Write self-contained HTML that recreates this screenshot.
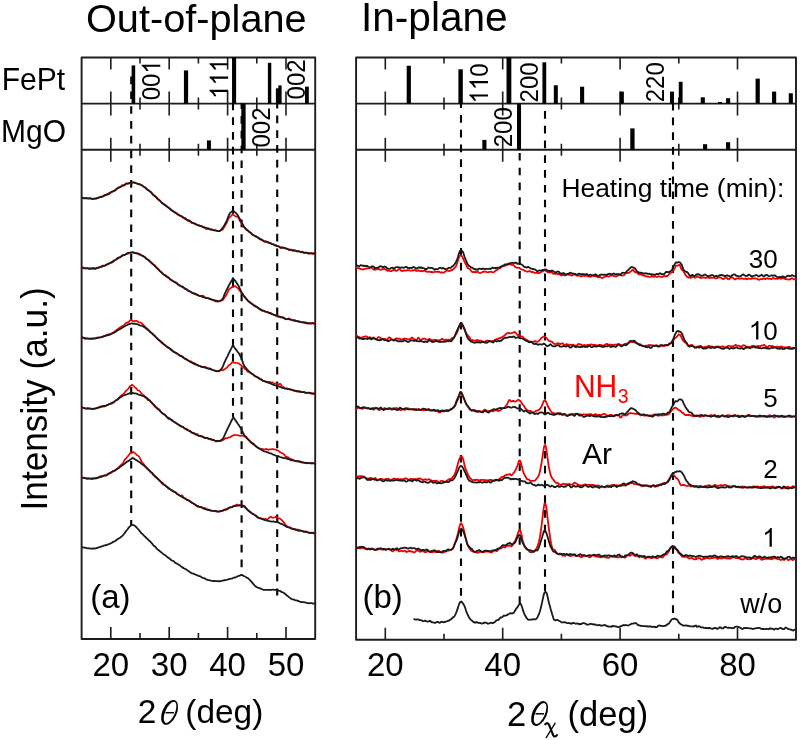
<!DOCTYPE html>
<html><head><meta charset="utf-8"><style>
html,body{margin:0;padding:0;background:#fff;}
svg{display:block;will-change:transform;}
</style></head><body>
<svg width="800" height="740" viewBox="0 0 800 740">
<rect width="800" height="740" fill="#fff"/>
<rect x="81.6" y="57.5" width="233.6" height="581.5" stroke="#1c1c1c" stroke-width="1.9" fill="none" stroke-linejoin="round"/>
<line x1="81.6" y1="103.6" x2="315.2" y2="103.6" stroke="#1c1c1c" stroke-width="1.9" fill="none"/>
<line x1="81.6" y1="149.8" x2="315.2" y2="149.8" stroke="#1c1c1c" stroke-width="1.9" fill="none"/>
<rect x="356.1" y="57.5" width="439.9" height="582.3" stroke="#1c1c1c" stroke-width="1.9" fill="none" stroke-linejoin="round"/>
<line x1="356.1" y1="103.6" x2="796" y2="103.6" stroke="#1c1c1c" stroke-width="1.9" fill="none"/>
<line x1="356.1" y1="149.8" x2="796" y2="149.8" stroke="#1c1c1c" stroke-width="1.9" fill="none"/>
<path d="M110.8 57.5v12M110.8 103.6v-12M169.2 57.5v12M169.2 103.6v-12M227.6 57.5v12M227.6 103.6v-12M286 57.5v12M286 103.6v-12M140 57.5v6M140 103.6v-6M198.4 57.5v6M198.4 103.6v-6M256.8 57.5v6M256.8 103.6v-6M110.8 103.6v12M110.8 149.8v-12M169.2 103.6v12M169.2 149.8v-12M227.6 103.6v12M227.6 149.8v-12M286 103.6v12M286 149.8v-12M140 103.6v6M140 149.8v-6M198.4 103.6v6M198.4 149.8v-6M256.8 103.6v6M256.8 149.8v-6M110.8 149.8v12M110.8 639v-12M169.2 149.8v12M169.2 639v-12M227.6 149.8v12M227.6 639v-12M286 149.8v12M286 639v-12M140 149.8v6M140 639v-6M198.4 149.8v6M198.4 639v-6M256.8 149.8v6M256.8 639v-6" stroke="#1c1c1c" stroke-width="1.6" fill="none"/>
<path d="M385.3 57.5v12M385.3 103.6v-12M502.7 57.5v12M502.7 103.6v-12M620.1 57.5v12M620.1 103.6v-12M737.5 57.5v12M737.5 103.6v-12M444 57.5v6M444 103.6v-6M561.4 57.5v6M561.4 103.6v-6M678.8 57.5v6M678.8 103.6v-6M385.3 103.6v12M385.3 149.8v-12M502.7 103.6v12M502.7 149.8v-12M620.1 103.6v12M620.1 149.8v-12M737.5 103.6v12M737.5 149.8v-12M444 103.6v6M444 149.8v-6M561.4 103.6v6M561.4 149.8v-6M678.8 103.6v6M678.8 149.8v-6M385.3 149.8v12M385.3 639.8v-12M502.7 149.8v12M502.7 639.8v-12M620.1 149.8v12M620.1 639.8v-12M737.5 149.8v12M737.5 639.8v-12M444 149.8v6M444 639.8v-6M561.4 149.8v6M561.4 639.8v-6M678.8 149.8v6M678.8 639.8v-6" stroke="#1c1c1c" stroke-width="1.6" fill="none"/>
<rect x="131.6" y="65.4" width="3.6" height="38.2" fill="#000"/>
<rect x="183.92" y="70.4" width="4.2" height="33.2" fill="#000"/>
<rect x="232.03" y="57.5" width="4.1" height="46.1" fill="#000"/>
<rect x="267.89" y="62.8" width="3.4" height="40.8" fill="#000"/>
<rect x="275.88" y="88.3" width="3.3" height="15.3" fill="#000"/>
<rect x="278.33" y="85.4" width="3.3" height="18.2" fill="#000"/>
<rect x="305.01" y="86.6" width="3.8" height="17" fill="#000"/>
<rect x="206.91" y="140.4" width="4" height="9.4" fill="#000"/>
<rect x="241.33" y="103.6" width="4.3" height="46.2" fill="#000"/>
<rect x="406.68" y="65.75" width="4.2" height="37.85" fill="#000"/>
<rect x="458.41" y="69.3" width="4.4" height="34.3" fill="#000"/>
<rect x="506.52" y="57.5" width="4.8" height="46.1" fill="#000"/>
<rect x="542.42" y="62.3" width="3.8" height="41.3" fill="#000"/>
<rect x="553.82" y="85.3" width="4" height="18.3" fill="#000"/>
<rect x="580.07" y="86.7" width="4.1" height="16.9" fill="#000"/>
<rect x="619.75" y="91.6" width="4.1" height="12" fill="#000"/>
<rect x="669.99" y="91.6" width="4" height="12" fill="#000"/>
<rect x="678.78" y="81.8" width="3.8" height="21.8" fill="#000"/>
<rect x="700.76" y="97.3" width="4.1" height="6.3" fill="#000"/>
<rect x="718.01" y="102" width="4" height="1.6" fill="#000"/>
<rect x="726.06" y="98.2" width="4.1" height="5.4" fill="#000"/>
<rect x="755.59" y="78.6" width="4.2" height="25" fill="#000"/>
<rect x="772.08" y="91.6" width="4.1" height="12" fill="#000"/>
<rect x="788.75" y="93.3" width="4.1" height="10.3" fill="#000"/>
<rect x="482.34" y="139.9" width="4.1" height="9.9" fill="#000"/>
<rect x="517.02" y="103.6" width="4" height="46.2" fill="#000"/>
<rect x="630.28" y="128.4" width="4.3" height="21.4" fill="#000"/>
<rect x="703.05" y="144.2" width="4.1" height="5.6" fill="#000"/>
<rect x="726.06" y="142.2" width="4.1" height="7.6" fill="#000"/>
<g transform="translate(160.28,100.3) rotate(-90) scale(1,1.08)"><text x="0" y="0" font-size="24" font-family="Liberation Sans" fill="#000">0</text><text x="13.34" y="0" font-size="24" font-family="Liberation Sans" fill="#000">0</text><path class="g1" d="M763 0H583V1147Q518 1085 412.5 1023T223 930V1104Q374 1175 487 1276T647 1472H763V0Z" fill="#000" transform="translate(26.69,0) scale(0.01172,-0.01172)"/></g>
<g transform="translate(228.18,98.8) rotate(-90) scale(1,1.08)"><path class="g1" d="M763 0H583V1147Q518 1085 412.5 1023T223 930V1104Q374 1175 487 1276T647 1472H763V0Z" fill="#000" transform="translate(0,0) scale(0.01172,-0.01172)"/><path class="g1" d="M763 0H583V1147Q518 1085 412.5 1023T223 930V1104Q374 1175 487 1276T647 1472H763V0Z" fill="#000" transform="translate(13.34,0) scale(0.01172,-0.01172)"/><path class="g1" d="M763 0H583V1147Q518 1085 412.5 1023T223 930V1104Q374 1175 487 1276T647 1472H763V0Z" fill="#000" transform="translate(26.69,0) scale(0.01172,-0.01172)"/></g>
<g transform="translate(304.78,99.4) rotate(-90) scale(1,1.08)"><text x="0" y="0" font-size="24" font-family="Liberation Sans" fill="#000">0</text><text x="13.34" y="0" font-size="24" font-family="Liberation Sans" fill="#000">0</text><text x="26.69" y="0" font-size="24" font-family="Liberation Sans" fill="#000">2</text></g>
<g transform="translate(269.68,147.5) rotate(-90) scale(1,1.08)"><text x="0" y="0" font-size="24" font-family="Liberation Sans" fill="#000">0</text><text x="13.34" y="0" font-size="24" font-family="Liberation Sans" fill="#000">0</text><text x="26.69" y="0" font-size="24" font-family="Liberation Sans" fill="#000">2</text></g>
<g transform="translate(487.98,103.4) rotate(-90) scale(1,1.08)"><path class="g1" d="M763 0H583V1147Q518 1085 412.5 1023T223 930V1104Q374 1175 487 1276T647 1472H763V0Z" fill="#000" transform="translate(0,0) scale(0.01172,-0.01172)"/><path class="g1" d="M763 0H583V1147Q518 1085 412.5 1023T223 930V1104Q374 1175 487 1276T647 1472H763V0Z" fill="#000" transform="translate(13.34,0) scale(0.01172,-0.01172)"/><text x="26.69" y="0" font-size="24" font-family="Liberation Sans" fill="#000">0</text></g>
<g transform="translate(538.28,102.4) rotate(-90) scale(1,1.08)"><text x="0" y="0" font-size="24" font-family="Liberation Sans" fill="#000">2</text><text x="13.34" y="0" font-size="24" font-family="Liberation Sans" fill="#000">0</text><text x="26.69" y="0" font-size="24" font-family="Liberation Sans" fill="#000">0</text></g>
<g transform="translate(512.08,147.3) rotate(-90) scale(1,1.08)"><text x="0" y="0" font-size="24" font-family="Liberation Sans" fill="#000">2</text><text x="13.34" y="0" font-size="24" font-family="Liberation Sans" fill="#000">0</text><text x="26.69" y="0" font-size="24" font-family="Liberation Sans" fill="#000">0</text></g>
<g transform="translate(664.08,102.3) rotate(-90) scale(1,1.08)"><text x="0" y="0" font-size="24" font-family="Liberation Sans" fill="#000">2</text><text x="13.34" y="0" font-size="24" font-family="Liberation Sans" fill="#000">2</text><text x="26.69" y="0" font-size="24" font-family="Liberation Sans" fill="#000">0</text></g>
<line x1="131.2" y1="76.6" x2="131.2" y2="525" stroke="#000" stroke-width="2.1" stroke-dasharray="7.7 7.08" stroke-dashoffset="0"/>
<line x1="233" y1="103.6" x2="233" y2="417" stroke="#000" stroke-width="2.1" stroke-dasharray="7.7 7.08" stroke-dashoffset="1.1"/>
<line x1="241.6" y1="103.6" x2="241.6" y2="575" stroke="#000" stroke-width="2.1" stroke-dasharray="7.7 7.08" stroke-dashoffset="2.3"/>
<line x1="277.2" y1="103.6" x2="277.2" y2="595.5" stroke="#000" stroke-width="2.1" stroke-dasharray="7.7 7.08" stroke-dashoffset="2.9"/>
<line x1="461" y1="103.6" x2="461" y2="601.5" stroke="#000" stroke-width="2.1" stroke-dasharray="7.7 7.08" stroke-dashoffset="3.4"/>
<line x1="519.7" y1="149.8" x2="519.7" y2="603" stroke="#000" stroke-width="2.1" stroke-dasharray="7.7 7.08" stroke-dashoffset="11.7"/>
<line x1="545" y1="103.6" x2="545" y2="591" stroke="#000" stroke-width="2.1" stroke-dasharray="7.7 7.08" stroke-dashoffset="7.4"/>
<line x1="673" y1="103.6" x2="673" y2="619" stroke="#000" stroke-width="2.1" stroke-dasharray="7.7 7.08" stroke-dashoffset="0.9"/>
<polyline points="82,197.67 82.8,197.99 83.6,197.99 84.4,197.93 85.2,198.25 86,198.17 86.8,197.94 87.6,198.33 88.4,198.6 89.2,198.36 90,198.2 90.8,198.58 91.6,199.03 92.4,199.16 93.2,198.9 94,198.63 94.8,198.65 95.6,198.75 96.4,198.8 97.2,198.29 98,197.79 98.8,197.66 99.6,197.24 100.4,196.68 101.2,196.49 102,196.54 102.8,196.18 103.6,195.5 104.4,195.11 105.2,194.86 106,194.93 106.8,195.18 107.6,194.56 108.4,194.05 109.2,194.12 110,193.34 110.8,192.06 111.6,191.65 112.4,191.83 113.2,191.4 114,190.86 114.8,190.78 115.6,190.37 116.4,189.26 117.2,188.34 118,187.9 118.8,187.25 119.6,187.12 120.4,187.1 121.2,186.24 122,185.39 122.8,185.15 123.6,185.48 124.4,185.46 125.2,184.38 126,183.36 126.8,183.45 127.6,183.65 128.4,183.14 129.2,182.83 130,183.08 130.8,183.09 131.6,182.7 132.4,182.48 133.2,182.41 134,182.42 134.8,182.83 135.6,183.2 136.4,183.28 137.2,183.49 138,183.79 138.8,183.91 139.6,183.98 140.4,184.45 141.2,185.1 142,185.51 142.8,186.13 143.6,186.81 144.4,187.16 145.2,187.6 146,188.45 146.8,189.37 147.6,189.75 148.4,190.26 149.2,190.96 150,191.4 150.8,191.89 151.6,192.74 152.4,194.08 153.2,195.11 154,195.51 154.8,195.9 155.6,196.52 156.4,196.99 157.2,197.88 158,199.27 158.8,200.02 159.6,200.54 160.4,201.16 161.2,202.04 162,202.93 162.8,203.21 163.6,203.68 164.4,204.38 165.2,204.86 166,205.48 166.8,206.27 167.6,206.94 168.4,207.55 169.2,207.91 170,208.46 170.8,209.49 171.6,210.04 172.4,210.41 173.2,211.12 174,211.8 174.8,212.09 175.6,212.4 176.4,213.2 177.2,214.2 178,214.85 178.8,215.14 179.6,215.59 180.4,215.9 181.2,216.11 182,216.92 182.8,217.78 183.6,217.97 184.4,217.84 185.2,217.97 186,218.59 186.8,219.4 187.6,219.96 188.4,220.09 189.2,220.2 190,221.1 190.8,222.28 191.6,222.81 192.4,222.7 193.2,222.82 194,223.36 194.8,223.73 195.6,224.19 196.4,224.6 197.2,224.96 198,225.35 198.8,225.69 199.6,225.96 200.4,225.96 201.2,226.1 202,226.56 202.8,226.94 203.6,227.12 204.4,227.42 205.2,228.14 206,228.98 206.8,229.16 207.6,228.81 208.4,228.8 209.2,229.2 210,229.52 210.8,229.4 211.6,229.17 212.4,229.57 213.2,230.21 214,230.4 214.8,230.33 215.6,230.41 216.4,230.77 217.2,230.95 218,231.01 218.8,231.26 219.6,230.96 220.4,230.42 221.2,230.24 222,230.03 222.8,229.47 223.6,228.17 224.4,226.74 225.2,225.38 226,224.1 226.8,222.85 227.6,220.61 228.4,218.47 229.2,217.58 230,217.04 230.8,216.31 231.6,215.41 232.4,214.48 233.2,214.57 234,215.38 234.8,215.88 235.6,216.4 236.4,216.72 237.2,216.56 238,217.12 238.8,218.67 239.6,220.39 240.4,221.71 241.2,222.65 242,224.16 242.8,226.19 243.6,227.2 244.4,227.54 245.2,228.45 246,229.53 246.8,230.18 247.6,230.57 248.4,231.07 249.2,231.83 250,232.44 250.8,232.68 251.6,233.34 252.4,234.4 253.2,235.01 254,235.3 254.8,235.52 255.6,235.72 256.4,236.44 257.2,237.35 258,237.79 258.8,238.34 259.6,239.24 260.4,239.56 261.2,239.35 262,239.61 262.8,240.2 263.6,241.06 264.4,241.87 265.2,241.83 266,241.39 266.8,241.76 267.6,242.46 268.4,242.63 269.2,242.64 270,242.71 270.8,243.18 271.6,243.69 272.4,244.07 273.2,244.45 274,244.5 274.8,244.69 275.6,244.99 276.4,245.29 277.2,245.78 278,246.1 278.8,246.39 279.6,247.03 280.4,247.9 281.2,248.26 282,247.95 282.8,247.83 283.6,247.99 284.4,247.93 285.2,247.9 286,248.39 286.8,248.91 287.6,249.1 288.4,249.52 289.2,250.01 290,250.17 290.8,250.07 291.6,250.11 292.4,250.79 293.2,250.97 294,250.32 294.8,250.39 295.6,250.92 296.4,251.21 297.2,251.36 298,251.16 298.8,250.98 299.6,251.42 300.4,251.99 301.2,251.88 302,251.46 302.8,251.73 303.6,252.51 304.4,252.9 305.2,252.71 306,252.43 306.8,252.7 307.6,253.45 308.4,253.85 309.2,253.55 310,253.36 310.8,253.45 311.6,253.35 312.4,253.24 313.2,253.29 314,253.32 314.8,253.39 315.2,253.44" fill="none" stroke="#f00000" stroke-width="1.7" stroke-linejoin="round" stroke-linecap="round"/>
<polyline points="82,197.63 82.8,197.95 83.6,198.29 84.4,198.38 85.2,198.26 86,198.2 86.8,198.32 87.6,198.4 88.4,198.38 89.2,198.44 90,198.45 90.8,198.47 91.6,198.66 92.4,198.84 93.2,198.93 94,198.95 94.8,198.73 95.6,198.38 96.4,198.16 97.2,198.08 98,197.96 98.8,197.61 99.6,197.25 100.4,197 101.2,196.89 102,196.8 102.8,196.51 103.6,196.19 104.4,195.78 105.2,195.21 106,194.73 106.8,194.41 107.6,194.07 108.4,193.55 109.2,193.1 110,192.83 110.8,192.52 111.6,192.13 112.4,191.55 113.2,191.01 114,190.74 114.8,190.33 115.6,189.66 116.4,188.96 117.2,188.49 118,188.14 118.8,187.63 119.6,187.35 120.4,187.11 121.2,186.41 122,185.82 122.8,185.63 123.6,185.46 124.4,185.03 125.2,184.5 126,184.05 126.8,183.65 127.6,183.53 128.4,183.55 129.2,183.28 130,182.89 130.8,182.64 131.6,182.53 132.4,182.51 133.2,182.59 134,182.66 134.8,182.72 135.6,182.99 136.4,183.28 137.2,183.5 138,183.95 138.8,184.3 139.6,184.45 140.4,184.74 141.2,184.99 142,185.33 142.8,186.04 143.6,186.6 144.4,186.97 145.2,187.52 146,188.25 146.8,189 147.6,189.66 148.4,190.34 149.2,190.87 150,191.39 150.8,192.17 151.6,192.96 152.4,193.82 153.2,194.72 154,195.37 154.8,196 155.6,196.77 156.4,197.62 157.2,198.59 158,199.25 158.8,199.65 159.6,200.39 160.4,201.34 161.2,202.17 162,202.89 162.8,203.67 163.6,204.26 164.4,204.67 165.2,205.3 166,205.95 166.8,206.46 167.6,207.01 168.4,207.66 169.2,208.36 170,209.03 170.8,209.73 171.6,210.36 172.4,210.87 173.2,211.33 174,211.88 174.8,212.56 175.6,213.04 176.4,213.32 177.2,213.69 178,214.18 178.8,214.78 179.6,215.4 180.4,215.75 181.2,216.02 182,216.46 182.8,216.99 183.6,217.67 184.4,218.36 185.2,218.88 186,219.33 186.8,219.9 187.6,220.48 188.4,220.86 189.2,221.05 190,221.27 190.8,221.75 191.6,222.41 192.4,222.88 193.2,223.1 194,223.36 194.8,223.59 195.6,223.94 196.4,224.44 197.2,224.77 198,225.09 198.8,225.27 199.6,225.47 200.4,225.92 201.2,226.08 202,226.26 202.8,226.98 203.6,227.47 204.4,227.46 205.2,227.58 206,227.78 206.8,228 207.6,228.24 208.4,228.36 209.2,228.75 210,229.31 210.8,229.54 211.6,229.7 212.4,229.93 213.2,230.08 214,230.22 214.8,230.38 215.6,230.42 216.4,230.56 217.2,230.85 218,231.01 218.8,231.17 219.6,231.06 220.4,230.43 221.2,229.54 222,228.54 222.8,227.61 223.6,226.52 224.4,225.23 225.2,223.77 226,222.24 226.8,220.62 227.6,218.5 228.4,216.34 229.2,214.48 230,213.19 230.8,212.36 231.6,211.68 232.4,211.4 233.2,211.41 234,211.57 234.8,212.08 235.6,212.82 236.4,213.53 237.2,214.42 238,215.77 238.8,217.2 239.6,218.56 240.4,219.98 241.2,221.42 242,222.9 242.8,224.54 243.6,226.07 244.4,227.17 245.2,228.09 246,229.01 246.8,229.76 247.6,230.33 248.4,231.04 249.2,231.77 250,232.39 250.8,233.12 251.6,233.91 252.4,234.65 253.2,235.15 254,235.43 254.8,235.97 255.6,236.6 256.4,236.87 257.2,237.05 258,237.56 258.8,238.15 259.6,238.55 260.4,239 261.2,239.52 262,240.01 262.8,240.57 263.6,240.99 264.4,241.19 265.2,241.36 266,241.59 266.8,241.85 267.6,242.11 268.4,242.57 269.2,243.03 270,243.22 270.8,243.46 271.6,243.84 272.4,244.1 273.2,244.34 274,244.85 274.8,245.45 275.6,245.73 276.4,245.84 277.2,246.03 278,246.23 278.8,246.51 279.6,247.01 280.4,247.27 281.2,247.3 282,247.44 282.8,247.51 283.6,247.64 284.4,248 285.2,248.39 286,248.62 286.8,248.73 287.6,248.93 288.4,249.39 289.2,249.73 290,249.69 290.8,249.72 291.6,249.91 292.4,250.02 293.2,250.18 294,250.45 294.8,250.52 295.6,250.63 296.4,251.05 297.2,251.38 298,251.33 298.8,251.3 299.6,251.66 300.4,251.94 301.2,252.04 302,252.26 302.8,252.44 303.6,252.64 304.4,252.75 305.2,252.7 306,252.77 306.8,252.97 307.6,253.03 308.4,252.98 309.2,253.08 310,253.33 310.8,253.33 311.6,253.17 312.4,253.36 313.2,253.74 314,253.74 314.8,253.42 315.2,253.31" fill="none" stroke="#1a1a1a" stroke-width="1.8" stroke-linejoin="round" stroke-linecap="round"/>
<polyline points="82,267.57 82.8,267.97 83.6,268.44 84.4,268.48 85.2,268.37 86,268.25 86.8,268.11 87.6,268.16 88.4,268.29 89.2,268.28 90,268.02 90.8,268.16 91.6,268.66 92.4,268.25 93.2,267.71 94,268.32 94.8,269.02 95.6,269.05 96.4,268.62 97.2,267.87 98,267.53 98.8,267.45 99.6,267 100.4,266.69 101.2,266.52 102,265.99 102.8,265.5 103.6,265.65 104.4,265.93 105.2,265.68 106,265.02 106.8,264.56 107.6,264.41 108.4,263.96 109.2,263.54 110,263.3 110.8,262.93 111.6,262.78 112.4,262.49 113.2,261.77 114,261.09 114.8,260.38 115.6,259.68 116.4,259.36 117.2,259.24 118,258.52 118.8,257.56 119.6,257.41 120.4,257.31 121.2,256.15 122,255.33 122.8,255.45 123.6,255.09 124.4,254.77 125.2,254.82 126,254.32 126.8,253.85 127.6,253.78 128.4,253.63 129.2,253.19 130,252.81 130.8,252.93 131.6,252.75 132.4,252.21 133.2,252.23 134,252.64 134.8,253.07 135.6,253.18 136.4,253.37 137.2,253.54 138,253.37 138.8,253.99 139.6,254.8 140.4,255.07 141.2,255.44 142,255.68 142.8,255.89 143.6,256.15 144.4,256.62 145.2,257.41 146,258.37 146.8,259.27 147.6,259.5 148.4,259.83 149.2,260.68 150,261.44 150.8,261.99 151.6,262.6 152.4,263.67 153.2,264.59 154,264.93 154.8,265.3 155.6,266.2 156.4,267.24 157.2,267.96 158,268.8 158.8,269.75 159.6,270.58 160.4,271.25 161.2,271.75 162,272.67 162.8,273.83 163.6,274.49 164.4,274.88 165.2,275.07 166,275.45 166.8,276.18 167.6,276.71 168.4,277.18 169.2,278.16 170,279.28 170.8,279.95 171.6,280.46 172.4,280.91 173.2,281.23 174,281.48 174.8,281.81 175.6,282.1 176.4,282.43 177.2,283.49 178,284.64 178.8,284.91 179.6,285.3 180.4,286.03 181.2,286.31 182,286.4 182.8,286.76 183.6,287.39 184.4,288.46 185.2,289.25 186,289 186.8,289.06 187.6,289.96 188.4,290.59 189.2,290.93 190,291.47 190.8,292.25 191.6,292.69 192.4,292.95 193.2,293.34 194,293.29 194.8,293.36 195.6,293.81 196.4,294.5 197.2,295.07 198,295.04 198.8,295.49 199.6,296.2 200.4,296.05 201.2,295.83 202,295.84 202.8,295.63 203.6,296.03 204.4,297.03 205.2,297.66 206,298.04 206.8,298.23 207.6,298.23 208.4,298.43 209.2,298.69 210,298.81 210.8,298.91 211.6,299.33 212.4,299.78 213.2,299.97 214,300.48 214.8,301.1 215.6,301.33 216.4,301.52 217.2,301.67 218,301.56 218.8,301.37 219.6,301.16 220.4,300.67 221.2,300.42 222,300.46 222.8,300 223.6,299.06 224.4,297.85 225.2,296.61 226,295.41 226.8,294.17 227.6,292.49 228.4,290.48 229.2,289.03 230,288.36 230.8,287.91 231.6,287.26 232.4,286.89 233.2,286.45 234,285.98 234.8,286.06 235.6,286.52 236.4,287.24 237.2,287.73 238,288.43 238.8,289.49 239.6,290.36 240.4,291.41 241.2,292.56 242,293.45 242.8,294.34 243.6,295.36 244.4,296.59 245.2,297.62 246,298.52 246.8,299.56 247.6,300.37 248.4,301.1 249.2,301.95 250,302.69 250.8,303.08 251.6,303.49 252.4,304.17 253.2,304.8 254,305.54 254.8,306.33 255.6,306.78 256.4,307.03 257.2,307.41 258,307.86 258.8,308.5 259.6,309.21 260.4,309.67 261.2,310.17 262,310.73 262.8,310.92 263.6,310.85 264.4,311.2 265.2,311.66 266,311.74 266.8,311.91 267.6,312.11 268.4,312.57 269.2,313.03 270,312.72 270.8,312.76 271.6,313.58 272.4,314.11 273.2,314.6 274,315.03 274.8,314.93 275.6,315.02 276.4,315.73 277.2,316.34 278,316.57 278.8,316.68 279.6,316.92 280.4,317.28 281.2,317.32 282,317.21 282.8,317.15 283.6,317.44 284.4,318.39 285.2,319.15 286,319.29 286.8,319.25 287.6,319.08 288.4,318.68 289.2,318.43 290,318.88 290.8,319.73 291.6,319.99 292.4,319.91 293.2,320.03 294,319.96 294.8,319.99 295.6,320.62 296.4,321.2 297.2,321.28 298,321.19 298.8,321.31 299.6,321.71 300.4,321.98 301.2,322.17 302,322.22 302.8,322.02 303.6,322.14 304.4,322.28 305.2,322.37 306,323.01 306.8,323.53 307.6,323.56 308.4,323.64 309.2,323.48 310,323.29 310.8,323.64 311.6,323.44 312.4,322.74 313.2,323.01 314,323.4 314.8,323.02 315.2,322.9" fill="none" stroke="#f00000" stroke-width="1.7" stroke-linejoin="round" stroke-linecap="round"/>
<polyline points="82,267.37 82.8,267.52 83.6,267.71 84.4,267.99 85.2,268.24 86,268.32 86.8,268.26 87.6,268.31 88.4,268.67 89.2,268.98 90,268.89 90.8,268.69 91.6,268.57 92.4,268.49 93.2,268.45 94,268.5 94.8,268.5 95.6,268.31 96.4,268.02 97.2,267.87 98,267.8 98.8,267.61 99.6,267.36 100.4,267.12 101.2,266.9 102,266.59 102.8,266.16 103.6,265.81 104.4,265.56 105.2,265.29 106,264.91 106.8,264.52 107.6,264.13 108.4,263.67 109.2,263.33 110,263 110.8,262.47 111.6,261.98 112.4,261.65 113.2,261.11 114,260.56 114.8,260.29 115.6,259.94 116.4,259.2 117.2,258.33 118,257.89 118.8,257.74 119.6,257.41 120.4,256.96 121.2,256.52 122,256.01 122.8,255.39 123.6,254.98 124.4,254.78 125.2,254.53 126,254.16 126.8,253.6 127.6,253.14 128.4,252.94 129.2,252.77 130,252.62 130.8,252.45 131.6,252.36 132.4,252.41 133.2,252.5 134,252.68 134.8,252.98 135.6,253.13 136.4,253.18 137.2,253.44 138,253.78 138.8,253.9 139.6,254.05 140.4,254.45 141.2,255.04 142,255.51 142.8,255.88 143.6,256.42 144.4,257 145.2,257.58 146,258.31 146.8,259.04 147.6,259.58 148.4,260.06 149.2,260.71 150,261.53 150.8,262.31 151.6,263.04 152.4,263.75 153.2,264.33 154,264.97 154.8,265.91 155.6,266.83 156.4,267.55 157.2,268.34 158,269.08 158.8,269.75 159.6,270.71 160.4,271.66 161.2,272.33 162,272.91 162.8,273.58 163.6,274.25 164.4,274.85 165.2,275.62 166,276.33 166.8,276.72 167.6,277.18 168.4,277.79 169.2,278.38 170,278.98 170.8,279.6 171.6,280.09 172.4,280.58 173.2,281.23 174,281.77 174.8,282.33 175.6,282.78 176.4,283.09 177.2,283.75 178,284.33 178.8,284.7 179.6,285.31 180.4,286 181.2,286.46 182,286.72 182.8,287.12 183.6,287.63 184.4,288.01 185.2,288.55 186,289.28 186.8,289.81 187.6,290.39 188.4,290.93 189.2,291.21 190,291.52 190.8,291.94 191.6,292.36 192.4,292.78 193.2,293.19 194,293.58 194.8,293.99 195.6,294.31 196.4,294.48 197.2,294.73 198,295.21 198.8,295.6 199.6,295.77 200.4,295.97 201.2,296.33 202,296.79 202.8,297.16 203.6,297.29 204.4,297.37 205.2,297.64 206,297.98 206.8,298.14 207.6,298.15 208.4,298.27 209.2,298.57 210,298.92 210.8,299.29 211.6,299.6 212.4,299.81 213.2,299.98 214,300.18 214.8,300.36 215.6,300.49 216.4,300.66 217.2,300.9 218,301.06 218.8,301.11 219.6,300.9 220.4,300.59 221.2,300.24 222,299.63 222.8,298.59 223.6,296.81 224.4,294.6 225.2,292.84 226,291.22 226.8,289.5 227.6,287.96 228.4,286.48 229.2,284.95 230,283.41 230.8,282.08 231.6,280.8 232.4,279.27 233,278.04 233.8,279.34 234.6,280.21 235.4,281.07 236.2,282.29 237,283.48 237.8,284.64 238.6,286.02 239.4,287.55 240.2,289.35 241,291.22 241.8,292.7 242.6,293.98 243.4,295.42 244.2,296.52 245,297.19 245.8,298.18 246.6,299.23 247.4,300.01 248.2,300.96 249,301.82 249.8,302.3 250.6,302.81 251.4,303.56 252.2,304.18 253,304.57 253.8,305.08 254.6,305.65 255.4,306.06 256.2,306.58 257,307.13 257.8,307.62 258.6,308.28 259.4,308.86 260.2,309.12 261,309.63 261.8,310.25 262.6,310.42 263.4,310.54 264.2,310.93 265,311.39 265.8,311.7 266.6,311.89 267.4,312.18 268.2,312.52 269,312.83 269.8,313.2 270.6,313.56 271.4,313.81 272.2,314.12 273,314.37 273.8,314.55 274.6,315 275.4,315.52 276.2,315.71 277,315.81 277.8,316.1 278.6,316.42 279.4,316.61 280.2,316.82 281,317.1 281.8,317.31 282.6,317.51 283.4,317.81 284.2,318.15 285,318.55 285.8,318.94 286.6,319.07 287.4,319.11 288.2,319.21 289,319.25 289.8,319.37 290.6,319.53 291.4,319.73 292.2,320.04 293,320.27 293.8,320.52 294.6,320.85 295.4,320.95 296.2,320.97 297,321.22 297.8,321.42 298.6,321.48 299.4,321.68 300.2,321.95 301,322.14 301.8,322.33 302.6,322.44 303.4,322.55 304.2,322.74 305,322.75 305.8,322.66 306.6,322.76 307.4,322.97 308.2,323.13 309,323.17 309.8,323.24 310.6,323.37 311.4,323.38 312.2,323.37 313,323.43 313.8,323.51 314.6,323.64 315.2,323.67" fill="none" stroke="#1a1a1a" stroke-width="1.8" stroke-linejoin="round" stroke-linecap="round"/>
<polyline points="82,337.47 82.8,337.54 83.6,337.73 84.4,338.35 85.2,338.99 86,338.84 86.8,338.46 87.6,338.5 88.4,338.6 89.2,338.54 90,338.59 90.8,338.64 91.6,338.42 92.4,338.54 93.2,338.69 94,338.29 94.8,338.08 95.6,338.27 96.4,338.23 97.2,338.08 98,337.96 98.8,337.6 99.6,337.47 100.4,337.51 101.2,337.42 102,337.27 102.8,336.8 103.6,336.17 104.4,335.86 105.2,335.71 106,335.26 106.8,334.78 107.6,334.5 108.4,334.28 109.2,334.22 110,334.25 110.8,334.32 111.6,333.95 112.4,333.02 113.2,332.51 114,332.14 114.8,331.37 115.6,330.78 116.4,330.09 117.2,329.44 118,329.15 118.8,328.53 119.6,327.72 120.4,327.24 121.2,326.87 122,326.24 122.8,325.73 123.6,325.49 124.4,324.71 125.2,323.66 126,322.95 126.8,322.58 127.6,322.53 128.4,322.05 129.2,321.28 130,320.56 130.8,319.99 131.6,320.19 132.4,320.84 133.2,321.06 134,321.09 134.8,321.11 135.6,320.91 136.4,320.93 137.2,321.11 138,321.7 138.8,322.5 139.6,322.43 140.4,322.34 141.2,322.93 142,323.54 142.8,324.42 143.6,325.3 144.4,325.86 145.2,326.7 146,327.72 146.8,328.22 147.6,328.69 148.4,329.69 149.2,331.06 150,332.08 150.8,332.55 151.6,333.18 152.4,334 153.2,334.77 154,335.41 154.8,336.06 155.6,336.82 156.4,337.54 157.2,338.4 158,339.42 158.8,340.21 159.6,340.7 160.4,341.4 161.2,342.41 162,343.18 162.8,343.68 163.6,344.38 164.4,344.97 165.2,345.26 166,345.73 166.8,346.54 167.6,347.17 168.4,347.38 169.2,347.97 170,348.74 170.8,349.13 171.6,349.7 172.4,350.44 173.2,351.17 174,351.98 174.8,352.56 175.6,352.69 176.4,352.93 177.2,353.67 178,354.29 178.8,354.75 179.6,355.33 180.4,355.79 181.2,355.89 182,356.01 182.8,356.62 183.6,357.49 184.4,358.46 185.2,358.92 186,358.88 186.8,359.29 187.6,359.95 188.4,360.35 189.2,360.9 190,361.36 190.8,361.42 191.6,361.65 192.4,362.29 193.2,363.31 194,364.24 194.8,364.47 195.6,364.24 196.4,364.33 197.2,365.06 198,365.56 198.8,365.63 199.6,365.82 200.4,366.2 201.2,366.92 202,367.17 202.8,367.02 203.6,367.19 204.4,366.95 205.2,366.75 206,367.27 206.8,367.71 207.6,368.08 208.4,368.68 209.2,369.11 210,369.13 210.8,369.06 211.6,369.38 212.4,369.97 213.2,370.29 214,370.46 214.8,370.7 215.6,370.71 216.4,370.97 217.2,371.47 218,371.5 218.8,371.11 219.6,370.75 220.4,370.47 221.2,370.09 222,370.27 222.8,370.47 223.6,369.77 224.4,369.22 225.2,368.92 226,368.19 226.8,367.61 227.6,366.86 228.4,365.62 229.2,364.92 230,364.7 230.8,364.06 231.6,362.85 232.4,362.14 233.2,362.34 234,362.56 234.8,362.65 235.6,362.91 236.4,363.01 237.2,363.01 238,363.13 238.8,363.5 239.6,364.25 240.4,364.69 241.2,365.39 242,366.36 242.8,366.69 243.6,367.29 244.4,368.45 245.2,369.06 246,369.37 246.8,370.43 247.6,371.62 248.4,371.98 249.2,372.12 250,372.55 250.8,373.12 251.6,373.78 252.4,374.21 253.2,374.51 254,375.29 254.8,376.09 255.6,376.36 256.4,376.62 257.2,377.08 258,377.44 258.8,377.93 259.6,378.61 260.4,378.97 261.2,379.38 262,380.11 262.8,380.7 263.6,381.03 264.4,381.17 265.2,381.51 266,382 266.8,382.02 267.6,381.78 268.4,381.82 269.2,381.77 270,382.03 270.8,382.42 271.6,382.26 272.4,382.3 273.2,382.91 274,383.57 274.8,383.51 275.6,383.45 276.4,383.79 277.2,383.89 278,384.15 278.8,384.36 279.6,383.95 280.4,383.88 281.2,384.94 282,386.11 282.8,386.65 283.6,387.13 284.4,388.12 285.2,388.77 286,388.53 286.8,388.31 287.6,388.56 288.4,389.04 289.2,389.48 290,389.46 290.8,389.39 291.6,389.67 292.4,390.09 293.2,390.6 294,390.6 294.8,390.41 295.6,390.92 296.4,391.43 297.2,391.56 298,391.67 298.8,391.36 299.6,391.14 300.4,391.87 301.2,392.26 302,391.97 302.8,392.16 303.6,392.24 304.4,392.01 305.2,392.38 306,392.79 306.8,392.77 307.6,392.64 308.4,392.55 309.2,392.55 310,392.67 310.8,392.73 311.6,393 312.4,393.64 313.2,394.02 314,393.89 314.8,393.57 315.2,393.51" fill="none" stroke="#f00000" stroke-width="1.7" stroke-linejoin="round" stroke-linecap="round"/>
<polyline points="82,337.37 82.8,337.62 83.6,337.73 84.4,337.8 85.2,338.14 86,338.41 86.8,338.47 87.6,338.57 88.4,338.56 89.2,338.71 90,338.97 90.8,338.87 91.6,338.74 92.4,338.68 93.2,338.58 94,338.56 94.8,338.59 95.6,338.52 96.4,338.11 97.2,337.64 98,337.63 98.8,337.72 99.6,337.46 100.4,337.25 101.2,337.01 102,336.75 102.8,336.67 103.6,336.38 104.4,336.08 105.2,335.99 106,335.69 106.8,335.31 107.6,335.25 108.4,335.17 109.2,334.83 110,334.45 110.8,334 111.6,333.57 112.4,333.4 113.2,333.02 114,332.52 114.8,332.27 115.6,331.84 116.4,331.16 117.2,330.56 118,330.11 118.8,329.7 119.6,329.22 120.4,328.81 121.2,328.48 122,327.91 122.8,327.29 123.6,326.89 124.4,326.48 125.2,325.94 126,325.49 126.8,325.12 127.6,324.67 128.4,324.31 129.2,324 130,323.81 130.8,323.65 131.6,323.39 132.4,323.43 133.2,323.67 134,323.76 134.8,323.75 135.6,323.84 136.4,324.01 137.2,324.2 138,324.49 138.8,324.84 139.6,325.27 140.4,325.6 141.2,325.72 142,325.81 142.8,326.13 143.6,326.73 144.4,327.33 145.2,327.85 146,328.46 146.8,329.17 147.6,329.85 148.4,330.33 149.2,330.79 150,331.66 150.8,332.5 151.6,332.97 152.4,333.6 153.2,334.37 154,335.12 154.8,335.91 155.6,336.81 156.4,337.73 157.2,338.53 158,339.25 158.8,339.84 159.6,340.49 160.4,341.23 161.2,341.83 162,342.32 162.8,343.07 163.6,343.91 164.4,344.59 165.2,345.38 166,346.11 166.8,346.77 167.6,347.43 168.4,347.82 169.2,348.24 170,348.82 170.8,349.59 171.6,350.36 172.4,350.87 173.2,351.42 174,351.91 174.8,352.29 175.6,352.76 176.4,353.23 177.2,353.8 178,354.32 178.8,354.77 179.6,355.4 180.4,355.94 181.2,356.24 182,356.67 182.8,357.25 183.6,357.78 184.4,358.23 185.2,358.73 186,359.17 186.8,359.68 187.6,360.25 188.4,360.73 189.2,361.27 190,361.77 190.8,362.15 191.6,362.56 192.4,363.02 193.2,363.13 194,363.13 194.8,363.6 195.6,364.23 196.4,364.68 197.2,364.89 198,365.22 198.8,365.74 199.6,366.02 200.4,366.2 201.2,366.53 202,366.82 202.8,366.92 203.6,367.14 204.4,367.47 205.2,367.73 206,367.95 206.8,368.23 207.6,368.48 208.4,368.41 209.2,368.38 210,368.66 210.8,369.09 211.6,369.52 212.4,369.81 213.2,369.99 214,370.24 214.8,370.6 215.6,370.91 216.4,371.07 217.2,371.11 218,371.07 218.8,371.06 219.6,370.69 220.4,369.97 221.2,369.24 222,368.15 222.8,366.59 223.6,364.6 224.4,362.59 225.2,360.8 226,359.15 226.8,357.62 227.6,356.05 228.4,354.39 229.2,352.66 230,350.92 230.8,349.3 231.6,347.82 232.4,346.15 233,344.8 233.8,346.46 234.6,347.72 235.4,348.9 236.2,349.91 237,350.99 237.8,351.99 238.6,353 239.4,354.29 240.2,355.73 241,357.12 241.8,359.07 242.6,361.68 243.4,364.12 244.2,365.66 245,366.77 245.8,367.8 246.6,368.91 247.4,369.88 248.2,370.54 249,371.3 249.8,372.19 250.6,372.8 251.4,373.24 252.2,373.85 253,374.46 253.8,375.06 254.6,375.75 255.4,376.29 256.2,376.71 257,377.14 257.8,377.55 258.6,378.23 259.4,378.93 260.2,379.12 261,379.29 261.8,379.94 262.6,380.57 263.4,380.9 264.2,381.13 265,381.26 265.8,381.61 266.6,382.13 267.4,382.42 268.2,382.7 269,382.96 269.8,383.17 270.6,383.48 271.4,383.84 272.2,384.24 273,384.55 273.8,384.79 274.6,385.21 275.4,385.46 276.2,385.65 277,386.07 277.8,386.33 278.6,386.43 279.4,386.49 280.2,386.82 281,387.37 281.8,387.62 282.6,387.82 283.4,388.02 284.2,388.13 285,388.33 285.8,388.51 286.6,388.69 287.4,389.05 288.2,389.16 289,389.07 289.8,389.2 290.6,389.5 291.4,389.81 292.2,389.93 293,390.11 293.8,390.49 294.6,390.74 295.4,390.87 296.2,390.96 297,390.99 297.8,391.18 298.6,391.56 299.4,391.65 300.2,391.6 301,391.81 301.8,392.01 302.6,392.09 303.4,392.2 304.2,392.32 305,392.58 305.8,392.84 306.6,392.92 307.4,392.85 308.2,392.85 309,392.94 309.8,393.02 310.6,393.28 311.4,393.54 312.2,393.57 313,393.47 313.8,393.44 314.6,393.52 315.2,393.56" fill="none" stroke="#1a1a1a" stroke-width="1.8" stroke-linejoin="round" stroke-linecap="round"/>
<polyline points="82,407.62 82.8,407.92 83.6,408.06 84.4,408.09 85.2,408.33 86,408.49 86.8,408.63 87.6,408.7 88.4,408.6 89.2,408.45 90,408.42 90.8,408.85 91.6,408.84 92.4,408.66 93.2,409.04 94,408.93 94.8,408.44 95.6,408.24 96.4,408.17 97.2,408.08 98,407.86 98.8,407.33 99.6,406.67 100.4,406.68 101.2,406.5 102,405.79 102.8,405.93 103.6,406.53 104.4,406.59 105.2,406.19 106,405.79 106.8,405.42 107.6,405.04 108.4,404.62 109.2,404.01 110,403.69 110.8,403.6 111.6,403.65 112.4,403.45 113.2,402.67 114,402.18 114.8,401.62 115.6,400.75 116.4,400.35 117.2,399.93 118,398.9 118.8,397.89 119.6,397.13 120.4,396.26 121.2,395.56 122,395.06 122.8,394.46 123.6,393.73 124.4,392.86 125.2,391.89 126,390.88 126.8,390.12 127.6,389.45 128.4,388.44 129.2,387.32 130,386.2 130.8,385.62 131.6,385.27 132,384.64 132.8,385.3 133.6,386.02 134.4,386.84 135.2,387.45 136,388.01 136.8,389.1 137.6,390.2 138.4,390.49 139.2,390.64 140,391.5 140.8,392.46 141.6,393.44 142.4,394.59 143.2,394.92 144,395.29 144.8,396.7 145.6,397.88 146.4,398.39 147.2,399.23 148,400.04 148.8,400.15 149.6,400.56 150.4,401.47 151.2,402.49 152,403.5 152.8,404.25 153.6,405.09 154.4,406.17 155.2,406.97 156,407.19 156.8,407.56 157.6,408.5 158.4,409.11 159.2,409.36 160,410.46 160.8,411.74 161.6,412.61 162.4,413.31 163.2,413.84 164,414.25 164.8,414.49 165.6,415.41 166.4,416.66 167.2,417.49 168,418.47 168.8,419.06 169.6,419.23 170.4,419.59 171.2,419.86 172,420.1 172.8,420.75 173.6,421.57 174.4,421.97 175.2,422.5 176,423.26 176.8,423.48 177.6,423.83 178.4,424.57 179.2,425.3 180,426.04 180.8,426.45 181.6,426.65 182.4,426.73 183.2,426.94 184,427.78 184.8,428.53 185.6,428.65 186.4,428.76 187.2,429.21 188,430.04 188.8,430.7 189.6,430.88 190.4,431.16 191.2,431.87 192,432.85 192.8,433.35 193.6,433.33 194.4,433.61 195.2,434.41 196,434.68 196.8,434.09 197.6,434.21 198.4,435.36 199.2,436.12 200,435.96 200.8,435.71 201.6,436.02 202.4,436.46 203.2,436.78 204,437.47 204.8,437.92 205.6,437.75 206.4,437.79 207.2,438.18 208,438.66 208.8,439.07 209.6,438.97 210.4,438.75 211.2,439.24 212,439.89 212.8,440.17 213.6,440.26 214.4,440.39 215.2,440.98 216,441.56 216.8,441.51 217.6,441.22 218.4,441.16 219.2,441.09 220,441.1 220.8,440.98 221.6,440.56 222.4,440.4 223.2,439.96 224,439.35 224.8,438.82 225.6,438.21 226.4,438.06 227.2,438.11 228,437.79 228.8,437.39 229.6,437.43 230.4,437.27 231.2,436.52 232,435.91 232.8,435.67 233.6,435.33 234.4,434.85 235.2,434.94 236,435.19 236.8,435.15 237.6,435.29 238.4,435.42 239.2,435.56 240,435.97 240.8,435.97 241.6,435.7 242.4,435.59 243.2,435.81 244,436.29 244.8,436.64 245.6,436.73 246.4,436.9 247.2,437.99 248,439.28 248.8,439.94 249.6,440.69 250.4,441.44 251.2,442.12 252,442.66 252.8,443.09 253.6,443.75 254.4,444.44 255.2,445.48 256,446.45 256.8,447.04 257.6,447.59 258.4,448.21 259.2,448.48 260,448.4 260.8,448.78 261.6,449.17 262.4,449.13 263.2,449.14 264,449.31 264.8,449.43 265.6,449.21 266.4,448.9 267.2,449.27 268,449.87 268.8,449.69 269.6,449.43 270.4,449.42 271.2,449.22 272,449.06 272.8,449.08 273.6,449.21 274.4,449.44 275.2,449.52 276,449.77 276.8,450.23 277.6,450.44 278.4,450.68 279.2,451.35 280,452.15 280.8,452.47 281.6,452.89 282.4,453.39 283.2,453.56 284,454.31 284.8,455.48 285.6,456.54 286.4,457.05 287.2,456.95 288,457.22 288.8,457.94 289.6,458.43 290.4,458.86 291.2,459.16 292,459.23 292.8,459.88 293.6,460.43 294.4,460.55 295.2,460.83 296,461.07 296.8,461.32 297.6,461.51 298.4,461.15 299.2,461.11 300,461.53 300.8,461.51 301.6,461.86 302.4,462.35 303.2,462.33 304,462.4 304.8,462.68 305.6,462.86 306.4,462.97 307.2,463.29 308,463.29 308.8,462.81 309.6,462.86 310.4,463.35 311.2,463.3 312,463.08 312.8,463.18 313.6,463.22 314.4,463.03 315.2,463.09" fill="none" stroke="#f00000" stroke-width="1.7" stroke-linejoin="round" stroke-linecap="round"/>
<polyline points="82,407.28 82.8,407.61 83.6,408.01 84.4,408.21 85.2,408.45 86,408.57 86.8,408.37 87.6,408.23 88.4,408.36 89.2,408.55 90,408.62 90.8,408.74 91.6,408.85 92.4,408.87 93.2,408.87 94,408.73 94.8,408.6 95.6,408.53 96.4,408.3 97.2,407.94 98,407.73 98.8,407.55 99.6,407.32 100.4,407.06 101.2,406.82 102,406.65 102.8,406.42 103.6,406.14 104.4,405.89 105.2,405.75 106,405.54 106.8,405.2 107.6,404.96 108.4,404.65 109.2,404.22 110,403.92 110.8,403.57 111.6,402.99 112.4,402.64 113.2,402.39 114,401.82 114.8,401.07 115.6,400.41 116.4,399.96 117.2,399.6 118,399.13 118.8,398.45 119.6,397.79 120.4,397.38 121.2,396.95 122,396.32 122.8,395.8 123.6,395.5 124.4,395.22 125.2,394.95 126,394.68 126.8,394.38 127.6,394.05 128.4,393.74 129.2,393.44 130,393.19 130.8,393.1 131.6,392.99 132.4,392.87 133.2,393.07 134,393.4 134.8,393.46 135.6,393.39 136.4,393.52 137.2,393.99 138,394.44 138.8,394.64 139.6,394.82 140.4,395.1 141.2,395.49 142,395.76 142.8,395.94 143.6,396.3 144.4,396.69 145.2,396.9 146,397.27 146.8,397.91 147.6,398.71 148.4,399.5 149.2,400.08 150,400.76 150.8,401.58 151.6,402.36 152.4,403.24 153.2,404.1 154,404.88 154.8,405.77 155.6,406.76 156.4,407.75 157.2,408.57 158,409.15 158.8,409.69 159.6,410.44 160.4,411.29 161.2,412.12 162,412.86 162.8,413.5 163.6,414.1 164.4,414.6 165.2,415.2 166,416.07 166.8,416.91 167.6,417.36 168.4,417.69 169.2,418.21 170,418.83 170.8,419.37 171.6,419.97 172.4,420.72 173.2,421.28 174,421.76 174.8,422.29 175.6,422.7 176.4,423.22 177.2,423.91 178,424.45 178.8,424.8 179.6,425.15 180.4,425.66 181.2,426.13 182,426.42 182.8,426.95 183.6,427.68 184.4,428.19 185.2,428.67 186,429.33 186.8,429.87 187.6,430.13 188.4,430.51 189.2,431 190,431.39 190.8,431.82 191.6,432.34 192.4,432.68 193.2,432.88 194,433.24 194.8,433.61 195.6,434.04 196.4,434.57 197.2,435.01 198,435.4 198.8,435.77 199.6,435.89 200.4,435.96 201.2,436.35 202,436.58 202.8,436.83 203.6,437.4 204.4,437.75 205.2,437.78 206,437.69 206.8,437.88 207.6,438.23 208.4,438.41 209.2,438.74 210,439.19 210.8,439.5 211.6,439.58 212.4,439.65 213.2,439.91 214,440.17 214.8,440.51 215.6,440.82 216.4,440.83 217.2,440.89 218,440.95 218.8,440.99 219.6,441.01 220.4,440.64 221.2,440.1 222,439.57 222.8,438.78 223.6,437.38 224.4,435.74 225.2,433.98 226,432.18 226.8,430.45 227.6,428.74 228.4,427.05 229.2,425.47 230,423.91 230.8,422.16 231.6,420.49 232.4,418.96 233.2,417.37 233.3,417.15 234.1,418.26 234.9,419.4 235.7,420.62 236.5,421.73 237.3,422.95 238.1,424.21 238.9,425.36 239.7,426.56 240.5,427.75 241.3,429.16 242.1,430.88 242.9,432.5 243.7,433.98 244.5,435.28 245.3,436.28 246.1,437.36 246.9,438.32 247.7,439.06 248.5,439.8 249.3,440.59 250.1,441.61 250.9,442.42 251.7,443.05 252.5,443.68 253.3,444.24 254.1,444.88 254.9,445.47 255.7,446.03 256.5,446.65 257.3,447.25 258.1,447.77 258.9,448.24 259.7,448.81 260.5,449.3 261.3,449.69 262.1,450.23 262.9,450.72 263.7,451.04 264.5,451.29 265.3,451.5 266.1,451.8 266.9,452.09 267.7,452.26 268.5,452.66 269.3,453.15 270.1,453.28 270.9,453.39 271.7,453.77 272.5,454.18 273.3,454.59 274.1,454.9 274.9,455.18 275.7,455.64 276.5,455.91 277.3,456.05 278.1,456.23 278.9,456.47 279.7,456.84 280.5,457.1 281.3,457.28 282.1,457.55 282.9,457.81 283.7,458.01 284.5,458.06 285.3,458.08 286.1,458.37 286.9,458.75 287.7,458.98 288.5,458.97 289.3,459.22 290.1,459.96 290.9,460.28 291.7,460.11 292.5,460.25 293.3,460.47 294.1,460.57 294.9,460.7 295.7,460.78 296.5,460.96 297.3,461.21 298.1,461.35 298.9,461.54 299.7,461.84 300.5,462.09 301.3,462.29 302.1,462.43 302.9,462.58 303.7,462.71 304.5,462.81 305.3,462.98 306.1,463.02 306.9,462.85 307.7,462.82 308.5,462.9 309.3,463.02 310.1,463.26 310.9,463.33 311.7,463.23 312.5,463.26 313.3,463.41 314.1,463.48 314.9,463.45 315.2,463.41" fill="none" stroke="#1a1a1a" stroke-width="1.8" stroke-linejoin="round" stroke-linecap="round"/>
<polyline points="82,477.96 82.8,477.91 83.6,477.59 84.4,477.9 85.2,478.23 86,478.42 86.8,479 87.6,479.02 88.4,478.5 89.2,478.34 90,478.71 90.8,478.98 91.6,478.55 92.4,478.01 93.2,478.07 94,478.47 94.8,478.51 95.6,478.16 96.4,477.85 97.2,477.63 98,477.34 98.8,477.13 99.6,476.74 100.4,476.1 101.2,476.03 102,476.43 102.8,476.25 103.6,475.66 104.4,475.46 105.2,475.48 106,475.63 106.8,475.46 107.6,474.44 108.4,473.53 109.2,473.09 110,473 110.8,472.8 111.6,472.19 112.4,471.58 113.2,470.96 114,470.73 114.8,470.42 115.6,469.62 116.4,469.17 117.2,468.77 118,468.01 118.8,467.15 119.6,466.4 120.4,465.58 121.2,464.79 122,464.13 122.8,463.17 123.6,461.92 124.4,460.32 125.2,459.04 126,458.33 126.8,457.45 127.6,456.54 128.4,455.68 129.2,454.57 130,453.46 130.8,452.86 131.6,452.74 132.4,452.56 132.5,452.28 133.3,452.01 134.1,452.62 134.9,453.12 135.7,453.78 136.5,454.71 137.3,455.47 138.1,455.72 138.9,456.38 139.7,457.55 140.5,459.19 141.3,461.07 142.1,462.26 142.9,463 143.7,463.96 144.5,465.26 145.3,466.6 146.1,467.71 146.9,468.44 147.7,469 148.5,469.83 149.3,470.68 150.1,471.74 150.9,472.59 151.7,472.72 152.5,473.25 153.3,474.41 154.1,475.48 154.9,476.4 155.7,477.36 156.5,478.06 157.3,478.59 158.1,479.31 158.9,479.87 159.7,480.33 160.5,481.41 161.3,482.63 162.1,483.67 162.9,484.42 163.7,484.53 164.5,484.81 165.3,485.6 166.1,486.27 166.9,486.87 167.7,487.81 168.5,488.68 169.3,489.09 170.1,489.26 170.9,489.67 171.7,490.36 172.5,491.03 173.3,491.67 174.1,492.11 174.9,492.27 175.7,492.63 176.5,493.41 177.3,494.02 178.1,494.29 178.9,495.01 179.7,495.75 180.5,495.79 181.3,495.41 182.1,495.32 182.9,496.37 183.7,497.84 184.5,498.28 185.3,498.38 186.1,499.28 186.9,500.15 187.7,500.18 188.5,500.25 189.3,500.8 190.1,501.16 190.9,501.61 191.7,502.48 192.5,503.03 193.3,503.46 194.1,504.14 194.9,504.54 195.7,504.86 196.5,505.88 197.3,506.69 198.1,506.56 198.9,506.76 199.7,507.07 200.5,507.04 201.3,507.09 202.1,507.19 202.9,507.64 203.7,508.16 204.5,508.16 205.3,508.13 206.1,508.76 206.9,509.34 207.7,509.48 208.5,509.88 209.3,510.25 210.1,510.34 210.9,510.64 211.7,510.76 212.5,510.76 213.3,511.01 214.1,510.91 214.9,510.79 215.7,511.08 216.5,511.3 217.3,511.7 218.1,511.76 218.9,511.57 219.7,511.77 220.5,511.53 221.3,510.93 222.1,510.6 222.9,510.38 223.7,510.03 224.5,509.61 225.3,509.46 226.1,509.57 226.9,509.56 227.7,509 228.5,508.17 229.3,507.48 230.1,507.18 230.9,507.24 231.7,507.17 232.5,506.88 233.3,506.24 234.1,505.78 234.9,505.66 235.7,505.25 236.5,504.73 237.3,504.45 238.1,504.98 238.9,505.49 239.7,504.99 240.5,504.75 241.3,505.03 242.1,505.46 242.9,505.85 243.7,505.64 244.5,505.74 245.3,506.87 246.1,508.21 246.9,509.28 247.7,510.17 248.5,510.63 249.3,510.93 250.1,511.56 250.9,512.36 251.7,513.18 252.5,513.64 253.3,514.02 254.1,514.73 254.9,515.43 255.7,515.92 256.5,516.53 257.3,517.36 258.1,517.98 258.9,518.25 259.7,518.43 260.5,518.5 261.3,518.57 262.1,518.69 262.9,518.77 263.7,518.95 264.5,518.98 265.3,518.95 266.1,519.14 266.9,519.28 267.7,519.08 268.5,518.37 269.3,517.61 270.1,517.06 270.9,516.79 271.7,517.24 272.5,517.62 273.3,517.57 274.1,517.53 274.9,517.25 275.7,516.88 276.5,517.14 277.3,517.96 278.1,518.34 278.9,518.28 279.7,518.38 280.5,518.89 281.3,519.61 282.1,520.39 282.9,521.33 283.7,522.12 284.5,523.13 285.3,524.53 286.1,525.46 286.9,525.99 287.7,526.66 288.5,527.1 289.3,527.29 290.1,527.42 290.9,527.59 291.7,528.18 292.5,529.05 293.3,529.4 294.1,529.02 294.9,528.9 295.7,529.22 296.5,529.54 297.3,529.56 298.1,529.47 298.9,530.01 299.7,530.4 300.5,530.41 301.3,530.74 302.1,531.03 302.9,531.14 303.7,531.43 304.5,531.77 305.3,531.56 306.1,531.33 306.9,531.76 307.7,532.11 308.5,532.33 309.3,532.85 310.1,533.12 310.9,532.99 311.7,532.73 312.5,532.63 313.3,532.67 314.1,532.91 314.9,533.59 315.2,533.67" fill="none" stroke="#f00000" stroke-width="1.7" stroke-linejoin="round" stroke-linecap="round"/>
<polyline points="82,477.61 82.8,477.85 83.6,477.9 84.4,477.86 85.2,477.99 86,478.24 86.8,478.31 87.6,478.34 88.4,478.46 89.2,478.57 90,478.67 90.8,478.7 91.6,478.74 92.4,478.9 93.2,478.8 94,478.45 94.8,478.3 95.6,478.3 96.4,478.27 97.2,478.12 98,477.76 98.8,477.42 99.6,477.27 100.4,477.17 101.2,476.92 102,476.55 102.8,476.18 103.6,475.86 104.4,475.55 105.2,475.26 106,475.11 106.8,474.73 107.6,474.28 108.4,473.96 109.2,473.6 110,473.18 110.8,472.6 111.6,472.14 112.4,471.73 113.2,471.15 114,470.83 114.8,470.68 115.6,470.16 116.4,469.45 117.2,468.95 118,468.47 118.8,467.98 119.6,467.47 120.4,466.68 121.2,466.04 122,465.57 122.8,464.97 123.6,464.44 124.4,463.84 125.2,463.21 126,462.48 126.8,461.76 127.6,461.41 128.4,461.09 129.2,460.45 130,459.73 130.8,459.22 131.6,458.65 132.4,457.78 132.5,457.62 133.3,458.31 134.1,458.68 134.9,459.23 135.7,459.83 136.5,460.21 137.3,460.65 138.1,461.19 138.9,461.73 139.7,462.21 140.5,462.93 141.3,463.72 142.1,464.24 142.9,464.76 143.7,465.28 144.5,465.93 145.3,466.72 146.1,467.25 146.9,467.87 147.7,468.81 148.5,469.68 149.3,470.43 150.1,471.18 150.9,471.88 151.7,472.62 152.5,473.63 153.3,474.74 154.1,475.48 154.9,475.98 155.7,476.62 156.5,477.39 157.3,478.22 158.1,479.04 158.9,479.93 159.7,480.83 160.5,481.48 161.3,481.99 162.1,482.61 162.9,483.43 163.7,484.36 164.5,485.01 165.3,485.5 166.1,486.21 166.9,486.91 167.7,487.35 168.5,487.8 169.3,488.57 170.1,489.32 170.9,489.83 171.7,490.18 172.5,490.57 173.3,491.1 174.1,491.6 174.9,492.05 175.7,492.54 176.5,493.23 177.3,494.01 178.1,494.52 178.9,494.93 179.7,495.45 180.5,495.87 181.3,496.27 182.1,496.99 182.9,497.61 183.7,497.85 184.5,498.26 185.3,498.83 186.1,499.21 186.9,499.55 187.7,499.95 188.5,500.36 189.3,500.93 190.1,501.63 190.9,502.18 191.7,502.59 192.5,503.02 193.3,503.43 194.1,503.87 194.9,504.47 195.7,505.07 196.5,505.5 197.3,505.8 198.1,506.13 198.9,506.58 199.7,506.89 200.5,507.05 201.3,507.39 202.1,507.8 202.9,508.24 203.7,508.73 204.5,508.97 205.3,509.02 206.1,509.28 206.9,509.62 207.7,509.74 208.5,509.76 209.3,509.92 210.1,510.3 210.9,510.59 211.7,510.63 212.5,510.77 213.3,510.91 214.1,510.95 214.9,511.12 215.7,511.24 216.5,511.18 217.3,511.33 218.1,511.51 218.9,511.36 219.7,511.21 220.5,511.15 221.3,510.95 222.1,510.79 222.9,510.56 223.7,510.19 224.5,509.91 225.3,509.71 226.1,509.48 226.9,509.1 227.7,508.61 228.5,508.19 229.3,507.81 230.1,507.47 230.9,507.38 231.7,507.27 232.5,506.86 233.3,506.34 234.1,506 234.9,505.95 235.7,505.95 236.5,505.89 237.3,505.71 238.1,505.6 238.9,505.54 239.7,505.35 240.5,505.31 241.25,505.36 242.05,505.39 242.85,505.9 243.65,506.37 244.45,506.94 245.25,507.56 246.05,508.18 246.85,508.95 247.65,509.88 248.45,510.72 249.25,511.41 250.05,512.02 250.85,512.6 251.65,513.16 252.45,513.65 253.25,514.09 254.05,514.58 254.85,515.01 255.65,515.49 256.45,516.07 257.25,516.65 258.05,517.22 258.85,517.6 259.65,517.85 260.45,518.22 261.25,518.58 262.05,518.91 262.85,519.3 263.65,519.57 264.45,519.92 265.25,520.28 266.05,520.36 266.85,520.44 267.65,520.77 268.45,520.97 269.25,521.1 270.05,521.36 270.85,521.45 271.65,521.55 272.45,521.55 273.25,521.44 274.05,521.58 274.85,521.83 275.65,521.96 276.45,522.05 277.25,522.21 278.05,522.35 278.85,522.68 279.65,523.28 280.45,523.62 281.25,523.75 282.05,524.09 282.85,524.57 283.65,525.05 284.45,525.6 285.25,526.09 286.05,526.49 286.85,526.86 287.65,527.14 288.45,527.27 289.25,527.52 290.05,527.97 290.85,528.28 291.65,528.5 292.45,528.84 293.25,529.03 294.05,529.17 294.85,529.53 295.65,529.77 296.45,529.93 297.25,530.23 298.05,530.61 298.85,530.84 299.65,530.7 300.45,530.64 301.25,530.79 302.05,530.99 302.85,531.4 303.65,531.75 304.45,531.75 305.25,531.74 306.05,531.98 306.85,532.2 307.65,532.3 308.45,532.51 309.25,532.78 310.05,532.83 310.85,532.72 311.65,532.87 312.45,533.14 313.25,533.23 314.05,533.35 314.85,533.4 315.2,533.29" fill="none" stroke="#1a1a1a" stroke-width="1.8" stroke-linejoin="round" stroke-linecap="round"/>
<polyline points="82,547.09 82.8,547.49 83.6,547.67 84.4,547.65 85.2,547.72 86,547.92 86.8,548.13 87.6,548.28 88.4,548.27 89.2,548.28 90,548.49 90.8,548.59 91.6,548.55 92.4,548.5 93.2,548.47 94,548.55 94.8,548.51 95.6,548.3 96.4,548.15 97.2,547.99 98,547.6 98.8,547.33 99.6,547.22 100.4,546.87 101.2,546.45 102,546.26 102.8,546.06 103.6,545.7 104.4,545.44 105.2,545.4 106,545.26 106.8,544.85 107.6,544.48 108.4,544.29 109.2,543.99 110,543.59 110.8,543.29 111.6,542.94 112.4,542.38 113.2,541.88 114,541.56 114.8,541.23 115.6,540.73 116.4,540.05 117.2,539.47 118,538.9 118.8,538.33 119.6,537.94 120.4,537.4 121.2,536.73 122,536.18 122.8,535.44 123.6,534.47 124.4,533.48 125.2,532.37 126,531.21 126.8,530.28 127.6,529.22 128.4,527.96 129.2,527.04 130,526.3 130.8,525.47 131.6,524.92 132.4,524.94 133.2,525.13 134,525.35 134.8,525.83 135.6,526.52 136.4,527.24 137.2,528.03 138,529 138.8,529.96 139.6,530.89 140.4,531.96 141.2,533.03 142,533.78 142.8,534.38 143.6,535.26 144.4,536.13 145.2,536.76 146,537.54 146.8,538.38 147.6,539.1 148.4,539.99 149.2,540.8 150,541.36 150.8,542.09 151.6,542.97 152.4,544.01 153.2,545.13 154,545.87 154.8,546.34 155.6,547.14 156.4,548.23 157.2,549.13 158,549.72 158.8,550.28 159.6,551 160.4,551.69 161.2,552.27 162,552.91 162.8,553.65 163.6,554.31 164.4,554.86 165.2,555.36 166,555.86 166.8,556.59 167.6,557.34 168.4,557.76 169.2,558.26 170,559.03 170.8,559.76 171.6,560.32 172.4,560.68 173.2,560.96 174,561.51 174.8,562.41 175.6,563.05 176.4,563.25 177.2,563.67 178,564.28 178.8,564.75 179.6,565.27 180.4,565.86 181.2,566.51 182,567.13 182.8,567.63 183.6,568.12 184.4,568.57 185.2,568.94 186,569.23 186.8,569.8 187.6,570.52 188.4,571.04 189.2,571.57 190,572.14 190.8,572.65 191.6,573.07 192.4,573.41 193.2,573.64 194,573.88 194.8,574.22 195.6,574.56 196.4,574.85 197.2,575.24 198,575.69 198.8,576.05 199.6,576.24 200.4,576.45 201.2,576.94 202,577.48 202.8,577.9 203.6,578.14 204.4,578.26 205.2,578.65 206,579.21 206.8,579.57 207.6,579.92 208.4,580.1 209.2,580.07 210,580.26 210.8,580.56 211.6,580.76 212.4,580.91 213.2,581.01 214,581 214.8,580.96 215.6,581.05 216.4,581.15 217.2,581.19 218,581.21 218.8,581.27 219.6,581.26 220.4,581.12 221.2,580.96 222,580.77 222.8,580.57 223.6,580.39 224.4,580.26 225.2,580.15 226,580.01 226.8,579.76 227.6,579.51 228.4,579.37 229.2,579.13 230,578.87 230.8,578.71 231.6,578.53 232.4,578.33 233.2,577.99 234,577.63 234.8,577.48 235.6,577.4 236.4,577 237.2,576.54 238,576.19 238.8,575.95 239.6,575.73 240.4,575.3 241.2,574.96 242,575.09 242.8,575.41 243.6,575.88 244.4,576.23 245.2,576.53 246,577.17 246.8,577.62 247.6,577.84 248.4,578.5 249.2,579.39 250,580.2 250.8,581 251.6,581.88 252.4,582.86 253.2,583.85 254,584.78 254.8,585.71 255.6,586.42 256.4,586.83 257.2,587.26 258,587.63 258.8,587.88 259.6,588.16 260.4,588.52 261.2,588.94 262,589.24 262.8,589.48 263.6,589.79 264.4,589.94 265.2,589.95 266,589.95 266.8,589.89 267.6,589.82 268.4,589.83 269.2,589.9 270,590 270.8,589.97 271.6,589.84 272.4,589.72 273.2,589.71 274,589.9 274.8,589.94 275.6,589.89 276.4,589.76 277.2,589.69 278,590.16 278.8,590.61 279.6,590.8 280.4,591.17 281.2,591.64 282,592.11 282.8,592.49 283.6,592.72 284.4,593.31 285.2,594.09 286,594.7 286.8,595.34 287.6,595.98 288.4,596.63 289.2,597.32 290,597.89 290.8,598.41 291.6,599 292.4,599.35 293.2,599.43 294,599.64 294.8,600.06 295.6,600.27 296.4,600.32 297.2,600.53 298,600.82 298.8,601.17 299.6,601.53 300.4,601.83 301.2,602 302,602.04 302.8,602.04 303.6,602.09 304.4,602.27 305.2,602.49 306,602.73 306.8,602.99 307.6,603.04 308.4,603.08 309.2,603.31 310,603.22 310.8,603.02 311.6,603.22 312.4,603.44 313.2,603.67 314,603.72 314.8,603.43 315.2,603.39" fill="none" stroke="#1a1a1a" stroke-width="1.8" stroke-linejoin="round" stroke-linecap="round"/>
<polyline points="355.95,267.39 356.68,267.91 357.42,268.16 358.15,268.28 358.88,268.08 359.62,268.59 360.35,268.78 361.09,269.02 361.82,269.26 362.55,269.42 363.29,269.51 364.02,268.93 364.75,268.8 365.49,268.94 366.22,268.34 366.96,268.48 367.69,268.31 368.42,268.46 369.16,268.34 369.89,267.68 370.62,267.7 371.36,267.72 372.09,268.44 372.83,268.75 373.56,269.59 374.29,269.41 375.03,269.86 375.76,269.37 376.5,269.45 377.23,269.18 377.96,269.14 378.7,268.98 379.43,269.41 380.16,269.67 380.9,269.75 381.63,269.67 382.37,269.22 383.1,269.02 383.83,268.85 384.57,268.75 385.3,269.27 386.03,269.58 386.77,270.15 387.5,270.77 388.24,270.56 388.97,270.58 389.7,270.89 390.44,271.06 391.17,271.22 391.9,270.66 392.64,270.72 393.37,269.95 394.11,269.63 394.84,269.73 395.57,270.57 396.31,270.79 397.04,270.77 397.77,269.93 398.51,269.51 399.24,269.09 399.98,269.25 400.71,270.17 401.44,270.93 402.18,271.11 402.91,270.61 403.64,270.74 404.38,270.46 405.11,270.69 405.85,270.62 406.58,270.37 407.31,270.22 408.05,270.45 408.78,270.45 409.51,270.46 410.25,270.72 410.98,270.57 411.72,270.69 412.45,270.35 413.18,270.59 413.92,270.07 414.65,270.17 415.38,270.03 416.12,270.94 416.85,270.85 417.59,270.88 418.32,270.27 419.05,270.74 419.79,270.75 420.52,271.18 421.25,270.79 421.99,271.15 422.72,271.27 423.46,270.84 424.19,270.9 424.92,270.73 425.66,271.32 426.39,271.69 427.12,272 427.86,271.74 428.59,271.47 429.32,271.74 430.06,271.76 430.79,272.12 431.53,271.89 432.26,272.27 432.99,272.13 433.73,272.14 434.46,272.06 435.19,271.7 435.93,271.63 436.66,271.82 437.4,271.77 438.13,271.74 438.86,271.66 439.6,272 440.33,272.35 441.06,272.68 441.8,272.12 442.53,272.64 443.27,272.54 444,272.54 444.73,271.92 445.47,271.34 446.2,270.97 446.94,270.6 447.67,270.48 448.4,270.84 449.14,271.05 449.87,270.78 450.6,270.56 451.34,269.95 452.07,270.09 452.81,269.48 453.54,268.86 454.27,268.21 455.01,267.23 455.74,266.76 456.47,265.03 457.21,263 457.94,260.48 458.68,258.19 459.41,256.65 460.14,255.32 460.88,255.2 461.61,255.65 462.34,256.94 463.08,258.36 463.81,260.04 464.55,261.92 465.28,263.22 466.01,264.72 466.75,266.22 467.48,267.9 468.21,268.45 468.95,268.71 469.68,268.81 470.42,269.68 471.15,270.89 471.88,271.68 472.62,272.2 473.35,271.96 474.08,272 474.82,272.18 475.55,271.63 476.29,272.27 477.02,271.66 477.75,271.85 478.49,272.39 479.22,272.76 479.95,273.09 480.69,272.85 481.42,272.5 482.16,272.17 482.89,271.77 483.62,271.8 484.36,271.38 485.09,271.7 485.82,271.97 486.56,271.92 487.29,272.33 488.03,272.31 488.76,272.09 489.49,271.86 490.23,271.81 490.96,271.89 491.69,271.89 492.43,272.36 493.16,272.27 493.89,272.04 494.63,271.49 495.36,271.07 496.1,270.07 496.83,270.21 497.56,268.94 498.3,268.81 499.03,268.19 499.76,268.44 500.5,267.85 501.23,267.27 501.97,266.22 502.7,266.4 503.43,266.15 504.17,265.68 504.9,265.93 505.63,265.44 506.37,265.09 507.1,264.97 507.84,264.7 508.57,264.68 509.3,264.25 510.04,264.12 510.77,264.23 511.5,264.85 512.24,264.95 512.97,264.87 513.71,265.23 514.44,265.83 515.17,267.04 515.91,267.36 516.64,267.65 517.38,267.86 518.11,267.53 518.84,267.59 519.58,268 520.31,268.66 521.04,269.09 521.78,269.41 522.51,269.68 523.25,269.89 523.98,270.11 524.71,270.77 525.45,271 526.18,271.38 526.91,271.65 527.65,271.69 528.38,271.28 529.12,271.15 529.85,271.14 530.58,271.51 531.32,272.04 532.05,272.01 532.78,272.1 533.52,272.2 534.25,272.97 534.99,272.91 535.72,272.97 536.45,272.75 537.19,272.61 537.92,273 538.65,273.17 539.39,273.3 540.12,272.78 540.86,272 541.59,271.82 542.32,271.53 543.06,271.14 543.79,270.49 544.52,270.27 545.26,270.55 545.99,271.02 546.73,271.22 547.46,272.05 548.19,272.27 548.93,272.28 549.66,272.58 550.39,271.85 551.13,272.09 551.86,272.34 552.6,273.36 553.33,273.49 554.06,273.96 554.8,273.92 555.53,273.76 556.26,273.89 557,273.73 557.73,274.11 558.47,273.88 559.2,274.04 559.93,274.62 560.67,274.99 561.4,275.56 562.13,275.32 562.87,274.55 563.6,274.87 564.34,275.06 565.07,275.65 565.8,275.01 566.54,274.78 567.27,274.62 568,274.72 568.74,274.68 569.47,274.88 570.21,274.95 570.94,275.18 571.67,275.68 572.41,275.31 573.14,274.82 573.87,274.44 574.61,274.53 575.34,274.62 576.08,274.95 576.81,275.62 577.54,275.63 578.28,275.56 579.01,275.6 579.74,275.77 580.48,276.19 581.21,276.58 581.95,276.07 582.68,275.72 583.41,275.5 584.15,276.03 584.88,275.96 585.61,275.96 586.35,275.48 587.08,275.84 587.82,276.21 588.55,276.58 589.28,276.71 590.02,276.7 590.75,276.77 591.48,276.17 592.22,275.5 592.95,275.6 593.68,276.02 594.42,276.21 595.15,275.96 595.89,276.06 596.62,276.63 597.35,277.04 598.09,277.26 598.82,277.2 599.56,277.06 600.29,277.02 601.02,277.69 601.76,277.96 602.49,278.12 603.22,277.61 603.96,277.26 604.69,276.83 605.42,276.51 606.16,275.88 606.89,276.12 607.63,276.25 608.36,276.54 609.09,276.41 609.83,275.99 610.56,275.67 611.3,275.37 612.03,275.62 612.76,275.65 613.5,275.94 614.23,276.28 614.96,276.45 615.7,276.27 616.43,276.5 617.16,276.07 617.9,275.53 618.63,275.01 619.37,274.77 620.1,275.17 620.83,274.92 621.57,275.67 622.3,275.58 623.04,275.44 623.77,275.32 624.5,274.54 625.24,273.61 625.97,272.97 626.7,272.71 627.44,272.73 628.17,273.17 628.9,272.64 629.64,272.2 630.37,271.77 631.11,271.23 631.84,270.36 632.57,269.99 633.31,270 634.04,271.19 634.77,271.76 635.51,272.45 636.24,272.45 636.98,272.66 637.71,273.28 638.44,274.31 639.18,274.23 639.91,274.36 640.64,273.92 641.38,274.42 642.11,275.12 642.85,275.06 643.58,275.71 644.31,275.67 645.05,275.93 645.78,276.46 646.52,276.3 647.25,276.63 647.98,276.41 648.72,276.8 649.45,277.01 650.18,276.78 650.92,276.31 651.65,275.79 652.38,276.69 653.12,276.55 653.85,276.91 654.59,276.3 655.32,276.33 656.05,276.63 656.79,276.78 657.52,277.02 658.25,276.17 658.99,276.3 659.72,276.51 660.46,276.82 661.19,276.88 661.92,276.87 662.66,276.85 663.39,276.35 664.12,276.22 664.86,276.1 665.59,276.34 666.33,275.97 667.06,276.34 667.79,275.56 668.53,274.96 669.26,274.22 670,273.51 670.73,273.04 671.46,272.72 672.2,272.28 672.93,271.41 673.66,270.07 674.4,268.64 675.13,267.36 675.87,265.91 676.6,265.63 677.33,265.57 678.07,265.48 678.8,264.91 679.53,264.98 680.27,266.24 681,268.13 681.74,269.55 682.47,270.06 683.2,270.68 683.94,272.11 684.67,273.55 685.4,274.88 686.14,275.65 686.87,276.85 687.61,276.86 688.34,277.63 689.07,277.09 689.81,277.81 690.54,277.74 691.27,277.7 692.01,277.04 692.74,276.94 693.48,276.83 694.21,277.36 694.94,277.55 695.68,277.58 696.41,276.87 697.14,276.69 697.88,276.37 698.61,277.11 699.35,277.26 700.08,277.98 700.81,277.77 701.55,277.97 702.28,277.71 703.01,277.65 703.75,277.57 704.48,277.4 705.22,277.94 705.95,277.59 706.68,277.78 707.42,277 708.15,277.58 708.88,277.89 709.62,278.03 710.35,277.42 711.09,277.76 711.82,277.87 712.55,277.96 713.29,277.71 714.02,277.65 714.75,278.06 715.49,278.37 716.22,278.43 716.96,278.11 717.69,277.7 718.42,277.72 719.16,277.21 719.89,277.3 720.62,277.41 721.36,278.03 722.09,278.51 722.83,279.17 723.56,278.92 724.29,278.6 725.03,277.86 725.76,277.45 726.49,277.72 727.23,278.25 727.96,279.25 728.69,279.31 729.43,278.86 730.16,278.09 730.9,277.46 731.63,277.45 732.36,277.5 733.1,277.9 733.83,278.7 734.57,279.36 735.3,279.46 736.03,278.78 736.77,278.39 737.5,278.32 738.23,278.33 738.97,278.8 739.7,278.74 740.43,278.59 741.17,278.42 741.9,278.25 742.64,278.49 743.37,278.95 744.1,278.83 744.84,278.66 745.57,278.4 746.31,279.3 747.04,279.01 747.77,278.97 748.51,278.36 749.24,278.67 749.97,278.85 750.71,278.79 751.44,278.8 752.17,278.16 752.91,278.56 753.64,278.22 754.38,278.31 755.11,278.4 755.84,278.59 756.58,278.63 757.31,278.84 758.05,279.39 758.78,279.95 759.51,279.55 760.25,279.18 760.98,279.16 761.71,279.12 762.45,278.65 763.18,278.78 763.91,278.45 764.65,278.89 765.38,279.04 766.12,278.32 766.85,278.29 767.58,278.22 768.32,278.79 769.05,278.52 769.79,278.75 770.52,278.99 771.25,279.18 771.99,278.76 772.72,278.13 773.45,277.82 774.19,278.57 774.92,278.7 775.65,278.88 776.39,278.65 777.12,278.71 777.86,278.84 778.59,278.09 779.32,278.21 780.06,278.09 780.79,278.84 781.53,278.5 782.26,278.12 782.99,277.85 783.73,278.33 784.46,278.77 785.19,278.92 785.93,279.22 786.66,278.98 787.39,279.35 788.13,279.53 788.86,279.37 789.6,279.47 790.33,279.31 791.06,278.45 791.8,278.28 792.53,278.4 793.27,279.08 794,279.45 794.73,279.12 795.47,279.49 796.2,280.03" fill="none" stroke="#f00000" stroke-width="1.8" stroke-linejoin="round"/>
<polyline points="355.95,265.49 356.68,265.37 357.42,265.53 358.15,265.94 358.88,266.28 359.62,266.04 360.35,265.57 361.09,265.07 361.82,265.33 362.55,265.52 363.29,266.05 364.02,265.56 364.75,266.15 365.49,265.94 366.22,266.16 366.96,265.72 367.69,266.23 368.42,266.72 369.16,267.04 369.89,267.33 370.62,267.09 371.36,266.81 372.09,266.24 372.83,266.31 373.56,266.74 374.29,267.39 375.03,268.32 375.76,267.86 376.5,267.97 377.23,267.84 377.96,267.74 378.7,267.38 379.43,266.45 380.16,266.43 380.9,266.19 381.63,266.58 382.37,267.23 383.1,267.07 383.83,266.77 384.57,266.46 385.3,266.91 386.03,266.99 386.77,268.11 387.5,268.4 388.24,268.78 388.97,268.85 389.7,268.71 390.44,268.54 391.17,267.85 391.9,267.85 392.64,267.76 393.37,268.48 394.11,268.16 394.84,267.99 395.57,267.38 396.31,267.25 397.04,267.07 397.77,267.07 398.51,267.15 399.24,267.71 399.98,267.61 400.71,267.73 401.44,267.52 402.18,267.47 402.91,267.56 403.64,267.79 404.38,267.51 405.11,267.07 405.85,266.84 406.58,267.04 407.31,267.32 408.05,268.19 408.78,268.18 409.51,268.37 410.25,267.87 410.98,267.83 411.72,268.14 412.45,267.29 413.18,267.14 413.92,267.01 414.65,267.57 415.38,268.13 416.12,268.5 416.85,268.51 417.59,267.91 418.32,267.75 419.05,267.25 419.79,267.74 420.52,267.39 421.25,268.08 421.99,267.54 422.72,268.12 423.46,268.23 424.19,268.33 424.92,269.16 425.66,268.94 426.39,269.47 427.12,268.6 427.86,268.23 428.59,267.46 429.32,267.76 430.06,268.04 430.79,267.96 431.53,267.92 432.26,267.84 432.99,268.49 433.73,268.84 434.46,269.7 435.19,269.12 435.93,269.18 436.66,269.14 437.4,269.03 438.13,268.87 438.86,268.23 439.6,267.95 440.33,267.87 441.06,268.06 441.8,268.52 442.53,268.3 443.27,267.88 444,268.41 444.73,269.01 445.47,269.04 446.2,269.09 446.94,268.83 447.67,268.51 448.4,267.91 449.14,267.81 449.87,267.82 450.6,267.83 451.34,267.23 452.07,266.42 452.81,266.25 453.54,265.39 454.27,264.67 455.01,263.57 455.74,262.57 456.47,260.79 457.21,258.99 457.94,257.06 458.68,254.56 459.41,252.21 460.14,250.68 460.88,250.66 461.61,251.04 462.34,251.04 463.08,252.24 463.81,254.28 464.55,256.77 465.28,258.73 466.01,260.31 466.75,262.12 467.48,263.97 468.21,264.85 468.95,265.96 469.68,266.23 470.42,266.96 471.15,267.44 471.88,267.71 472.62,267.68 473.35,268.68 474.08,268.95 474.82,269.41 475.55,268.93 476.29,269.63 477.02,269.54 477.75,269.87 478.49,268.92 479.22,268.63 479.95,268.61 480.69,268.78 481.42,269.13 482.16,268.94 482.89,268.41 483.62,268.75 484.36,269.08 485.09,269.21 485.82,268.9 486.56,268.97 487.29,268.95 488.03,268.8 488.76,268.84 489.49,268.63 490.23,269.07 490.96,268.59 491.69,268.56 492.43,267.55 493.16,267.91 493.89,267.94 494.63,268.16 495.36,267.87 496.1,267.99 496.83,267.75 497.56,267.74 498.3,267.85 499.03,267.66 499.76,267.19 500.5,266.7 501.23,266.48 501.97,266.34 502.7,265.97 503.43,265.23 504.17,264.98 504.9,264.36 505.63,264.47 506.37,264.31 507.1,264.15 507.84,263.9 508.57,263.63 509.3,263.82 510.04,263.12 510.77,263.05 511.5,262.95 512.24,262.74 512.97,262.84 513.71,263.04 514.44,262.88 515.17,262.56 515.91,262.68 516.64,263.11 517.38,263.94 518.11,263.72 518.84,263.87 519.58,264.14 520.31,263.95 521.04,264.26 521.78,264.56 522.51,265.32 523.25,265.8 523.98,266.8 524.71,266.88 525.45,267.34 526.18,267.32 526.91,267.63 527.65,267 528.38,266.96 529.12,267.41 529.85,267.84 530.58,268.45 531.32,268.67 532.05,268.87 532.78,268.86 533.52,269.13 534.25,269.41 534.99,269.43 535.72,270.05 536.45,270.67 537.19,271.3 537.92,271.06 538.65,270.6 539.39,270.37 540.12,270.66 540.86,270.66 541.59,270.68 542.32,269.94 543.06,270.27 543.79,269.94 544.52,269.69 545.26,269.25 545.99,269.51 546.73,270.04 547.46,270.56 548.19,270.89 548.93,270.7 549.66,271.23 550.39,270.91 551.13,271.08 551.86,270.49 552.6,270.95 553.33,271.1 554.06,271.7 554.8,272.07 555.53,272.33 556.26,272.14 557,271.71 557.73,271.57 558.47,271.6 559.2,272.1 559.93,273.29 560.67,273.38 561.4,273.81 562.13,273.48 562.87,273.4 563.6,272.93 564.34,273.74 565.07,274.29 565.8,274.56 566.54,274.11 567.27,274.12 568,273.68 568.74,273.81 569.47,273.09 570.21,272.67 570.94,272.93 571.67,273.12 572.41,273.71 573.14,273.75 573.87,273.66 574.61,273.87 575.34,273.94 576.08,274.78 576.81,274.61 577.54,274.62 578.28,274.12 579.01,273.57 579.74,273.97 580.48,274.04 581.21,274.27 581.95,273.96 582.68,274.07 583.41,274.21 584.15,274.41 584.88,274.34 585.61,274.26 586.35,274.07 587.08,274.07 587.82,274.91 588.55,275.33 589.28,275.09 590.02,274.65 590.75,274.71 591.48,275.03 592.22,275.18 592.95,275.37 593.68,275.34 594.42,275.14 595.15,274.26 595.89,274.43 596.62,274.94 597.35,275.96 598.09,276.12 598.82,275.86 599.56,275.05 600.29,274.91 601.02,274.5 601.76,274.68 602.49,274.54 603.22,275.01 603.96,274.65 604.69,274.59 605.42,274.83 606.16,275.01 606.89,274.49 607.63,274.65 608.36,274.09 609.09,273.71 609.83,273.96 610.56,273.87 611.3,274.43 612.03,274.07 612.76,273.88 613.5,273.49 614.23,273.72 614.96,274.28 615.7,274.5 616.43,274.16 617.16,274.28 617.9,273.99 618.63,274.04 619.37,274.35 620.1,274.81 620.83,274.41 621.57,273.41 622.3,272.82 623.04,272.73 623.77,272.81 624.5,272.8 625.24,272.79 625.97,272.12 626.7,271.25 627.44,270.46 628.17,270.16 628.9,269.43 629.64,268.49 630.37,267.63 631.11,267.42 631.84,266.9 632.57,267.38 633.31,267.55 634.04,267.99 634.77,268.13 635.51,269.12 636.24,270.36 636.98,271.22 637.71,271.87 638.44,272.08 639.18,272.52 639.91,272.88 640.64,272.64 641.38,272.75 642.11,273.05 642.85,273.19 643.58,273.64 644.31,273.51 645.05,273.62 645.78,273.23 646.52,273.33 647.25,273.56 647.98,273.84 648.72,273.9 649.45,273.66 650.18,274.14 650.92,274.18 651.65,274.5 652.38,274.5 653.12,274.7 653.85,274.41 654.59,274.94 655.32,274.57 656.05,274.23 656.79,273.91 657.52,274.19 658.25,274.21 658.99,273.66 659.72,273.25 660.46,273.3 661.19,274.25 661.92,274.07 662.66,274.29 663.39,274.21 664.12,274.23 664.86,273.31 665.59,272.19 666.33,271.97 667.06,272.02 667.79,271.92 668.53,272.14 669.26,272.05 670,271.35 670.73,271.08 671.46,270.38 672.2,269.48 672.93,267.71 673.66,266.2 674.4,264.6 675.13,263.76 675.87,262.44 676.6,262.32 677.33,262.59 678.07,262.28 678.8,261.95 679.53,262.31 680.27,262.64 681,263.87 681.74,264.9 682.47,266.88 683.2,268.81 683.94,270.38 684.67,270.81 685.4,271.46 686.14,271.83 686.87,271.91 687.61,272.53 688.34,273.34 689.07,274.73 689.81,275.6 690.54,276.02 691.27,275.61 692.01,274.94 692.74,274.95 693.48,275.8 694.21,276.12 694.94,275.86 695.68,275.33 696.41,274.42 697.14,274.41 697.88,274.06 698.61,274.28 699.35,274.52 700.08,275.22 700.81,275.77 701.55,275.76 702.28,275.67 703.01,275.64 703.75,275.03 704.48,274.64 705.22,274.6 705.95,275.08 706.68,275.51 707.42,275.83 708.15,276.2 708.88,276.21 709.62,275.92 710.35,275.39 711.09,275.37 711.82,275.08 712.55,275.04 713.29,275.27 714.02,276.3 714.75,276.36 715.49,276.39 716.22,275.71 716.96,276.38 717.69,276.22 718.42,276.01 719.16,275.54 719.89,275.03 720.62,275.04 721.36,275.01 722.09,274.97 722.83,275.36 723.56,275.81 724.29,275.73 725.03,276.14 725.76,275.67 726.49,275.7 727.23,275.2 727.96,275.63 728.69,275.79 729.43,276.27 730.16,276.5 730.9,276.55 731.63,275.46 732.36,275.32 733.1,274.62 733.83,274.5 734.57,274.58 735.3,274.53 736.03,275.72 736.77,275.79 737.5,276.09 738.23,276.23 738.97,276.47 739.7,276.53 740.43,276.17 741.17,275.8 741.9,275.09 742.64,274.64 743.37,274.5 744.1,275.15 744.84,275.48 745.57,275.89 746.31,275.9 747.04,276.03 747.77,275.3 748.51,274.71 749.24,274.64 749.97,275.14 750.71,276.03 751.44,276.56 752.17,276.26 752.91,276.14 753.64,275.96 754.38,275.7 755.11,275.4 755.84,275.17 756.58,275.06 757.31,275.6 758.05,276.23 758.78,276.48 759.51,276.19 760.25,275.54 760.98,275.31 761.71,274.69 762.45,275.4 763.18,276.1 763.91,276.4 764.65,275.89 765.38,275.22 766.12,275.08 766.85,274.87 767.58,275.16 768.32,276 769.05,276.26 769.79,276.03 770.52,275.7 771.25,275.29 771.99,275.42 772.72,275.79 773.45,275.38 774.19,275.54 774.92,275.27 775.65,276.1 776.39,276.57 777.12,276.97 777.86,277.31 778.59,277.03 779.32,277.18 780.06,276.97 780.79,277.17 781.53,277.02 782.26,276.48 782.99,276.41 783.73,276.61 784.46,277.31 785.19,277.07 785.93,276.8 786.66,276.44 787.39,275.71 788.13,275.94 788.86,275.74 789.6,276.21 790.33,275.93 791.06,275.86 791.8,275.17 792.53,275.29 793.27,275.56 794,276.22 794.73,276.3 795.47,276.42 796.2,276.58" fill="none" stroke="#1a1a1a" stroke-width="1.8" stroke-linejoin="round"/>
<polyline points="355.95,335.52 356.68,335.47 357.42,336.26 358.15,336.68 358.88,336.91 359.62,337.28 360.35,337.8 361.09,337.87 361.82,337.62 362.55,337.39 363.29,336.85 364.02,336.94 364.75,336.37 365.49,336.48 366.22,336.39 366.96,336.56 367.69,337.21 368.42,337.72 369.16,337.41 369.89,337.19 370.62,337.47 371.36,337.92 372.09,337.82 372.83,337.65 373.56,337.39 374.29,338.04 375.03,338.56 375.76,339.14 376.5,339 377.23,338.34 377.96,337.28 378.7,337.04 379.43,337.21 380.16,337.95 380.9,338.21 381.63,338.86 382.37,338.84 383.1,338.96 383.83,338.79 384.57,338.78 385.3,338.74 386.03,339.82 386.77,339.84 387.5,339.48 388.24,338.2 388.97,337.38 389.7,337.37 390.44,337.97 391.17,339.05 391.9,339.75 392.64,340.21 393.37,340.28 394.11,339.68 394.84,339.19 395.57,338.59 396.31,338.44 397.04,338.37 397.77,338.82 398.51,338.83 399.24,338.72 399.98,338.74 400.71,339.2 401.44,339.58 402.18,339.33 402.91,339.11 403.64,338.73 404.38,338.7 405.11,338.63 405.85,338.72 406.58,338.92 407.31,339.26 408.05,339.62 408.78,339.27 409.51,339.54 410.25,338.84 410.98,338.31 411.72,337.64 412.45,337.65 413.18,338.61 413.92,338.83 414.65,339.48 415.38,339.55 416.12,339.79 416.85,339.59 417.59,338.72 418.32,337.79 419.05,338.33 419.79,339.53 420.52,340.25 421.25,339.67 421.99,339.14 422.72,338.67 423.46,338.87 424.19,338.49 424.92,338.76 425.66,339.21 426.39,339.66 427.12,339.71 427.86,339.73 428.59,339.09 429.32,339 430.06,339.18 430.79,339.76 431.53,340.03 432.26,340.61 432.99,340.1 433.73,340.18 434.46,339.76 435.19,339.89 435.93,339.87 436.66,340.07 437.4,340.69 438.13,340.47 438.86,340.67 439.6,340.06 440.33,339.82 441.06,339.61 441.8,338.77 442.53,338.92 443.27,339.55 444,340.12 444.73,340.11 445.47,339.76 446.2,339.5 446.94,339.84 447.67,339.77 448.4,339.62 449.14,339.85 449.87,340.04 450.6,339.4 451.34,338.54 452.07,338.13 452.81,337.92 453.54,337.63 454.27,336.87 455.01,335.51 455.74,334.43 456.47,333.63 457.21,332.14 457.94,330.24 458.68,327.67 459.41,325.93 460.14,325.01 460.88,324.12 461.61,324.27 462.34,324.93 463.08,326.26 463.81,328.3 464.55,329.77 465.28,331.38 466.01,332.83 466.75,334.2 467.48,334.93 468.21,335.78 468.95,336.6 469.68,337.66 470.42,339.44 471.15,340.28 471.88,340.53 472.62,339.98 473.35,340.39 474.08,340.71 474.82,340.68 475.55,340.73 476.29,340.17 477.02,340.06 477.75,340.02 478.49,340.34 479.22,340.53 479.95,341.02 480.69,340.67 481.42,341.01 482.16,341.16 482.89,341.93 483.62,341.63 484.36,341.84 485.09,341.76 485.82,341 486.56,340.62 487.29,340.63 488.03,340.68 488.76,341.39 489.49,341.32 490.23,341.66 490.96,341.48 491.69,341.28 492.43,341.28 493.16,340.77 493.89,340.58 494.63,339.86 495.36,339.6 496.1,339.66 496.83,338.92 497.56,339.06 498.3,338.52 499.03,338.41 499.76,337.99 500.5,338.08 501.23,337.34 501.97,337.38 502.7,336.83 503.43,336.32 504.17,335.79 504.9,335.25 505.63,334.41 506.37,333.61 507.1,333.41 507.84,332.93 508.57,332.88 509.3,333 510.04,333.27 510.77,333.42 511.5,333.01 512.24,332.79 512.97,332.64 513.71,332.39 514.44,331.9 515.17,332.28 515.91,332.89 516.64,334.18 517.38,334.91 518.11,335.23 518.84,335.2 519.58,335.86 520.31,335.96 521.04,336.47 521.78,336.35 522.51,336.71 523.25,337.18 523.98,338.18 524.71,338.65 525.45,339.33 526.18,339.35 526.91,340.15 527.65,340.54 528.38,341.4 529.12,341.58 529.85,341.49 530.58,341.57 531.32,341.68 532.05,341.95 532.78,341.91 533.52,341.92 534.25,341.37 534.99,340.95 535.72,341.36 536.45,341.57 537.19,341.83 537.92,341.51 538.65,341 539.39,340.36 540.12,339.6 540.86,338.66 541.59,337.88 542.32,337.28 543.06,336.96 543.79,336.32 544.52,336.69 545.26,336.93 545.99,337.74 546.73,338.25 547.46,339.28 548.19,340.04 548.93,341 549.66,341.2 550.39,341.41 551.13,341.48 551.86,341.56 552.6,342.27 553.33,343.34 554.06,343.8 554.8,343.93 555.53,344.03 556.26,343.74 557,343.47 557.73,343.35 558.47,343.23 559.2,343.92 559.93,343.92 560.67,343.98 561.4,343.58 562.13,343.36 562.87,343.35 563.6,344.38 564.34,345.26 565.07,345.14 565.8,344.55 566.54,344.15 567.27,344.35 568,344.69 568.74,344.71 569.47,344.93 570.21,344.68 570.94,345.05 571.67,344.81 572.41,344.68 573.14,344.76 573.87,345.07 574.61,345.35 575.34,345.55 576.08,345.65 576.81,345.58 577.54,344.42 578.28,343.93 579.01,344.22 579.74,344.23 580.48,344.52 581.21,344.39 581.95,345.14 582.68,345.57 583.41,345.53 584.15,344.95 584.88,345.15 585.61,345.51 586.35,345.67 587.08,345.02 587.82,344.83 588.55,345.01 589.28,344.88 590.02,344.63 590.75,344.74 591.48,344.31 592.22,344.56 592.95,345 593.68,344.85 594.42,345.07 595.15,344.73 595.89,345.37 596.62,345.5 597.35,345.73 598.09,345.12 598.82,344.97 599.56,344.9 600.29,345.11 601.02,344.95 601.76,345.27 602.49,345.85 603.22,345.7 603.96,345.52 604.69,344.9 605.42,344.74 606.16,343.99 606.89,343.93 607.63,344.24 608.36,344.96 609.09,344.8 609.83,344.51 610.56,344.63 611.3,344.83 612.03,345.09 612.76,344.69 613.5,345.18 614.23,345.01 614.96,344.68 615.7,344.5 616.43,344.64 617.16,344.47 617.9,344.21 618.63,343.97 619.37,344.08 620.1,345.13 620.83,344.99 621.57,345.09 622.3,345.05 623.04,345.1 623.77,344.7 624.5,343.94 625.24,343.82 625.97,343.71 626.7,343.75 627.44,343.28 628.17,343.31 628.9,342.85 629.64,342.58 630.37,341.44 631.11,341.77 631.84,341.94 632.57,342.2 633.31,342.1 634.04,342.13 634.77,342.62 635.51,342.73 636.24,342.73 636.98,342.81 637.71,343.58 638.44,344.04 639.18,344.91 639.91,345.41 640.64,345.39 641.38,345.48 642.11,345.72 642.85,346.22 643.58,346.37 644.31,346.08 645.05,345.93 645.78,345.7 646.52,345.61 647.25,345.73 647.98,345.37 648.72,345.15 649.45,344.96 650.18,345.41 650.92,345.11 651.65,345.21 652.38,345.3 653.12,345.65 653.85,345.39 654.59,345.78 655.32,345.58 656.05,345.21 656.79,345.32 657.52,345.81 658.25,346.63 658.99,346.51 659.72,346.54 660.46,346.14 661.19,345.58 661.92,345.74 662.66,346.08 663.39,345.91 664.12,345.85 664.86,345.01 665.59,344.78 666.33,344.91 667.06,345.34 667.79,345.06 668.53,344.84 669.26,344.03 670,343.65 670.73,343.41 671.46,342.13 672.2,341.75 672.93,340.64 673.66,339.77 674.4,338.83 675.13,337.84 675.87,337.59 676.6,336.86 677.33,336.14 678.07,335.16 678.8,334.46 679.53,334.62 680.27,334.98 681,336.32 681.74,338.27 682.47,339.62 683.2,340.6 683.94,341.58 684.67,341.98 685.4,342.7 686.14,342.99 686.87,343.88 687.61,344.62 688.34,345.53 689.07,345.55 689.81,345.84 690.54,345.34 691.27,344.8 692.01,344.83 692.74,345.56 693.48,346.68 694.21,347.08 694.94,347.62 695.68,347.35 696.41,347.36 697.14,346.9 697.88,346.49 698.61,346.46 699.35,345.99 700.08,345.76 700.81,345.9 701.55,346.35 702.28,346.9 703.01,347.47 703.75,347.45 704.48,347.42 705.22,346.63 705.95,346.97 706.68,347.39 707.42,346.77 708.15,346.1 708.88,345.79 709.62,346.05 710.35,346.4 711.09,346.85 711.82,346.39 712.55,346.59 713.29,347.08 714.02,347.05 714.75,347.04 715.49,346.67 716.22,346.88 716.96,346.57 717.69,346.93 718.42,346.66 719.16,346.64 719.89,346.57 720.62,346.89 721.36,346.8 722.09,346.48 722.83,346.46 723.56,346.49 724.29,347.3 725.03,347.57 725.76,347.57 726.49,346.98 727.23,346.55 727.96,345.9 728.69,345.97 729.43,346.13 730.16,346.36 730.9,346.45 731.63,346.29 732.36,346.25 733.1,346.54 733.83,346.03 734.57,345.52 735.3,344.93 736.03,345.17 736.77,345.53 737.5,345.8 738.23,345.54 738.97,345.89 739.7,346.07 740.43,346.24 741.17,346.39 741.9,346.42 742.64,345.76 743.37,345.24 744.1,345.34 744.84,345.57 745.57,346.14 746.31,346.57 747.04,346.9 747.77,346.89 748.51,347.11 749.24,346.89 749.97,346.91 750.71,346.54 751.44,346.32 752.17,345.93 752.91,345.88 753.64,345.76 754.38,346.01 755.11,346.26 755.84,346.64 756.58,346.29 757.31,346.19 758.05,345.8 758.78,346.16 759.51,346.42 760.25,346.2 760.98,345.59 761.71,345.67 762.45,345.47 763.18,345.19 763.91,344.89 764.65,345.21 765.38,345.67 766.12,346.51 766.85,346.92 767.58,346.88 768.32,346.58 769.05,345.77 769.79,345.99 770.52,346.13 771.25,346.05 771.99,346.01 772.72,346.05 773.45,346.57 774.19,346.89 774.92,347.34 775.65,347.2 776.39,346.98 777.12,346.71 777.86,346.62 778.59,346.98 779.32,347.2 780.06,346.95 780.79,346.46 781.53,346.36 782.26,347.01 782.99,347.16 783.73,347.3 784.46,347.16 785.19,347.56 785.93,347.7 786.66,347.51 787.39,347.46 788.13,346.9 788.86,346.85 789.6,346.75 790.33,347.64 791.06,348.79 791.8,348.97 792.53,349.1 793.27,348.61 794,348.3 794.73,348.14 795.47,348.05 796.2,348.29" fill="none" stroke="#f00000" stroke-width="1.8" stroke-linejoin="round"/>
<polyline points="355.95,338.24 356.68,337.44 357.42,337.08 358.15,337.51 358.88,338.43 359.62,338.49 360.35,338.39 361.09,338.49 361.82,338.71 362.55,339.1 363.29,339 364.02,339.12 364.75,338.6 365.49,338.56 366.22,338.66 366.96,338.96 367.69,339.18 368.42,338.23 369.16,338.13 369.89,338.49 370.62,339.24 371.36,339.26 372.09,338.87 372.83,338.69 373.56,338.26 374.29,338.42 375.03,338.74 375.76,339.34 376.5,339.58 377.23,339.83 377.96,340.24 378.7,339.98 379.43,340.4 380.16,339.91 380.9,340.16 381.63,339.12 382.37,338.87 383.1,339.4 383.83,339.92 384.57,340.32 385.3,340.19 386.03,339.92 386.77,340.33 387.5,341.16 388.24,340.91 388.97,341.09 389.7,340.35 390.44,339.93 391.17,339.33 391.9,339.48 392.64,339.62 393.37,340.46 394.11,340.37 394.84,340.25 395.57,340.42 396.31,340.25 397.04,340.81 397.77,341.05 398.51,341.38 399.24,341.25 399.98,341.35 400.71,341.1 401.44,341.3 402.18,341.49 402.91,341.06 403.64,340.79 404.38,339.96 405.11,340.58 405.85,340.85 406.58,341.25 407.31,341.71 408.05,342.09 408.78,341.74 409.51,341.35 410.25,340.73 410.98,340.4 411.72,340.35 412.45,340.3 413.18,340.68 413.92,340.98 414.65,340.78 415.38,340.72 416.12,340.68 416.85,341.21 417.59,341.19 418.32,341.37 419.05,341.36 419.79,341.36 420.52,340.96 421.25,341.01 421.99,341.37 422.72,341.52 423.46,341.81 424.19,342.12 424.92,341.4 425.66,341.68 426.39,341.83 427.12,342.02 427.86,341.31 428.59,340.64 429.32,340.32 430.06,340.72 430.79,340.78 431.53,341.78 432.26,341.52 432.99,342.05 433.73,341.85 434.46,341.58 435.19,341.25 435.93,340.8 436.66,341.06 437.4,341.44 438.13,341.64 438.86,341.89 439.6,341.87 440.33,341.99 441.06,341.63 441.8,341.79 442.53,341.82 443.27,341.61 444,341.56 444.73,341.78 445.47,341.67 446.2,341.19 446.94,341.05 447.67,341.26 448.4,341.27 449.14,340.78 449.87,340.8 450.6,341.12 451.34,341.37 452.07,340.14 452.81,339.16 453.54,338.12 454.27,337.47 455.01,335.76 455.74,333.66 456.47,331.77 457.21,330.09 457.94,328.7 458.68,327.07 459.41,325.56 460.14,323.73 460.88,323.16 461.61,322.89 462.34,324.31 463.08,325.7 463.81,327.52 464.55,328.99 465.28,331.25 466.01,333.61 466.75,336.04 467.48,337.49 468.21,338.83 468.95,339.59 469.68,340.55 470.42,340.98 471.15,341.66 471.88,341.77 472.62,342.06 473.35,342.51 474.08,342.77 474.82,342.54 475.55,342.68 476.29,342.15 477.02,342.4 477.75,341.92 478.49,342.42 479.22,342.23 479.95,342.68 480.69,342.58 481.42,342.34 482.16,341.82 482.89,342.02 483.62,342.25 484.36,342.49 485.09,342.46 485.82,342.48 486.56,342.87 487.29,342.41 488.03,342.04 488.76,340.94 489.49,340.93 490.23,341.04 490.96,341.3 491.69,341.7 492.43,342.3 493.16,342.5 493.89,341.88 494.63,341.07 495.36,340.77 496.1,341 496.83,341.64 497.56,341.08 498.3,340.88 499.03,340.76 499.76,341.22 500.5,340.88 501.23,340.83 501.97,339.88 502.7,339.19 503.43,338.62 504.17,338.17 504.9,337.83 505.63,337.59 506.37,337.88 507.1,337.85 507.84,337.53 508.57,337.08 509.3,337.07 510.04,336.92 510.77,336.95 511.5,337.11 512.24,337.06 512.97,336.58 513.71,336.42 514.44,337.06 515.17,337.38 515.91,337.99 516.64,337.72 517.38,337.42 518.11,337.14 518.84,337.36 519.58,338.14 520.31,338.36 521.04,338.4 521.78,338.41 522.51,338.68 523.25,338.87 523.98,339.47 524.71,339.93 525.45,340.67 526.18,340.73 526.91,340.79 527.65,341.14 528.38,342.02 529.12,342.24 529.85,342.21 530.58,341.73 531.32,342.11 532.05,342.47 532.78,343.24 533.52,343.81 534.25,344 534.99,344.02 535.72,343.43 536.45,344 537.19,344.05 537.92,344.74 538.65,344.71 539.39,344.13 540.12,344.24 540.86,344.28 541.59,344.52 542.32,344.44 543.06,344.14 543.79,343.49 544.52,343.97 545.26,344.51 545.99,345.39 546.73,346.01 547.46,346.09 548.19,345.84 548.93,345.36 549.66,344.92 550.39,344.25 551.13,344.75 551.86,345.62 552.6,346.13 553.33,346.34 554.06,346.23 554.8,346.38 555.53,346.06 556.26,345.77 557,345.17 557.73,345.03 558.47,345.38 559.2,345.76 559.93,346.58 560.67,346.59 561.4,346.59 562.13,346.61 562.87,346.37 563.6,345.85 564.34,346.1 565.07,346.39 565.8,346.58 566.54,346.37 567.27,345.77 568,345.87 568.74,346.29 569.47,347.18 570.21,347.62 570.94,347.6 571.67,347.11 572.41,345.97 573.14,345.45 573.87,345.88 574.61,346.4 575.34,347.09 576.08,347.23 576.81,346.81 577.54,346.45 578.28,346.53 579.01,347.14 579.74,347.21 580.48,347.08 581.21,346.52 581.95,347.01 582.68,346.54 583.41,346.72 584.15,346.3 584.88,346.95 585.61,347.14 586.35,346.93 587.08,346.87 587.82,346.54 588.55,346.28 589.28,345.66 590.02,345.93 590.75,346.67 591.48,347.14 592.22,347.16 592.95,346.81 593.68,346.33 594.42,346.38 595.15,346.45 595.89,346.7 596.62,346.34 597.35,346.23 598.09,346.16 598.82,345.95 599.56,346.17 600.29,346.24 601.02,346.49 601.76,346.47 602.49,346.94 603.22,346.73 603.96,346.92 604.69,346.22 605.42,346.35 606.16,346.3 606.89,346.43 607.63,346.09 608.36,345.79 609.09,345.66 609.83,346.01 610.56,347.1 611.3,346.95 612.03,346.73 612.76,346.28 613.5,346.44 614.23,346.41 614.96,346.67 615.7,346.9 616.43,346.43 617.16,345.61 617.9,344.83 618.63,344.51 619.37,344.74 620.1,345.69 620.83,346 621.57,346.36 622.3,345.91 623.04,345.53 623.77,344.79 624.5,344.96 625.24,345.15 625.97,345.27 626.7,344.87 627.44,344.21 628.17,343.36 628.9,342.22 629.64,341.32 630.37,340.97 631.11,341 631.84,341.26 632.57,341.21 633.31,340.78 634.04,340.64 634.77,341.11 635.51,342.16 636.24,342.63 636.98,343.67 637.71,343.69 638.44,344.42 639.18,344.12 639.91,344.75 640.64,344.38 641.38,345.25 642.11,345.68 642.85,345.99 643.58,346.01 644.31,346.24 645.05,346.48 645.78,347.13 646.52,346.91 647.25,347.27 647.98,347.04 648.72,346.74 649.45,347.06 650.18,347.96 650.92,348.09 651.65,347.54 652.38,346.51 653.12,345.89 653.85,345.78 654.59,346.12 655.32,345.88 656.05,345.66 656.79,346.03 657.52,345.97 658.25,346.54 658.99,346.17 659.72,345.88 660.46,345.06 661.19,345.07 661.92,345.13 662.66,345.32 663.39,345.41 664.12,345.39 664.86,345.34 665.59,345.63 666.33,345.4 667.06,345.26 667.79,344.81 668.53,344.65 669.26,343.59 670,343.33 670.73,343.37 671.46,342.54 672.2,341.61 672.93,339.68 673.66,338.12 674.4,335.89 675.13,334.21 675.87,332.93 676.6,331.48 677.33,331.07 678.07,330.92 678.8,331.81 679.53,331.39 680.27,331.74 681,332.18 681.74,333.32 682.47,334.91 683.2,336.8 683.94,338.74 684.67,340.17 685.4,341.45 686.14,342.13 686.87,343.31 687.61,344.82 688.34,346.16 689.07,346.49 689.81,346.48 690.54,346.02 691.27,346.04 692.01,346.01 692.74,346.03 693.48,346.37 694.21,346.75 694.94,347.55 695.68,347.71 696.41,347.53 697.14,347.03 697.88,347.32 698.61,347.49 699.35,347.64 700.08,347.27 700.81,346.91 701.55,347.6 702.28,347.66 703.01,348.66 703.75,348.29 704.48,348.53 705.22,348.24 705.95,348.51 706.68,347.88 707.42,347.93 708.15,346.97 708.88,347.38 709.62,347.61 710.35,347.91 711.09,348 711.82,347.68 712.55,347.38 713.29,347.64 714.02,347.81 714.75,347.83 715.49,347.86 716.22,347.19 716.96,346.71 717.69,346.88 718.42,347.31 719.16,347.69 719.89,347.59 720.62,347.96 721.36,348.51 722.09,348.55 722.83,348.81 723.56,348.55 724.29,348.66 725.03,347.79 725.76,347.68 726.49,347.33 727.23,347.79 727.96,347.82 728.69,348.51 729.43,348.85 730.16,348.5 730.9,348.02 731.63,347.79 732.36,348.37 733.1,348.5 733.83,348.14 734.57,348.3 735.3,347.92 736.03,347.3 736.77,347.38 737.5,347.95 738.23,348.34 738.97,348.46 739.7,348.44 740.43,348.61 741.17,347.96 741.9,348.06 742.64,348.32 743.37,349.16 744.1,348.82 744.84,348.2 745.57,348.07 746.31,347.2 747.04,347.63 747.77,347.3 748.51,347.64 749.24,348.02 749.97,348.23 750.71,347.65 751.44,347.53 752.17,347.46 752.91,346.88 753.64,346.79 754.38,347.15 755.11,347.61 755.84,347.31 756.58,347.53 757.31,347.56 758.05,347.93 758.78,348.14 759.51,347.81 760.25,348.04 760.98,348.39 761.71,348.3 762.45,348.04 763.18,347.75 763.91,347.89 764.65,347.98 765.38,347.88 766.12,348.34 766.85,348.14 767.58,348.54 768.32,348.3 769.05,348.76 769.79,348.47 770.52,348.3 771.25,347.97 771.99,347.73 772.72,347.66 773.45,347.85 774.19,347.68 774.92,347.28 775.65,347.7 776.39,348.03 777.12,348.57 777.86,348.38 778.59,348.5 779.32,348.59 780.06,348.94 780.79,348.14 781.53,348.41 782.26,348.68 782.99,349.16 783.73,349.06 784.46,348.81 785.19,348.44 785.93,348.32 786.66,347.68 787.39,347.88 788.13,348.23 788.86,348.81 789.6,348.65 790.33,348.55 791.06,348.65 791.8,348.43 792.53,348.27 793.27,347.7 794,347.99 794.73,348.1 795.47,348.51 796.2,348.35" fill="none" stroke="#1a1a1a" stroke-width="1.8" stroke-linejoin="round"/>
<polyline points="355.95,408.36 356.68,408.73 357.42,408.26 358.15,407.58 358.88,407.49 359.62,407.99 360.35,407.94 361.09,408.25 361.82,407.96 362.55,408.82 363.29,408.71 364.02,407.9 364.75,407.65 365.49,407.65 366.22,407.99 366.96,408.28 367.69,408.09 368.42,408.21 369.16,408.67 369.89,409 370.62,408.55 371.36,408.48 372.09,408.4 372.83,409.32 373.56,409.84 374.29,409.31 375.03,408.57 375.76,407.57 376.5,407.79 377.23,407.96 377.96,409.25 378.7,409.95 379.43,410.11 380.16,409.55 380.9,409.24 381.63,408.88 382.37,409.05 383.1,408.79 383.83,408.53 384.57,407.98 385.3,408.6 386.03,408.92 386.77,409.07 387.5,409.12 388.24,409.1 388.97,408.52 389.7,408.89 390.44,408.61 391.17,408.53 391.9,408.63 392.64,408.43 393.37,408.43 394.11,408.17 394.84,408.19 395.57,408.05 396.31,408.11 397.04,408.19 397.77,408.48 398.51,409.28 399.24,409.58 399.98,409.99 400.71,410.26 401.44,409.85 402.18,409.44 402.91,409.07 403.64,409.61 404.38,409.77 405.11,409.89 405.85,409.21 406.58,408.82 407.31,408.22 408.05,408.66 408.78,408.47 409.51,408.95 410.25,409.29 410.98,409.48 411.72,409.3 412.45,409.18 413.18,408.84 413.92,409.5 414.65,409.91 415.38,410.04 416.12,409.47 416.85,409.72 417.59,409.41 418.32,409.02 419.05,408.96 419.79,409.55 420.52,410.17 421.25,410.09 421.99,409.81 422.72,410 423.46,410.26 424.19,410.16 424.92,409.82 425.66,409.79 426.39,409.23 427.12,409.7 427.86,409.57 428.59,410.14 429.32,410.31 430.06,410.29 430.79,410.23 431.53,410.28 432.26,410.46 432.99,410.08 433.73,410.31 434.46,410.79 435.19,411.14 435.93,411.08 436.66,410.9 437.4,411.32 438.13,411.54 438.86,412.46 439.6,412.38 440.33,412.16 441.06,411.04 441.8,410.6 442.53,410.32 443.27,410.28 444,410.49 444.73,410.8 445.47,410.63 446.2,410.88 446.94,411.3 447.67,411.14 448.4,410.85 449.14,410.25 449.87,409.8 450.6,409.49 451.34,409.29 452.07,408.7 452.81,408.2 453.54,407.52 454.27,406.95 455.01,406.11 455.74,404.38 456.47,402.34 457.21,400.97 457.94,399.68 458.68,397.89 459.41,395.42 460.14,393.87 460.88,392.9 461.61,392.91 462.34,394.61 463.08,396.68 463.81,398.2 464.55,400 465.28,401.89 466.01,403.37 466.75,404.66 467.48,405.93 468.21,406.59 468.95,407.75 469.68,408.24 470.42,409.45 471.15,410.21 471.88,410.79 472.62,410.42 473.35,410.37 474.08,410.2 474.82,409.92 475.55,410.44 476.29,411.06 477.02,411.65 477.75,412.02 478.49,411.54 479.22,411.25 479.95,411.1 480.69,411.37 481.42,411.59 482.16,411.75 482.89,410.85 483.62,410.42 484.36,409.65 485.09,409.71 485.82,410.2 486.56,410.33 487.29,411.1 488.03,411.36 488.76,410.98 489.49,410.76 490.23,410.8 490.96,410.76 491.69,410.94 492.43,410.96 493.16,411.38 493.89,411.05 494.63,410.57 495.36,409.81 496.1,410.16 496.83,410.51 497.56,410.88 498.3,410.68 499.03,410.73 499.76,410.57 500.5,410.03 501.23,409.67 501.97,408.88 502.7,408.28 503.43,408.04 504.17,407.84 504.9,407.07 505.63,406.16 506.37,405.36 507.1,404.19 507.84,402.62 508.57,400.78 509.3,399.96 510.04,400.27 510.77,401.26 511.5,401.45 512.24,400.97 512.97,401.2 513.71,400.96 514.44,401.43 515.17,401.56 515.91,401.38 516.64,401.05 517.38,400.5 518.11,399.74 518.84,399.98 519.58,400.34 520.31,400.96 521.04,401.8 521.78,403.43 522.51,404.31 523.25,405.11 523.98,406.03 524.71,407.31 525.45,408.62 526.18,409.21 526.91,409.97 527.65,410.38 528.38,410.72 529.12,410.95 529.85,410.98 530.58,410.93 531.32,411.22 532.05,412.14 532.78,412.63 533.52,412.47 534.25,411.87 534.99,411.59 535.72,411.12 536.45,410.65 537.19,410.48 537.92,410.27 538.65,410.14 539.39,409.23 540.12,408.78 540.86,407.51 541.59,406.37 542.32,404.58 543.06,402.69 543.79,401.14 544.52,400.35 545.26,400.57 545.99,401.65 546.73,403.46 547.46,405.06 548.19,406.82 548.93,408.1 549.66,409.17 550.39,410.49 551.13,411.52 551.86,412.41 552.6,412.66 553.33,413.18 554.06,413.14 554.8,413.5 555.53,413.74 556.26,413.63 557,413.28 557.73,413.06 558.47,413.55 559.2,413.94 559.93,414.55 560.67,414.12 561.4,413.99 562.13,414.46 562.87,413.9 563.6,414.14 564.34,414.39 565.07,414.75 565.8,415.27 566.54,415.78 567.27,416 568,415.34 568.74,414.86 569.47,414.32 570.21,414.18 570.94,414.16 571.67,414.37 572.41,414.29 573.14,414.31 573.87,414 574.61,413.81 575.34,413.9 576.08,413.97 576.81,414.08 577.54,414.07 578.28,414.32 579.01,414.06 579.74,414.46 580.48,414.34 581.21,414.73 581.95,414.91 582.68,414.77 583.41,414.24 584.15,414.53 584.88,414.71 585.61,414.48 586.35,414.43 587.08,414.85 587.82,414.5 588.55,414.86 589.28,414.05 590.02,414.05 590.75,414.09 591.48,414.5 592.22,414.99 592.95,415.08 593.68,414.86 594.42,414.52 595.15,414.12 595.89,414.3 596.62,414.88 597.35,414.78 598.09,415.19 598.82,414.85 599.56,414.83 600.29,415.13 601.02,415.14 601.76,414.72 602.49,414.43 603.22,414.06 603.96,413.94 604.69,413.81 605.42,414.43 606.16,415.19 606.89,415.29 607.63,415.55 608.36,415.54 609.09,415.31 609.83,414.93 610.56,414.8 611.3,414.84 612.03,415.2 612.76,415.45 613.5,415.99 614.23,416.13 614.96,415.7 615.7,415.01 616.43,415.08 617.16,414.93 617.9,414.89 618.63,415.11 619.37,415.96 620.1,417.37 620.83,417.52 621.57,416.77 622.3,415.57 623.04,415.28 623.77,415.33 624.5,415.18 625.24,415.41 625.97,415.49 626.7,415.46 627.44,414.83 628.17,414.21 628.9,413.61 629.64,413.26 630.37,413.21 631.11,413.17 631.84,413.29 632.57,413.29 633.31,413.29 634.04,413.71 634.77,413.61 635.51,413.9 636.24,413.92 636.98,413.92 637.71,414.11 638.44,414.17 639.18,414.38 639.91,414.56 640.64,415.49 641.38,415.02 642.11,415 642.85,414.95 643.58,415.35 644.31,415.67 645.05,415.7 645.78,415.44 646.52,415.54 647.25,415.7 647.98,415.71 648.72,416.02 649.45,415.78 650.18,415.92 650.92,415.53 651.65,415.9 652.38,415.29 653.12,414.85 653.85,414.66 654.59,414.61 655.32,414.7 656.05,414.33 656.79,414.92 657.52,415.6 658.25,415.87 658.99,415.38 659.72,415.38 660.46,415.27 661.19,415.27 661.92,415.17 662.66,415.41 663.39,415.3 664.12,415.25 664.86,414.98 665.59,414.57 666.33,414.38 667.06,414.82 667.79,414.22 668.53,414.25 669.26,413.61 670,412.73 670.73,411.64 671.46,410.75 672.2,409.85 672.93,409.22 673.66,408.46 674.4,407.94 675.13,407.71 675.87,407.9 676.6,408.15 677.33,408.66 678.07,409.69 678.8,409.98 679.53,410.49 680.27,410.67 681,411.46 681.74,412.27 682.47,412.93 683.2,412.81 683.94,413.98 684.67,414.67 685.4,415.01 686.14,415.15 686.87,414.81 687.61,415.05 688.34,414.82 689.07,415.15 689.81,415.14 690.54,415.35 691.27,415.21 692.01,415.79 692.74,416.04 693.48,416.35 694.21,415.91 694.94,415.99 695.68,415.68 696.41,415.78 697.14,415.37 697.88,415.42 698.61,415.88 699.35,416.71 700.08,416.91 700.81,416.57 701.55,416.13 702.28,416.08 703.01,415.78 703.75,416.25 704.48,415.58 705.22,415.35 705.95,415.39 706.68,415.56 707.42,416.02 708.15,416.2 708.88,416.01 709.62,415.76 710.35,415.23 711.09,415.09 711.82,415.44 712.55,416.18 713.29,415.72 714.02,415.05 714.75,414.99 715.49,415.35 716.22,416.19 716.96,416.64 717.69,417.22 718.42,417.35 719.16,417.1 719.89,416.82 720.62,416.63 721.36,415.94 722.09,415.68 722.83,415.28 723.56,415.83 724.29,415.97 725.03,416.44 725.76,416.72 726.49,415.8 727.23,415.45 727.96,415.18 728.69,415.25 729.43,415.68 730.16,415.44 730.9,416.03 731.63,416.01 732.36,416.03 733.1,415.34 733.83,415.24 734.57,415.63 735.3,415.49 736.03,415.91 736.77,415.93 737.5,415.51 738.23,415.43 738.97,415.85 739.7,415.88 740.43,416.5 741.17,416.61 741.9,416.4 742.64,416.08 743.37,415.98 744.1,416.01 744.84,416.43 745.57,416.53 746.31,416.24 747.04,415.89 747.77,415.11 748.51,414.87 749.24,414.77 749.97,415.49 750.71,416.13 751.44,416.21 752.17,415.92 752.91,415.9 753.64,415.92 754.38,416.35 755.11,416.15 755.84,416.51 756.58,416.29 757.31,416 758.05,416.32 758.78,416.62 759.51,416.59 760.25,416.81 760.98,416.2 761.71,416.22 762.45,416.29 763.18,416.58 763.91,416.49 764.65,416.66 765.38,416.34 766.12,416.5 766.85,416.22 767.58,416.16 768.32,415.73 769.05,415.62 769.79,415.25 770.52,415.46 771.25,415.91 771.99,416.4 772.72,416.48 773.45,417.05 774.19,417.6 774.92,417.36 775.65,416.86 776.39,416.14 777.12,415.6 777.86,415.78 778.59,416.02 779.32,415.98 780.06,416.33 780.79,416.36 781.53,416.87 782.26,416.85 782.99,416.91 783.73,417.02 784.46,416.92 785.19,417.04 785.93,416.34 786.66,416.28 787.39,416.28 788.13,416.51 788.86,416.39 789.6,416.96 790.33,416.86 791.06,416.98 791.8,416.62 792.53,416.59 793.27,416.65 794,416.59 794.73,416.7 795.47,417.04 796.2,417.3" fill="none" stroke="#f00000" stroke-width="1.8" stroke-linejoin="round"/>
<polyline points="355.95,407.52 356.68,406.86 357.42,406.47 358.15,406.6 358.88,406.96 359.62,407.93 360.35,408.25 361.09,408.3 361.82,408.06 362.55,407.4 363.29,407.14 364.02,407.42 364.75,407.64 365.49,407.76 366.22,408.15 366.96,408.43 367.69,408.14 368.42,408.22 369.16,408.37 369.89,408.66 370.62,408.99 371.36,408.91 372.09,408.83 372.83,408.25 373.56,408.19 374.29,408.34 375.03,408.18 375.76,408.19 376.5,408.28 377.23,408.52 377.96,408.66 378.7,408.86 379.43,408.63 380.16,407.79 380.9,407.48 381.63,408.3 382.37,408.91 383.1,409.9 383.83,410.18 384.57,409.42 385.3,408.95 386.03,408.77 386.77,408.81 387.5,408.74 388.24,408.36 388.97,408.46 389.7,408.1 390.44,408.85 391.17,409.14 391.9,409.67 392.64,409.32 393.37,409.16 394.11,408.8 394.84,409.18 395.57,409.5 396.31,409.84 397.04,409.86 397.77,410.06 398.51,409.53 399.24,408.53 399.98,407.71 400.71,407.98 401.44,408.57 402.18,408.91 402.91,408.96 403.64,408.92 404.38,408.88 405.11,408.43 405.85,408.15 406.58,408.57 407.31,409.15 408.05,409.15 408.78,409.47 409.51,409.49 410.25,409.34 410.98,409.22 411.72,409.05 412.45,409.39 413.18,409.65 413.92,409.45 414.65,409.09 415.38,409.54 416.12,409.27 416.85,410 417.59,409.78 418.32,409.94 419.05,409.84 419.79,409.84 420.52,409.91 421.25,409.57 421.99,409.15 422.72,409.07 423.46,408.61 424.19,408.91 424.92,408.87 425.66,409.68 426.39,410.16 427.12,410.08 427.86,409.53 428.59,408.96 429.32,409.52 430.06,410.27 430.79,410.25 431.53,410.57 432.26,410.23 432.99,410.5 433.73,409.65 434.46,409.96 435.19,410.16 435.93,410.71 436.66,410.5 437.4,410.52 438.13,410.19 438.86,411.09 439.6,411.04 440.33,410.94 441.06,411.07 441.8,410.72 442.53,411.15 443.27,411.37 444,411.41 444.73,410.99 445.47,410.61 446.2,410.15 446.94,410.33 447.67,410.22 448.4,410.8 449.14,410.5 449.87,409.99 450.6,409.23 451.34,409.28 452.07,408.83 452.81,407.92 453.54,407.18 454.27,406.34 455.01,405.19 455.74,403.28 456.47,401.12 457.21,399.24 457.94,397.55 458.68,396.19 459.41,394.26 460.14,392.11 460.88,391.81 461.61,392.92 462.34,394.62 463.08,396.53 463.81,398.2 464.55,400.02 465.28,401.94 466.01,403.79 466.75,405.05 467.48,405.67 468.21,406.96 468.95,407.76 469.68,409.28 470.42,409.96 471.15,410.26 471.88,410.33 472.62,410.01 473.35,410.42 474.08,410.71 474.82,411.23 475.55,411.43 476.29,411.53 477.02,411.33 477.75,411.02 478.49,411.08 479.22,411.65 479.95,411.59 480.69,411.81 481.42,412.19 482.16,412.18 482.89,412.47 483.62,411.42 484.36,411.11 485.09,410.66 485.82,411.42 486.56,411.49 487.29,412.08 488.03,412.25 488.76,412.56 489.49,411.81 490.23,411.19 490.96,410.6 491.69,410.45 492.43,409.57 493.16,409.4 493.89,409.15 494.63,409.39 495.36,409.74 496.1,409.4 496.83,409.19 497.56,409.07 498.3,408.36 499.03,408.35 499.76,407.89 500.5,408.19 501.23,408.05 501.97,408.3 502.7,408.09 503.43,408.1 504.17,408.17 504.9,407.85 505.63,407.98 506.37,407.58 507.1,407.33 507.84,406.7 508.57,406.78 509.3,406.93 510.04,407.37 510.77,407.64 511.5,407.6 512.24,407.31 512.97,406.95 513.71,406.88 514.44,407.1 515.17,407 515.91,407.43 516.64,407.9 517.38,408.36 518.11,408.63 518.84,408.33 519.58,408.59 520.31,408.38 521.04,409.04 521.78,409.78 522.51,410.36 523.25,410.99 523.98,411.57 524.71,410.94 525.45,410.66 526.18,410.4 526.91,411.36 527.65,412.08 528.38,412.53 529.12,412.83 529.85,413.49 530.58,413.04 531.32,412.76 532.05,412.52 532.78,412.6 533.52,413.35 534.25,413.9 534.99,414.01 535.72,413.7 536.45,413.45 537.19,413.56 537.92,414.07 538.65,413.23 539.39,412.84 540.12,412.73 540.86,412.47 541.59,412.45 542.32,412.47 543.06,412.95 543.79,413.6 544.52,414.24 545.26,414.35 545.99,414.13 546.73,413.44 547.46,412.6 548.19,412.85 548.93,413.09 549.66,413.93 550.39,414.21 551.13,414.21 551.86,414.46 552.6,414.71 553.33,414.97 554.06,414.57 554.8,414.81 555.53,414.28 556.26,414.25 557,413.44 557.73,413.82 558.47,413.8 559.2,413.39 559.93,412.98 560.67,413.41 561.4,414.17 562.13,414.83 562.87,414.89 563.6,414.47 564.34,413.98 565.07,414.2 565.8,414.87 566.54,415.5 567.27,415.57 568,415.78 568.74,415.16 569.47,415.1 570.21,414.87 570.94,414.59 571.67,414.21 572.41,414.3 573.14,415.07 573.87,415.7 574.61,415.89 575.34,415.04 576.08,413.87 576.81,413.72 577.54,413.95 578.28,414.69 579.01,415.45 579.74,415.62 580.48,415.51 581.21,415.04 581.95,415.47 582.68,416.08 583.41,416.92 584.15,416.91 584.88,416.5 585.61,416.37 586.35,416.05 587.08,415.68 587.82,415.57 588.55,415.49 589.28,416.21 590.02,415.98 590.75,415.62 591.48,415.54 592.22,415.58 592.95,416 593.68,416.05 594.42,416.55 595.15,416.01 595.89,416.6 596.62,416.41 597.35,416.57 598.09,416.06 598.82,416.13 599.56,416.44 600.29,416.98 601.02,416.57 601.76,416.96 602.49,417.05 603.22,417.09 603.96,416.93 604.69,417.27 605.42,416.87 606.16,416.88 606.89,416.49 607.63,416.28 608.36,415.95 609.09,415.9 609.83,416.36 610.56,416.12 611.3,416.11 612.03,415.79 612.76,416.3 613.5,416.24 614.23,415.86 614.96,415.08 615.7,415.27 616.43,415 617.16,415.48 617.9,415.37 618.63,414.73 619.37,414.38 620.1,413.93 620.83,413.81 621.57,413.4 622.3,413.31 623.04,413.43 623.77,414.2 624.5,414.24 625.24,414.3 625.97,413.45 626.7,413.02 627.44,411.73 628.17,411.09 628.9,410.15 629.64,409.22 630.37,408.58 631.11,408.1 631.84,408.29 632.57,408.37 633.31,408.95 634.04,409.29 634.77,409.64 635.51,410.12 636.24,410.97 636.98,411.97 637.71,412.5 638.44,413.06 639.18,413.63 639.91,414.47 640.64,414.47 641.38,414.66 642.11,414.75 642.85,414.52 643.58,414.29 644.31,414.46 645.05,414.81 645.78,415.06 646.52,415.09 647.25,415.09 647.98,415.3 648.72,415.65 649.45,415.42 650.18,416.12 650.92,415.78 651.65,416.52 652.38,416.56 653.12,416.41 653.85,415.77 654.59,414.96 655.32,414.73 656.05,414.96 656.79,414.71 657.52,414.77 658.25,414.21 658.99,414.08 659.72,414.33 660.46,414.36 661.19,414.37 661.92,414.01 662.66,413.63 663.39,413.82 664.12,413.65 664.86,414.09 665.59,414.42 666.33,414.28 667.06,413.34 667.79,412.71 668.53,412.32 669.26,411.96 670,411.09 670.73,409.42 671.46,407.78 672.2,406.4 672.93,405.23 673.66,404.23 674.4,402.49 675.13,401.59 675.87,401.08 676.6,401.46 677.33,401.36 678.07,400.62 678.8,399.72 679.53,399.42 680.27,399.37 681,399.6 681.74,399.89 682.47,400.73 683.2,402.29 683.94,404.12 684.67,405.31 685.4,406.91 686.14,407.99 686.87,409.17 687.61,409.74 688.34,411.36 689.07,411.81 689.81,412.45 690.54,412.28 691.27,412.83 692.01,413.34 692.74,414.34 693.48,415.07 694.21,415.4 694.94,415.65 695.68,415.83 696.41,416.1 697.14,415.96 697.88,415.95 698.61,415.54 699.35,415.75 700.08,415.27 700.81,415.17 701.55,414.69 702.28,415.25 703.01,415.62 703.75,415.74 704.48,415.46 705.22,415.67 705.95,415.29 706.68,415.51 707.42,415.66 708.15,415.77 708.88,416.17 709.62,416.05 710.35,416.67 711.09,416.73 711.82,416.46 712.55,416.04 713.29,415.58 714.02,415.58 714.75,416.06 715.49,416.28 716.22,416.54 716.96,416.07 717.69,416.06 718.42,415.71 719.16,416.27 719.89,416.34 720.62,416.23 721.36,415.55 722.09,415.29 722.83,415.6 723.56,416.12 724.29,416.63 725.03,416.36 725.76,416.01 726.49,415.59 727.23,416.74 727.96,417.06 728.69,417.02 729.43,416.72 730.16,416.38 730.9,416.18 731.63,416.2 732.36,416.12 733.1,416.53 733.83,415.71 734.57,415.75 735.3,415.29 736.03,415.87 736.77,416.1 737.5,416.09 738.23,416.83 738.97,416.84 739.7,417.06 740.43,416.49 741.17,415.96 741.9,415.73 742.64,416.24 743.37,416.1 744.1,416.98 744.84,416.75 745.57,416.58 746.31,416.1 747.04,416.25 747.77,415.48 748.51,415.83 749.24,415.44 749.97,416.23 750.71,416.24 751.44,416.05 752.17,415.79 752.91,415.86 753.64,416.16 754.38,416.23 755.11,416.13 755.84,416.4 756.58,416.51 757.31,416.72 758.05,416.06 758.78,416.01 759.51,415.53 760.25,415.96 760.98,415.69 761.71,416.06 762.45,416.17 763.18,416 763.91,415.78 764.65,415.91 765.38,416.42 766.12,416.76 766.85,416.56 767.58,416.93 768.32,416.41 769.05,416.5 769.79,416.56 770.52,416.55 771.25,416.43 771.99,416.04 772.72,416.11 773.45,415.62 774.19,415.5 774.92,415.39 775.65,415.75 776.39,416.05 777.12,416.32 777.86,416.43 778.59,416.79 779.32,416.85 780.06,416.53 780.79,416.16 781.53,415.57 782.26,416.1 782.99,415.98 783.73,416.31 784.46,416.45 785.19,416.68 785.93,416.62 786.66,416.54 787.39,416.21 788.13,415.81 788.86,415.66 789.6,415.55 790.33,415.67 791.06,416.31 791.8,416.63 792.53,416.54 793.27,416.27 794,416.3 794.73,416.39 795.47,416.07 796.2,416.25" fill="none" stroke="#1a1a1a" stroke-width="1.8" stroke-linejoin="round"/>
<polyline points="355.95,476.78 356.68,476.3 357.42,476.69 358.15,476.35 358.88,476.78 359.62,476.22 360.35,476.22 361.09,476.26 361.82,476.2 362.55,476.78 363.29,476.44 364.02,476.75 364.75,477.08 365.49,477.9 366.22,478.07 366.96,478.72 367.69,478.39 368.42,478.32 369.16,478.22 369.89,478.02 370.62,477.84 371.36,478.18 372.09,478.74 372.83,479.38 373.56,479 374.29,478.64 375.03,477.87 375.76,478.47 376.5,479.14 377.23,480.04 377.96,480.15 378.7,479.73 379.43,479.4 380.16,479.03 380.9,478.81 381.63,478.94 382.37,479.07 383.1,479.37 383.83,479.6 384.57,479.42 385.3,479.47 386.03,478.95 386.77,478.92 387.5,478.82 388.24,478.64 388.97,479.42 389.7,479.8 390.44,480.21 391.17,479.8 391.9,479.56 392.64,479.23 393.37,478.53 394.11,478.68 394.84,478.5 395.57,479.13 396.31,479.14 397.04,479.09 397.77,478.65 398.51,479.44 399.24,479.41 399.98,479.49 400.71,479.1 401.44,479.22 402.18,479.64 402.91,479.16 403.64,478.98 404.38,478.71 405.11,478.86 405.85,478.23 406.58,478.6 407.31,478.92 408.05,480 408.78,479.85 409.51,479.44 410.25,478.99 410.98,478.69 411.72,478.77 412.45,478.99 413.18,479.42 413.92,479.03 414.65,479.05 415.38,479.23 416.12,479.5 416.85,479.19 417.59,478.7 418.32,478.63 419.05,478.52 419.79,478.35 420.52,478.53 421.25,479.13 421.99,479.5 422.72,480.09 423.46,479.84 424.19,479.51 424.92,479.3 425.66,479.25 426.39,479.55 427.12,479.86 427.86,479.6 428.59,479.2 429.32,479.29 430.06,479.87 430.79,480.04 431.53,480.49 432.26,480.9 432.99,480.77 433.73,480.82 434.46,480.81 435.19,481.03 435.93,480.64 436.66,480.68 437.4,481.17 438.13,481.95 438.86,482.1 439.6,482.17 440.33,481.73 441.06,480.96 441.8,480.85 442.53,480.88 443.27,481.25 444,481.68 444.73,481.87 445.47,481.56 446.2,481.28 446.94,480.49 447.67,480.28 448.4,479.44 449.14,479.33 449.87,478.95 450.6,479.31 451.34,478.56 452.07,478.07 452.81,476.8 453.54,476.13 454.27,475.01 455.01,473.37 455.74,471.34 456.47,468.93 457.21,466.22 457.94,463.5 458.68,460.9 459.41,459.07 460.14,457.34 460.88,456.47 461.61,456.44 462.34,457.12 463.08,459.17 463.81,461.94 464.55,465.6 465.28,467.87 466.01,470.14 466.75,471.44 467.48,473.41 468.21,475.14 468.95,476.48 469.68,477.75 470.42,478.3 471.15,479.13 471.88,479.94 472.62,480.4 473.35,480.16 474.08,479.97 474.82,479.96 475.55,480.19 476.29,479.65 477.02,479.65 477.75,479.87 478.49,480.54 479.22,480.49 479.95,480.14 480.69,479.98 481.42,480.05 482.16,479.92 482.89,479.79 483.62,479.81 484.36,480.06 485.09,480.14 485.82,480.26 486.56,480.24 487.29,480.32 488.03,480.44 488.76,480.36 489.49,479.8 490.23,480 490.96,479.93 491.69,480.05 492.43,480.5 493.16,480.48 493.89,480.63 494.63,480.42 495.36,480.72 496.1,480.44 496.83,480.01 497.56,480.2 498.3,479.53 499.03,479.58 499.76,478.65 500.5,478.03 501.23,477.34 501.97,476.98 502.7,476.83 503.43,476.74 504.17,476.3 504.9,475.48 505.63,475.34 506.37,474.75 507.1,474.89 507.84,474.55 508.57,474.28 509.3,474.31 510.04,474.01 510.77,475.1 511.5,475.38 512.24,474.69 512.97,473.74 513.71,472.64 514.44,472.09 515.17,470.65 515.91,469.21 516.64,467.42 517.38,465.77 518.11,463.46 518.84,461.03 519.58,460.4 520.31,460.99 521.04,463.6 521.78,466.13 522.51,469.25 523.25,471.85 523.98,473.82 524.71,475.1 525.45,476.58 526.18,477.78 526.91,479.2 527.65,479.45 528.38,479.31 529.12,479.76 529.85,480.82 530.58,480.97 531.32,480.84 532.05,480.95 532.78,480.8 533.52,480.89 534.25,480.56 534.99,480.55 535.72,479.72 536.45,478.71 537.19,478 537.92,477.02 538.65,475.79 539.39,473.55 540.12,470.56 540.86,466.59 541.59,462.54 542.32,457.62 543.06,453.06 543.79,448.08 544.52,445.32 545.26,444.94 545.99,447.41 546.73,452.05 547.46,457.4 548.19,462.6 548.93,467.41 549.66,470.86 550.39,474.09 551.13,476.22 551.86,477.8 552.6,478.66 553.33,479.55 554.06,480.8 554.8,481.44 555.53,482.5 556.26,482.93 557,482.79 557.73,483.12 558.47,483.58 559.2,484.4 559.93,484.83 560.67,484.71 561.4,484.48 562.13,484.23 562.87,483.75 563.6,483.85 564.34,484.25 565.07,484.23 565.8,484.57 566.54,484 567.27,484.19 568,484.2 568.74,484.37 569.47,484.07 570.21,484.2 570.94,484.52 571.67,484.62 572.41,484.55 573.14,483.78 573.87,483.21 574.61,482.67 575.34,483.02 576.08,483.45 576.81,483.76 577.54,484.26 578.28,484.83 579.01,484.96 579.74,485.34 580.48,485.38 581.21,485.39 581.95,485.35 582.68,485.36 583.41,484.79 584.15,485.14 584.88,484.44 585.61,484.77 586.35,484.58 587.08,484.77 587.82,484.95 588.55,484.95 589.28,484.95 590.02,484.96 590.75,484.78 591.48,485.02 592.22,484.8 592.95,485.17 593.68,484.88 594.42,485.4 595.15,485.4 595.89,486 596.62,485.61 597.35,485.8 598.09,485.39 598.82,485.39 599.56,486.29 600.29,486.58 601.02,486.84 601.76,486.39 602.49,486.6 603.22,486.96 603.96,486.93 604.69,487.37 605.42,486.54 606.16,486.33 606.89,485.52 607.63,485.44 608.36,485.54 609.09,485.88 609.83,485.9 610.56,485.79 611.3,485.14 612.03,485.28 612.76,485.02 613.5,484.95 614.23,485.35 614.96,485.79 615.7,485.77 616.43,485.18 617.16,485.31 617.9,485.52 618.63,486 619.37,485.63 620.1,485.1 620.83,484.82 621.57,484.45 622.3,485.18 623.04,485.4 623.77,485.5 624.5,485.09 625.24,485.77 625.97,485.32 626.7,484.97 627.44,484.48 628.17,484.35 628.9,483.95 629.64,483.56 630.37,483.38 631.11,482.83 631.84,483.01 632.57,482.83 633.31,483.43 634.04,483.91 634.77,484.13 635.51,484.18 636.24,484.06 636.98,484.21 637.71,484.72 638.44,484.68 639.18,484.57 639.91,484.73 640.64,485.1 641.38,485.92 642.11,486.17 642.85,486.33 643.58,485.68 644.31,485.53 645.05,485.27 645.78,485.03 646.52,485.48 647.25,485.65 647.98,485.7 648.72,485.67 649.45,486.5 650.18,486.12 650.92,486.71 651.65,486.33 652.38,486.16 653.12,485.8 653.85,485.96 654.59,486.6 655.32,486.88 656.05,486.34 656.79,486.48 657.52,486.12 658.25,486.09 658.99,485.42 659.72,484.78 660.46,484.2 661.19,484.07 661.92,484.32 662.66,484.09 663.39,483.5 664.12,483.01 664.86,483 665.59,483.19 666.33,482.99 667.06,482.34 667.79,481.04 668.53,480.03 669.26,478.63 670,478.05 670.73,476.62 671.46,475.35 672.2,474.45 672.93,474.36 673.66,474.92 674.4,475.96 675.13,476.7 675.87,477.81 676.6,478.37 677.33,478.77 678.07,479.63 678.8,480.9 679.53,482.58 680.27,484.3 681,485.23 681.74,485.06 682.47,485.05 683.2,484.88 683.94,485.35 684.67,485.14 685.4,485.45 686.14,485.8 686.87,486.01 687.61,485.79 688.34,485.19 689.07,485.71 689.81,486.01 690.54,486.4 691.27,486.52 692.01,486.04 692.74,486.22 693.48,486.41 694.21,486.26 694.94,486.88 695.68,486.75 696.41,486.67 697.14,486.36 697.88,486.52 698.61,486.48 699.35,486.02 700.08,485.86 700.81,485.86 701.55,486.37 702.28,486.66 703.01,486.82 703.75,486.56 704.48,486.14 705.22,486.06 705.95,485.83 706.68,486.02 707.42,485.54 708.15,485.29 708.88,485.26 709.62,485.15 710.35,485.88 711.09,486.33 711.82,486.39 712.55,486.19 713.29,485.85 714.02,485.41 714.75,485.12 715.49,484.91 716.22,485.51 716.96,485.9 717.69,486.22 718.42,485.7 719.16,485.61 719.89,485.43 720.62,485.21 721.36,485.1 722.09,485.32 722.83,485.51 723.56,485.77 724.29,484.93 725.03,484.85 725.76,484.97 726.49,485.68 727.23,486.07 727.96,485.9 728.69,486.32 729.43,486.17 730.16,486.89 730.9,486.59 731.63,486.71 732.36,486.18 733.1,486.54 733.83,486.22 734.57,486.05 735.3,485.91 736.03,486.53 736.77,486.83 737.5,486.91 738.23,487.28 738.97,487.27 739.7,487.23 740.43,486.67 741.17,486.78 741.9,486.61 742.64,486.43 743.37,486.59 744.1,486.62 744.84,487.07 745.57,486.99 746.31,487.35 747.04,487.65 747.77,487.79 748.51,487.44 749.24,486.93 749.97,487.4 750.71,487.34 751.44,487.49 752.17,486.91 752.91,486.53 753.64,486.27 754.38,486.67 755.11,486.88 755.84,486.59 756.58,486.4 757.31,486.34 758.05,486.69 758.78,486.95 759.51,487.2 760.25,486.87 760.98,486.89 761.71,486.68 762.45,487 763.18,486.63 763.91,486.23 764.65,486.33 765.38,486.8 766.12,487.54 766.85,487.67 767.58,487.88 768.32,487.33 769.05,486.98 769.79,486.9 770.52,487.34 771.25,486.8 771.99,486.46 772.72,486.28 773.45,486.56 774.19,487.21 774.92,487.57 775.65,487.52 776.39,488.03 777.12,487.72 777.86,487.17 778.59,486.56 779.32,486.77 780.06,487.01 780.79,487.53 781.53,487.77 782.26,488.24 782.99,488.41 783.73,487.74 784.46,487.76 785.19,488 785.93,488.02 786.66,486.91 787.39,486.75 788.13,486.6 788.86,487.26 789.6,487.41 790.33,487.53 791.06,487.52 791.8,487.3 792.53,486.15 793.27,486.25 794,486.71 794.73,487.5 795.47,487.92 796.2,487.99" fill="none" stroke="#f00000" stroke-width="1.8" stroke-linejoin="round"/>
<polyline points="355.95,477.04 356.68,477.47 357.42,477.99 358.15,478.48 358.88,478.3 359.62,478.83 360.35,478.37 361.09,477.83 361.82,477.5 362.55,477.53 363.29,477.32 364.02,477.16 364.75,477.17 365.49,478.16 366.22,478.66 366.96,479.64 367.69,479.99 368.42,479.53 369.16,479.79 369.89,479.55 370.62,479.98 371.36,479.44 372.09,478.7 372.83,478.73 373.56,479.17 374.29,479.57 375.03,479.77 375.76,479.41 376.5,479.96 377.23,480.61 377.96,480.06 378.7,479.6 379.43,479.5 380.16,479.48 380.9,480.2 381.63,480.49 382.37,481.12 383.1,481.28 383.83,481.39 384.57,480.5 385.3,480.25 386.03,479.75 386.77,480.52 387.5,480.54 388.24,480.66 388.97,480.47 389.7,480.58 390.44,480.84 391.17,480.61 391.9,480.54 392.64,480.44 393.37,480.52 394.11,480.64 394.84,480.24 395.57,480.08 396.31,479.98 397.04,480.13 397.77,480.25 398.51,480.31 399.24,480.46 399.98,480.65 400.71,480.48 401.44,480.54 402.18,480.9 402.91,480.7 403.64,480.6 404.38,480.36 405.11,480.88 405.85,481.69 406.58,481.57 407.31,481.17 408.05,480.7 408.78,480.23 409.51,480.32 410.25,480.43 410.98,480.85 411.72,480.5 412.45,481.3 413.18,480.5 413.92,480.2 414.65,479.48 415.38,479.95 416.12,480.46 416.85,480.67 417.59,480.15 418.32,480.14 419.05,480.48 419.79,481.47 420.52,481.48 421.25,482.04 421.99,482.08 422.72,482.42 423.46,481.99 424.19,481.62 424.92,481.52 425.66,482.08 426.39,482.31 427.12,482.56 427.86,482.78 428.59,482.53 429.32,482.31 430.06,481.67 430.79,481.32 431.53,481.46 432.26,482 432.99,482.75 433.73,482.62 434.46,482.36 435.19,482.19 435.93,482.69 436.66,483.35 437.4,483.36 438.13,483.09 438.86,482.84 439.6,483 440.33,483.04 441.06,483.35 441.8,483.29 442.53,482.99 443.27,482.44 444,482.13 444.73,482.4 445.47,481.83 446.2,481.77 446.94,481.83 447.67,482.18 448.4,482.01 449.14,481.8 449.87,480.81 450.6,480.41 451.34,480.29 452.07,480.37 452.81,479.99 453.54,479.16 454.27,478.38 455.01,477.05 455.74,475.58 456.47,473.88 457.21,472.44 457.94,470.58 458.68,468.96 459.41,467.25 460.14,466.23 460.88,465.82 461.61,466 462.34,466.93 463.08,468.17 463.81,469.56 464.55,471.36 465.28,472.53 466.01,474.54 466.75,475.68 467.48,477.85 468.21,479.22 468.95,480.37 469.68,480.8 470.42,481.28 471.15,481.6 471.88,481.81 472.62,482.06 473.35,482.3 474.08,482.3 474.82,482.25 475.55,482.45 476.29,482.55 477.02,482.69 477.75,482.24 478.49,482.16 479.22,482.26 479.95,482.07 480.69,482.04 481.42,482.4 482.16,482.65 482.89,482.65 483.62,482.04 484.36,481.97 485.09,482.14 485.82,482.39 486.56,482.46 487.29,482.15 488.03,481.71 488.76,481.47 489.49,481.88 490.23,482.58 490.96,482.53 491.69,481.94 492.43,481.2 493.16,480.9 493.89,480.83 494.63,480.21 495.36,479.97 496.1,480.01 496.83,479.62 497.56,480.24 498.3,480.2 499.03,480.8 499.76,480.24 500.5,480.24 501.23,479.95 501.97,480.01 502.7,479.32 503.43,478.83 504.17,478.1 504.9,477.69 505.63,477.84 506.37,477.84 507.1,477.71 507.84,477.66 508.57,477.95 509.3,478.37 510.04,478.69 510.77,479.49 511.5,479.02 512.24,479.22 512.97,478.75 513.71,479.29 514.44,478.93 515.17,478.94 515.91,478.96 516.64,479.16 517.38,479.26 518.11,479.34 518.84,479.7 519.58,479.88 520.31,480.28 521.04,480.57 521.78,480.82 522.51,481.31 523.25,481.47 523.98,481.36 524.71,481.4 525.45,481.65 526.18,483.03 526.91,483.2 527.65,483.26 528.38,483.3 529.12,483.18 529.85,482.98 530.58,482.69 531.32,483.07 532.05,484.09 532.78,484.63 533.52,484.83 534.25,484.56 534.99,485.22 535.72,485.83 536.45,485.69 537.19,485.26 537.92,484.85 538.65,484.47 539.39,485.11 540.12,485.25 540.86,485.05 541.59,484.76 542.32,484.94 543.06,485.36 543.79,485.74 544.52,485.62 545.26,485.51 545.99,485.2 546.73,484.97 547.46,484.91 548.19,485.24 548.93,485.63 549.66,486.16 550.39,486.63 551.13,486.26 551.86,485.65 552.6,485.99 553.33,486.29 554.06,487.01 554.8,486.89 555.53,486.99 556.26,486.47 557,486.16 557.73,485.76 558.47,486.46 559.2,486.95 559.93,486.59 560.67,486.62 561.4,485.87 562.13,486.25 562.87,486.49 563.6,486.86 564.34,486.95 565.07,486.56 565.8,486.69 566.54,485.78 567.27,485.5 568,485.11 568.74,484.9 569.47,485.48 570.21,486.42 570.94,487.35 571.67,487.44 572.41,486.68 573.14,486.18 573.87,485.52 574.61,486.15 575.34,486.66 576.08,486.37 576.81,486.49 577.54,485.94 578.28,486.28 579.01,486.43 579.74,486.89 580.48,487.16 581.21,487.44 581.95,487.16 582.68,486.63 583.41,486.17 584.15,485.67 584.88,485.43 585.61,485.17 586.35,485.49 587.08,486.43 587.82,486.83 588.55,486.95 589.28,486.38 590.02,486.35 590.75,486.01 591.48,486.86 592.22,487.19 592.95,487.52 593.68,486.99 594.42,486.72 595.15,486.36 595.89,486.87 596.62,486.73 597.35,486.81 598.09,487.3 598.82,487.9 599.56,487.98 600.29,487.06 601.02,486.31 601.76,486.3 602.49,486.59 603.22,486.77 603.96,486.92 604.69,486.87 605.42,486.75 606.16,486.76 606.89,486.32 607.63,486.64 608.36,486.77 609.09,486.66 609.83,486.87 610.56,486.97 611.3,487.12 612.03,486.26 612.76,486.12 613.5,485.65 614.23,484.95 614.96,485.67 615.7,486.05 616.43,487.05 617.16,486.91 617.9,486.03 618.63,485.9 619.37,485.5 620.1,485.77 620.83,485.98 621.57,485.53 622.3,484.83 623.04,483.58 623.77,483.4 624.5,483.7 625.24,484.49 625.97,484.72 626.7,484.35 627.44,483.87 628.17,483.31 628.9,483.24 629.64,482.9 630.37,482.38 631.11,482.06 631.84,481.9 632.57,481.27 633.31,481.29 634.04,481.53 634.77,481.81 635.51,482 636.24,482.72 636.98,483.5 637.71,484.22 638.44,484.49 639.18,484.24 639.91,484.55 640.64,485.28 641.38,485.3 642.11,485.35 642.85,485.25 643.58,485.65 644.31,485.54 645.05,485.84 645.78,485.54 646.52,485.62 647.25,485.67 647.98,486.23 648.72,486.32 649.45,486.22 650.18,486.49 650.92,486.87 651.65,485.94 652.38,485.46 653.12,485.3 653.85,485.13 654.59,485.67 655.32,485.9 656.05,485.89 656.79,485.43 657.52,485.21 658.25,485.01 658.99,484.92 659.72,484.88 660.46,484.91 661.19,485.02 661.92,484.32 662.66,483.52 663.39,483.83 664.12,484 664.86,484.05 665.59,483.2 666.33,482.69 667.06,482.41 667.79,482.05 668.53,481.19 669.26,479.82 670,478.52 670.73,476.66 671.46,475.03 672.2,473.9 672.93,473.46 673.66,472.9 674.4,472.78 675.13,472.17 675.87,471.95 676.6,471.46 677.33,471.66 678.07,471.38 678.8,471.44 679.53,471.22 680.27,471.18 681,471.74 681.74,472.3 682.47,473.37 683.2,474.41 683.94,475.61 684.67,477.14 685.4,479.03 686.14,480.21 686.87,481.4 687.61,482.04 688.34,483.15 689.07,483.98 689.81,484.48 690.54,485.07 691.27,485.24 692.01,485.64 692.74,485.79 693.48,486.66 694.21,486.32 694.94,486.38 695.68,485.98 696.41,486.13 697.14,486.55 697.88,487.27 698.61,487.09 699.35,487.39 700.08,487.12 700.81,486.95 701.55,486.97 702.28,486.91 703.01,487.01 703.75,487.01 704.48,487.04 705.22,486.9 705.95,487.33 706.68,487.39 707.42,487.56 708.15,487.15 708.88,487.27 709.62,486.89 710.35,487.21 711.09,487.01 711.82,487.15 712.55,486.96 713.29,486.51 714.02,486.6 714.75,486.25 715.49,486.65 716.22,487.38 716.96,487.84 717.69,488.22 718.42,487.9 719.16,487.9 719.89,487.72 720.62,487.23 721.36,487.34 722.09,487.23 722.83,487.24 723.56,487.21 724.29,487.59 725.03,487.6 725.76,487.46 726.49,486.92 727.23,486.44 727.96,486.41 728.69,487.41 729.43,487.21 730.16,487.55 730.9,487.35 731.63,487.33 732.36,486.5 733.1,486.05 733.83,486.08 734.57,486.44 735.3,486.8 736.03,486.89 736.77,487.2 737.5,486.95 738.23,486.48 738.97,486.87 739.7,487.02 740.43,487.33 741.17,487.46 741.9,487.79 742.64,487.65 743.37,487.51 744.1,487.34 744.84,487.06 745.57,487.37 746.31,487.34 747.04,487.45 747.77,487.36 748.51,487.17 749.24,487.26 749.97,487.44 750.71,487.22 751.44,487.27 752.17,487.61 752.91,487.43 753.64,487.63 754.38,486.91 755.11,487.03 755.84,487.36 756.58,487.55 757.31,487.39 758.05,487.55 758.78,487.84 759.51,487.93 760.25,487.99 760.98,488 761.71,487.85 762.45,488.02 763.18,487.74 763.91,487.82 764.65,487.56 765.38,487.62 766.12,487.65 766.85,487.21 767.58,487.2 768.32,487.41 769.05,488.03 769.79,488.36 770.52,488.29 771.25,488.14 771.99,487.86 772.72,487.39 773.45,487.52 774.19,488 774.92,488.37 775.65,487.71 776.39,487.19 777.12,486.82 777.86,487.34 778.59,486.96 779.32,487.07 780.06,487.24 780.79,487.96 781.53,488.64 782.26,488.04 782.99,486.99 783.73,486.36 784.46,486.79 785.19,487.27 785.93,487.97 786.66,488.32 787.39,488.41 788.13,488.53 788.86,488.37 789.6,487.93 790.33,487.84 791.06,487.67 791.8,488.26 792.53,488.05 793.27,487.49 794,487.27 794.73,487.2 795.47,487.39 796.2,487.1" fill="none" stroke="#1a1a1a" stroke-width="1.8" stroke-linejoin="round"/>
<polyline points="355.95,547.8 356.68,547.79 357.42,547.51 358.15,547.59 358.88,547.89 359.62,548.24 360.35,548.69 361.09,548.11 361.82,547.98 362.55,547.86 363.29,548.25 364.02,548.15 364.75,548.39 365.49,548.56 366.22,548.73 366.96,548.55 367.69,549.17 368.42,549.04 369.16,549.37 369.89,549.21 370.62,549.32 371.36,548.75 372.09,548.72 372.83,549 373.56,549.47 374.29,549.5 375.03,549.58 375.76,549.62 376.5,549.19 377.23,549.66 377.96,549.58 378.7,549.22 379.43,549.13 380.16,549.03 380.9,549.43 381.63,549.44 382.37,549.69 383.1,549.73 383.83,549.12 384.57,549.37 385.3,549.34 386.03,549.47 386.77,549.5 387.5,549.24 388.24,548.91 388.97,549.04 389.7,549.17 390.44,549.42 391.17,549.83 391.9,551.11 392.64,551.32 393.37,550.99 394.11,550.08 394.84,549.37 395.57,549.66 396.31,549.99 397.04,550.05 397.77,550.32 398.51,550.83 399.24,551.44 399.98,551.05 400.71,550.88 401.44,550.69 402.18,551.23 402.91,551.06 403.64,550.85 404.38,550.61 405.11,550.83 405.85,551.35 406.58,551.98 407.31,551.61 408.05,551.47 408.78,550.87 409.51,551.09 410.25,550.88 410.98,551.61 411.72,551.42 412.45,551.86 413.18,551.95 413.92,552.42 414.65,552.1 415.38,551.68 416.12,550.75 416.85,550.52 417.59,550.43 418.32,550.75 419.05,551.12 419.79,551.75 420.52,551.66 421.25,551.49 421.99,550.96 422.72,550.95 423.46,551.12 424.19,551.97 424.92,552.14 425.66,552.25 426.39,551.93 427.12,551.36 427.86,551.3 428.59,551.02 429.32,551.8 430.06,551.95 430.79,552.24 431.53,552.19 432.26,552.26 432.99,551.98 433.73,551.86 434.46,551.67 435.19,551.93 435.93,552.19 436.66,552.22 437.4,551.56 438.13,550.94 438.86,550.65 439.6,551.17 440.33,551.64 441.06,552.23 441.8,552.6 442.53,552.32 443.27,552.51 444,552.18 444.73,551.6 445.47,551.33 446.2,551.26 446.94,550.92 447.67,550.72 448.4,550.79 449.14,550.44 449.87,550.22 450.6,550.1 451.34,549.75 452.07,549.36 452.81,548.55 453.54,547.17 454.27,544.88 455.01,543.3 455.74,541 456.47,538.83 457.21,536.21 457.94,533.39 458.68,530.05 459.41,526.75 460.14,524.51 460.88,523.21 461.61,523.92 462.34,525.26 463.08,527.21 463.81,529.79 464.55,532.99 465.28,536.44 466.01,539.73 466.75,542.13 467.48,544.23 468.21,546.1 468.95,547.78 469.68,548.78 470.42,549.55 471.15,550.71 471.88,550.82 472.62,551.45 473.35,551.68 474.08,551.91 474.82,552.02 475.55,552.47 476.29,552.42 477.02,552.71 477.75,552.58 478.49,552.71 479.22,551.93 479.95,551.62 480.69,551.63 481.42,552.04 482.16,552.21 482.89,552.39 483.62,552.17 484.36,552.13 485.09,551.6 485.82,551.52 486.56,551.63 487.29,551.62 488.03,551.56 488.76,551.59 489.49,551.75 490.23,552.23 490.96,552.51 491.69,552.48 492.43,551.81 493.16,551.01 493.89,550.31 494.63,550.07 495.36,550.19 496.1,550.84 496.83,551.15 497.56,550.38 498.3,549.68 499.03,548.59 499.76,548.67 500.5,548.35 501.23,548.25 501.97,547.62 502.7,547.19 503.43,547.04 504.17,547.2 504.9,547.53 505.63,546.9 506.37,545.91 507.1,545.78 507.84,545.6 508.57,545.95 509.3,545.14 510.04,545.62 510.77,545.89 511.5,546.28 512.24,545.59 512.97,544.22 513.71,542.74 514.44,541.75 515.17,540.69 515.91,539.18 516.64,537.09 517.38,534.73 518.11,532.81 518.84,530.92 519.58,530 520.31,530.53 521.04,532.87 521.78,536.05 522.51,539.92 523.25,542.41 523.98,544.72 524.71,546.87 525.45,547.95 526.18,548.92 526.91,549.04 527.65,549.59 528.38,550.03 529.12,551.22 529.85,552.07 530.58,552.11 531.32,552.17 532.05,552.11 532.78,551.77 533.52,550.86 534.25,550.44 534.99,550.07 535.72,549.76 536.45,548.32 537.19,546.99 537.92,545.21 538.65,542.91 539.39,539.82 540.12,535.59 540.86,531 541.59,525.03 542.32,519.4 543.06,512.74 543.79,507.43 544.52,503.54 545.26,503.23 545.99,505.57 546.73,510.64 547.46,517.23 548.19,523.38 548.93,529.08 549.66,534.21 550.39,539.5 551.13,543.48 551.86,546.82 552.6,548.76 553.33,549.68 554.06,549.61 554.8,549.88 555.53,551.41 556.26,552.11 557,553.49 557.73,553.78 558.47,553.86 559.2,553.72 559.93,553.5 560.67,554.04 561.4,554.61 562.13,555.21 562.87,555.73 563.6,555.54 564.34,555.76 565.07,555.75 565.8,555.07 566.54,554.62 567.27,554.27 568,554.3 568.74,554.65 569.47,555.65 570.21,556.21 570.94,556.04 571.67,555.55 572.41,555.29 573.14,555.41 573.87,555.27 574.61,555.51 575.34,555.68 576.08,556.22 576.81,556.15 577.54,555.85 578.28,555.45 579.01,555.8 579.74,556.35 580.48,557.01 581.21,556.75 581.95,557.09 582.68,556.3 583.41,556.06 584.15,555.93 584.88,555.84 585.61,555.99 586.35,555.98 587.08,555.99 587.82,556.23 588.55,556.86 589.28,557.39 590.02,557.47 590.75,556.63 591.48,555.68 592.22,555.49 592.95,555.33 593.68,555.9 594.42,555.99 595.15,556.39 595.89,556.3 596.62,556.56 597.35,556.45 598.09,556.86 598.82,556.43 599.56,557.18 600.29,557.35 601.02,557.41 601.76,557.12 602.49,556.82 603.22,556.54 603.96,556.52 604.69,557.15 605.42,557.41 606.16,557.61 606.89,557.42 607.63,557.8 608.36,557.85 609.09,557.81 609.83,556.88 610.56,556.07 611.3,556.01 612.03,556.5 612.76,556.47 613.5,556.95 614.23,556.8 614.96,557.02 615.7,557.02 616.43,557.01 617.16,557.31 617.9,557.45 618.63,557.02 619.37,556.89 620.1,556.93 620.83,557.32 621.57,557.37 622.3,557.01 623.04,556.94 623.77,557.32 624.5,557.38 625.24,557.54 625.97,556.73 626.7,556.06 627.44,555.34 628.17,555.21 628.9,555.22 629.64,555.7 630.37,555.78 631.11,554.78 631.84,554.33 632.57,554.18 633.31,554.71 634.04,555.1 634.77,555.82 635.51,556.06 636.24,555.78 636.98,555.87 637.71,556.19 638.44,556.88 639.18,557.25 639.91,556.61 640.64,556.51 641.38,556.49 642.11,557.06 642.85,557.2 643.58,557.27 644.31,557.82 645.05,558.58 645.78,558.6 646.52,557.71 647.25,557.45 647.98,557.18 648.72,557.41 649.45,557.29 650.18,557.92 650.92,558.09 651.65,558.24 652.38,557.56 653.12,557.79 653.85,557.16 654.59,557.23 655.32,557.78 656.05,558.06 656.79,558.03 657.52,558.09 658.25,557.82 658.99,557.42 659.72,556.79 660.46,556.86 661.19,557.17 661.92,557.56 662.66,557.35 663.39,556.37 664.12,555.57 664.86,554.9 665.59,554.93 666.33,554.28 667.06,554.1 667.79,552.8 668.53,551.69 669.26,550.37 670,549.02 670.73,547.8 671.46,547.11 672.2,546.66 672.93,546.33 673.66,546.34 674.4,546.67 675.13,547.1 675.87,548.25 676.6,549.64 677.33,550.92 678.07,552.25 678.8,553.05 679.53,553.35 680.27,554.35 681,555.41 681.74,556.2 682.47,556.73 683.2,556.94 683.94,556.65 684.67,556.78 685.4,556.6 686.14,556.54 686.87,557.25 687.61,557.48 688.34,558.09 689.07,558.45 689.81,558.54 690.54,558.08 691.27,557.83 692.01,557.94 692.74,558.64 693.48,558.9 694.21,559.45 694.94,559.47 695.68,558.98 696.41,559.09 697.14,558.46 697.88,558.33 698.61,558.11 699.35,558.05 700.08,558.65 700.81,559.3 701.55,559.87 702.28,559.55 703.01,558.96 703.75,558.86 704.48,558.85 705.22,558.49 705.95,558.03 706.68,557.95 707.42,557.77 708.15,558.2 708.88,558.3 709.62,558.62 710.35,558.3 711.09,558.04 711.82,558.23 712.55,558.1 713.29,557.95 714.02,557.88 714.75,557.44 715.49,557.28 716.22,557.73 716.96,558.62 717.69,559 718.42,558.43 719.16,558.22 719.89,557.71 720.62,558.34 721.36,558.3 722.09,558.52 722.83,558.06 723.56,557.93 724.29,557.53 725.03,558 725.76,558.18 726.49,558.41 727.23,558.56 727.96,557.83 728.69,558.48 729.43,558.55 730.16,558.75 730.9,558.47 731.63,557.82 732.36,557.26 733.1,557.19 733.83,557.29 734.57,557.23 735.3,557.9 736.03,558.07 736.77,557.92 737.5,558.09 738.23,558.16 738.97,558.4 739.7,558.52 740.43,559.01 741.17,559.09 741.9,559.57 742.64,559.35 743.37,559.34 744.1,558.99 744.84,558.27 745.57,558.5 746.31,558.7 747.04,559.08 747.77,559.23 748.51,559.38 749.24,559.31 749.97,559 750.71,559.13 751.44,558.75 752.17,558.58 752.91,558 753.64,557.86 754.38,558.19 755.11,559.02 755.84,559.15 756.58,558.79 757.31,558.66 758.05,558.01 758.78,557.81 759.51,557.65 760.25,558.5 760.98,559.26 761.71,559.93 762.45,559.39 763.18,559.35 763.91,559.18 764.65,559.12 765.38,558.69 766.12,558.42 766.85,558.79 767.58,558.54 768.32,558.93 769.05,558.83 769.79,558.91 770.52,559.08 771.25,558.75 771.99,559.31 772.72,558.63 773.45,558.37 774.19,558.23 774.92,557.65 775.65,558.23 776.39,558.73 777.12,559.01 777.86,559.08 778.59,558.98 779.32,559.24 780.06,559.57 780.79,560.13 781.53,559.78 782.26,559.31 782.99,559.47 783.73,559.81 784.46,559.93 785.19,559.01 785.93,558.72 786.66,558.35 787.39,559.19 788.13,560.05 788.86,560.02 789.6,559.56 790.33,559.13 791.06,559.39 791.8,559.71 792.53,560.02 793.27,559.97 794,559.56 794.73,558.92 795.47,559.08 796.2,559.42" fill="none" stroke="#f00000" stroke-width="1.8" stroke-linejoin="round"/>
<polyline points="355.95,547.45 356.68,547.77 357.42,548.37 358.15,548.03 358.88,547.47 359.62,546.97 360.35,546.78 361.09,547.03 361.82,546.69 362.55,547.05 363.29,546.87 364.02,547.34 364.75,547.84 365.49,548.74 366.22,549.11 366.96,549.42 367.69,549.1 368.42,548.51 369.16,548.69 369.89,548.66 370.62,549.4 371.36,548.75 372.09,548.87 372.83,548.6 373.56,549.24 374.29,549.75 375.03,549.99 375.76,549.92 376.5,549.61 377.23,548.89 377.96,548.6 378.7,548.52 379.43,548.54 380.16,548.35 380.9,548.11 381.63,548.65 382.37,548.77 383.1,549.11 383.83,548.9 384.57,548.94 385.3,549.56 386.03,549.8 386.77,549.42 387.5,549.1 388.24,548.77 388.97,549.37 389.7,549.21 390.44,549.78 391.17,549.77 391.9,549.21 392.64,548.6 393.37,549.2 394.11,549.41 394.84,549.7 395.57,548.75 396.31,548.67 397.04,548.17 397.77,548.91 398.51,549.39 399.24,549.36 399.98,548.77 400.71,548.29 401.44,548.17 402.18,548.05 402.91,547.99 403.64,547.85 404.38,547.6 405.11,547.67 405.85,547.94 406.58,547.95 407.31,548.45 408.05,548.6 408.78,548.31 409.51,548.12 410.25,547.89 410.98,547.73 411.72,548.35 412.45,548.42 413.18,548.07 413.92,548.17 414.65,548.25 415.38,548.93 416.12,548.92 416.85,549.08 417.59,548.85 418.32,548.47 419.05,549.06 419.79,549.34 420.52,550.06 421.25,550.42 421.99,550.2 422.72,549.82 423.46,549.84 424.19,550.08 424.92,550.41 425.66,550.28 426.39,549.31 427.12,549.68 427.86,550.12 428.59,551.1 429.32,551.37 430.06,551.74 430.79,551.58 431.53,550.98 432.26,550.86 432.99,550.75 433.73,550.43 434.46,550.46 435.19,550.43 435.93,551.05 436.66,551.32 437.4,551.94 438.13,552.14 438.86,552.04 439.6,552.04 440.33,551.97 441.06,552.41 441.8,552.07 442.53,551.55 443.27,550.91 444,550.94 444.73,550.96 445.47,551.23 446.2,550.61 446.94,549.82 447.67,549.41 448.4,549.29 449.14,549.73 449.87,549.99 450.6,549.88 451.34,549.49 452.07,549.1 452.81,548.58 453.54,547.17 454.27,545.34 455.01,543.16 455.74,541.83 456.47,540.29 457.21,538.7 457.94,535.83 458.68,533.33 459.41,530.88 460.14,529.26 460.88,529.02 461.61,528.84 462.34,529.78 463.08,530.92 463.81,532.57 464.55,534.99 465.28,537.03 466.01,539.27 466.75,542.33 467.48,544.69 468.21,545.67 468.95,546.49 469.68,547.21 470.42,547.78 471.15,548.57 471.88,548.93 472.62,549.97 473.35,551.19 474.08,551.61 474.82,551.69 475.55,551.57 476.29,551.3 477.02,550.91 477.75,550.57 478.49,550.2 479.22,550.04 479.95,550.63 480.69,550.9 481.42,551.54 482.16,551.82 482.89,551.61 483.62,551.29 484.36,550.78 485.09,550.64 485.82,550.72 486.56,550.75 487.29,551.06 488.03,550.89 488.76,551.29 489.49,551.03 490.23,551.11 490.96,551.04 491.69,550.69 492.43,550.63 493.16,550.34 493.89,550.71 494.63,550.61 495.36,550.38 496.1,549.68 496.83,549.49 497.56,548.64 498.3,548.65 499.03,548.36 499.76,548.23 500.5,547.31 501.23,546.65 501.97,545.83 502.7,545.23 503.43,545.1 504.17,545.47 504.9,545.42 505.63,545.12 506.37,544.84 507.1,544.22 507.84,543.62 508.57,543.13 509.3,543.25 510.04,542.99 510.77,543.65 511.5,544.06 512.24,544.6 512.97,544.35 513.71,543.61 514.44,543.1 515.17,542.5 515.91,540.93 516.64,539.02 517.38,537.42 518.11,536.3 518.84,535.19 519.58,534.98 520.31,535.91 521.04,537.78 521.78,540.2 522.51,542.49 523.25,543.87 523.98,545.32 524.71,546.1 525.45,547.34 526.18,547.96 526.91,549.16 527.65,549.85 528.38,550.05 529.12,550.11 529.85,550.23 530.58,550.29 531.32,550.42 532.05,551.1 532.78,551.96 533.52,551.94 534.25,551.58 534.99,550.84 535.72,550.69 536.45,550.24 537.19,550.49 537.92,549.61 538.65,548.01 539.39,546.05 540.12,543.55 540.86,541.16 541.59,538.86 542.32,536.56 543.06,533.86 543.79,531.47 544.52,530.18 545.26,530.64 545.99,532.32 546.73,533.93 547.46,536.38 548.19,538.82 548.93,541.62 549.66,543.75 550.39,546.14 551.13,547.44 551.86,548.91 552.6,550.45 553.33,551.52 554.06,551.79 554.8,551.74 555.53,552.48 556.26,553.13 557,553.32 557.73,553.86 558.47,554 559.2,554.33 559.93,554.29 560.67,553.92 561.4,553.91 562.13,553.98 562.87,554.03 563.6,553.78 564.34,554.03 565.07,554.27 565.8,554.38 566.54,553.93 567.27,554.6 568,555.15 568.74,555.31 569.47,554.34 570.21,554.02 570.94,554.1 571.67,554.52 572.41,554.6 573.14,554.44 573.87,554.26 574.61,554.35 575.34,554.85 576.08,555.49 576.81,555.99 577.54,555.68 578.28,555.31 579.01,554.63 579.74,554.5 580.48,554.16 581.21,554.82 581.95,555.1 582.68,555.09 583.41,555.05 584.15,555.17 584.88,555.35 585.61,555.6 586.35,555.8 587.08,555.76 587.82,555.51 588.55,555.27 589.28,555.03 590.02,555.31 590.75,555.69 591.48,555.8 592.22,555.35 592.95,555.23 593.68,554.65 594.42,554.99 595.15,554.95 595.89,555.25 596.62,555.33 597.35,555.22 598.09,554.56 598.82,554.54 599.56,554.9 600.29,555.75 601.02,556.17 601.76,556.28 602.49,555.99 603.22,555.98 603.96,555.77 604.69,555.47 605.42,555.45 606.16,555.9 606.89,555.73 607.63,555.78 608.36,555.28 609.09,555.4 609.83,555.45 610.56,556 611.3,556.16 612.03,556.56 612.76,556.09 613.5,555.84 614.23,555.39 614.96,555.84 615.7,555.94 616.43,556.21 617.16,555.74 617.9,554.98 618.63,554.83 619.37,554.5 620.1,555.71 620.83,555.92 621.57,556.42 622.3,556.39 623.04,557.21 623.77,557.22 624.5,556.54 625.24,555.33 625.97,555.47 626.7,555.28 627.44,555.11 628.17,554.58 628.9,554.27 629.64,553.69 630.37,552.8 631.11,552.61 631.84,552.59 632.57,553.01 633.31,553.66 634.04,554.41 634.77,554.77 635.51,554.78 636.24,554.54 636.98,554.28 637.71,555.34 638.44,555.77 639.18,556.1 639.91,555.56 640.64,555.75 641.38,556.11 642.11,556.36 642.85,556.24 643.58,556.02 644.31,555.89 645.05,556.43 645.78,557.09 646.52,557.33 647.25,557 647.98,556.59 648.72,556.58 649.45,556.69 650.18,557.11 650.92,557.02 651.65,556.74 652.38,556.37 653.12,556.42 653.85,556.82 654.59,556.85 655.32,556.95 656.05,557.17 656.79,556.24 657.52,555.71 658.25,555.95 658.99,556.08 659.72,556.42 660.46,556.04 661.19,556.05 661.92,555.64 662.66,555.09 663.39,554.29 664.12,554.23 664.86,554.01 665.59,553.34 666.33,552.42 667.06,551.12 667.79,551.22 668.53,550.49 669.26,549.82 670,548.36 670.73,547.58 671.46,546.89 672.2,546.24 672.93,546.19 673.66,546.35 674.4,547.53 675.13,548.57 675.87,549.11 676.6,549.5 677.33,549.71 678.07,550.86 678.8,552.01 679.53,552.88 680.27,553.57 681,554 681.74,554.72 682.47,555.26 683.2,555.62 683.94,555.76 684.67,555.67 685.4,555.09 686.14,554.97 686.87,555.28 687.61,555.74 688.34,555.74 689.07,556.08 689.81,555.51 690.54,555.58 691.27,555.84 692.01,556 692.74,556.05 693.48,556.04 694.21,556.33 694.94,556.6 695.68,556.95 696.41,556.84 697.14,556.29 697.88,556.05 698.61,555.89 699.35,555.94 700.08,555.57 700.81,556.34 701.55,556.47 702.28,556.61 703.01,556.62 703.75,557.22 704.48,556.64 705.22,556.65 705.95,556.58 706.68,556.97 707.42,556.59 708.15,556.89 708.88,556.33 709.62,556.14 710.35,555.87 711.09,556.58 711.82,556.31 712.55,556.15 713.29,556.06 714.02,555.44 714.75,555.71 715.49,555.58 716.22,556.34 716.96,556.53 717.69,557.08 718.42,556.8 719.16,556.81 719.89,556.48 720.62,556.46 721.36,556.42 722.09,556.47 722.83,556.9 723.56,556.87 724.29,556.9 725.03,556.88 725.76,556.68 726.49,556.72 727.23,556.47 727.96,556.21 728.69,556.38 729.43,556.83 730.16,556.94 730.9,556.66 731.63,556.52 732.36,556.07 733.1,556.63 733.83,556.5 734.57,556.59 735.3,556.26 736.03,556.03 736.77,556.09 737.5,556.86 738.23,557.36 738.97,557.65 739.7,557.18 740.43,556.62 741.17,556.48 741.9,556.06 742.64,556.47 743.37,556.3 744.1,556.68 744.84,556.51 745.57,556.94 746.31,557.34 747.04,557.47 747.77,557.61 748.51,557.43 749.24,557.36 749.97,557.34 750.71,557.93 751.44,558.46 752.17,557.71 752.91,557.16 753.64,556.57 754.38,555.91 755.11,555.85 755.84,556.55 756.58,557.06 757.31,557.26 758.05,557.06 758.78,556.49 759.51,556.39 760.25,556.63 760.98,557.05 761.71,557.7 762.45,557.99 763.18,557.61 763.91,556.87 764.65,556.58 765.38,557.19 766.12,557.66 766.85,557.85 767.58,557.56 768.32,557.81 769.05,557.36 769.79,557.47 770.52,557.39 771.25,557.17 771.99,557.09 772.72,556.98 773.45,556.69 774.19,556.59 774.92,556.74 775.65,557.39 776.39,557.85 777.12,557.34 777.86,557.2 778.59,557.47 779.32,557.62 780.06,557.48 780.79,556.74 781.53,557.27 782.26,557.14 782.99,558.51 783.73,558.5 784.46,558.96 785.19,558.28 785.93,558.07 786.66,557.7 787.39,557.3 788.13,556.9 788.86,556.88 789.6,556.7 790.33,557.6 791.06,558.27 791.8,558.33 792.53,557.75 793.27,557.64 794,557.74 794.73,557.9 795.47,558.47 796.2,558.4" fill="none" stroke="#1a1a1a" stroke-width="1.8" stroke-linejoin="round"/>
<polyline points="413.48,619.06 414.21,619.04 414.94,619.38 415.68,619.55 416.41,619.58 417.14,619.38 417.88,619.38 418.61,619.62 419.35,620.03 420.08,620.05 420.81,620.1 421.55,620.27 422.28,620.9 423.01,621.13 423.75,621.2 424.48,620.92 425.22,620.54 425.95,621.01 426.68,621.41 427.42,621.69 428.15,621.62 428.88,621.2 429.62,620.87 430.35,620.9 431.09,621.84 431.82,622.35 432.55,622.46 433.29,622.41 434.02,622.59 434.75,622.76 435.49,622.91 436.22,622.21 436.96,622.13 437.69,621.82 438.42,622.33 439.16,622.55 439.89,622.87 440.62,622.3 441.36,621.75 442.09,621.87 442.83,622.22 443.56,622.24 444.29,622.21 445.03,621.6 445.76,621.75 446.49,621.51 447.23,621.16 447.96,620.97 448.7,620.65 449.43,620.43 450.16,619.56 450.9,619.42 451.63,618.46 452.36,618.18 453.1,617.2 453.83,617 454.57,615.91 455.3,614.61 456.03,613.05 456.77,611.16 457.5,609.16 458.23,606.72 458.97,604.51 459.7,602.69 460.44,602.06 461.17,601.47 461.9,602.09 462.64,603.01 463.37,603.99 464.1,605.29 464.84,606.92 465.57,608.98 466.31,611.62 467.04,613.21 467.77,614.99 468.51,616.28 469.24,617.81 469.97,618.93 470.71,619.68 471.44,620.16 472.18,620.65 472.91,621.68 473.64,621.85 474.38,622.59 475.11,622.42 475.84,622.67 476.58,621.99 477.31,622.37 478.05,622.63 478.78,623.01 479.51,622.92 480.25,622.9 480.98,623.33 481.71,623.54 482.45,623.44 483.18,623.26 483.92,622.59 484.65,622.83 485.38,622.48 486.12,622.77 486.85,622.91 487.58,623.69 488.32,623.59 489.05,623.5 489.79,623.02 490.52,622.83 491.25,622.97 491.99,622.77 492.72,623.24 493.45,622.69 494.19,622.36 494.92,621.91 495.66,621.26 496.39,620.42 497.12,620.19 497.86,619.91 498.59,619.85 499.32,618.91 500.06,617.81 500.79,617.37 501.53,617.51 502.26,617.09 502.99,616.48 503.73,615.6 504.46,615.56 505.19,615.8 505.93,615.51 506.66,615.08 507.4,614.99 508.13,614.25 508.86,614 509.6,613.49 510.33,613.21 511.06,613.26 511.8,613.55 512.53,613.41 513.27,612.95 514,612.51 514.73,611.14 515.47,610.11 516.2,608.62 516.93,607.79 517.67,606.93 518.4,605.66 519.14,604.28 519.87,603.37 520.6,603.66 521.34,605.15 522.07,606.97 522.8,609.62 523.54,611.92 524.27,613.85 525.01,615.26 525.74,616.61 526.47,617.65 527.21,618.83 527.94,619.53 528.67,619.84 529.41,619.63 530.14,619.59 530.88,619.68 531.61,619.53 532.34,619.5 533.08,619.15 533.81,619.37 534.54,619.43 535.28,619.38 536.01,618.99 536.75,618.34 537.48,617.1 538.21,615.64 538.95,614.13 539.68,612.07 540.41,609.55 541.15,606.59 541.88,603.36 542.62,599.86 543.35,596.41 544.08,593.5 544.82,592.1 545.55,591.87 546.28,592.47 547.02,594.2 547.75,597.35 548.49,600.68 549.22,604.07 549.95,606.31 550.69,609.21 551.42,611.6 552.15,614.24 552.89,616.39 553.62,618.96 554.36,619.91 555.09,620.28 555.82,620.07 556.56,620.12 557.29,619.92 558.02,620.09 558.76,620.75 559.49,621.03 560.23,621.42 560.96,621.89 561.69,622.42 562.43,622.47 563.16,622.3 563.89,622.3 564.63,622.05 565.36,622.48 566.1,622.69 566.83,623.04 567.56,623.23 568.3,623.14 569.03,623.01 569.76,623.21 570.5,623.45 571.23,623.86 571.97,623.24 572.7,623.32 573.43,622.87 574.17,623.16 574.9,623.46 575.63,623.76 576.37,623.54 577.1,623.44 577.84,623.81 578.57,623.71 579.3,624.42 580.04,624.09 580.77,623.99 581.5,623.99 582.24,623.36 582.97,623.2 583.71,623.11 584.44,623.22 585.17,623.57 585.91,623.84 586.64,624.51 587.37,624.65 588.11,624.59 588.84,624.38 589.58,624.08 590.31,623.7 591.04,623.8 591.78,624.21 592.51,624.03 593.24,624.68 593.98,624.3 594.71,624.57 595.45,624.38 596.18,624.86 596.91,625.23 597.65,625.39 598.38,625.2 599.11,624.96 599.85,625.09 600.58,625.49 601.32,625.59 602.05,625.55 602.78,625.29 603.52,625.34 604.25,625.08 604.98,625 605.72,625.38 606.45,626.11 607.19,626.15 607.92,626.57 608.65,626.48 609.39,626.56 610.12,626.65 610.85,626.63 611.59,626.75 612.32,626 613.06,625.91 613.79,626.21 614.52,626.48 615.26,626.39 615.99,626.23 616.72,626.58 617.46,626.77 618.19,627.16 618.93,627.09 619.66,626.7 620.39,626.39 621.13,625.97 621.86,626 622.59,625.36 623.33,625.27 624.06,624.92 624.8,625.46 625.53,625.12 626.26,625.17 627,625.22 627.73,625.54 628.46,625.31 629.2,625.01 629.93,624.66 630.67,624.27 631.4,623.75 632.13,623.64 632.87,623.65 633.6,623.31 634.33,623.47 635.07,623.19 635.8,623.06 636.54,623.59 637.27,624.41 638,625.17 638.74,625.24 639.47,625.35 640.2,625.74 640.94,625.81 641.67,625.9 642.41,625.99 643.14,626.2 643.87,626.08 644.61,626.11 645.34,626.03 646.07,626.27 646.81,626.03 647.54,626.49 648.28,626.45 649.01,626.64 649.74,626.39 650.48,626.26 651.21,626.78 651.94,626.79 652.68,626.86 653.41,626.56 654.15,626.99 654.88,626.82 655.61,627.37 656.35,627.07 657.08,627 657.81,626.06 658.55,625.56 659.28,625.46 660.02,625.67 660.75,625.79 661.48,625.93 662.22,626.12 662.95,626.09 663.68,626.04 664.42,625.86 665.15,625.78 665.89,625.57 666.62,624.76 667.35,624.64 668.09,623.84 668.82,623.69 669.55,622.59 670.29,621.44 671.02,620.36 671.76,619.47 672.49,619.26 673.22,618.8 673.96,618.9 674.69,618.49 675.42,619.12 676.16,619.06 676.89,619.59 677.63,620.28 678.36,621.8 679.09,622.65 679.83,623.56 680.56,624.18 681.29,624.48 682.03,624.86 682.76,625.33 683.5,625.62 684.23,625.69 684.96,625.44 685.7,625.41 686.43,625.7 687.16,625.75 687.9,625.66 688.63,625.83 689.37,626.2 690.1,626.28 690.83,626.31 691.57,626.29 692.3,626.45 693.03,626.34 693.77,626.64 694.5,625.95 695.24,625.77 695.97,625.52 696.7,626.81 697.44,626.49 698.17,626.69 698.9,626.22 699.64,626.31 700.37,626.93 701.11,627.38 701.84,627.5 702.57,627.29 703.31,627.43 704.04,627.96 704.77,627.85 705.51,628.15 706.24,627.91 706.98,628.22 707.71,628.03 708.44,628.28 709.18,627.67 709.91,628.14 710.64,628.39 711.38,628.62 712.11,628.69 712.85,628.85 713.58,628.27 714.31,628.25 715.05,627.92 715.78,628.07 716.51,628.43 717.25,628.93 717.98,628.68 718.72,628.21 719.45,627.36 720.18,627.2 720.92,627.73 721.65,628.35 722.38,628.38 723.12,628.37 723.85,627.49 724.59,627.33 725.32,626.82 726.05,627.03 726.79,627.48 727.52,627.8 728.25,627.73 728.99,627.73 729.72,627.81 730.46,627.9 731.19,627.88 731.92,628.11 732.66,628.25 733.39,628.05 734.12,627.91 734.86,626.97 735.59,626.85 736.33,626.65 737.06,626.72 737.79,626.75 738.53,627.22 739.26,627.17 739.99,627.68 740.73,628.01 741.46,628.63 742.2,628.86 742.93,628.86 743.66,628.02 744.4,628.14 745.13,627.89 745.86,628.11 746.6,627.9 747.33,628.09 748.07,628.07 748.8,628.25 749.53,628.32 750.27,628.31 751,628.37 751.73,628.7 752.47,629 753.2,628.93 753.94,628.74 754.67,628.53 755.4,628.31 756.14,628.11 756.87,628.04 757.6,628.25 758.34,627.83 759.07,627.85 759.81,628.02 760.54,628.46 761.27,628.91 762.01,628.76 762.74,629.18 763.47,628.87 764.21,629.06 764.94,629.12 765.68,629.18 766.41,628.9 767.14,628.77 767.88,628.88 768.61,629.27 769.34,628.92 770.08,628.14 770.81,628.83 771.55,628.59 772.28,628.69 773.01,628.8 773.75,629.51 774.48,629.38 775.21,628.78 775.95,628.51 776.68,628.89 777.42,628.95 778.15,629.15 778.88,628.55 779.62,628.21 780.35,627.8 781.08,628.23 781.82,628.34 782.55,629.01 783.29,629.21 784.02,629.22 784.75,628.41 785.49,627.51 786.22,627.76 786.95,628.1 787.69,628.69 788.42,629.09 789.16,629.18 789.89,629.47 790.62,629.53 791.36,629.66 792.09,630.18 792.82,630.52 793.56,630.36 794.29,629.58 795.03,629.7 795.76,629.15" fill="none" stroke="#1a1a1a" stroke-width="1.8" stroke-linejoin="round"/>
<text x="86" y="31.5" font-size="39.7" font-family="Liberation Sans" text-anchor="start" fill="#000" >Out-of-plane</text>
<text x="361" y="30.8" font-size="40.6" font-family="Liberation Sans" text-anchor="start" fill="#000" >In-plane</text>
<text transform="translate(1.7,89.9) scale(1,1.06)" font-size="30" font-family="Liberation Sans">FePt</text>
<text transform="translate(1.0,141.6) scale(1,1.06)" font-size="30" font-family="Liberation Sans">MgO</text>
<text transform="translate(46.9,507.6) rotate(-90) scale(0.952,1)" x="-3" y="0" font-size="37" font-family="Liberation Sans">Intensity (a.u.)</text>
<text x="110.8" y="676.4" font-size="33" font-family="Liberation Sans" text-anchor="middle" fill="#000" >20</text>
<text x="169.2" y="676.4" font-size="33" font-family="Liberation Sans" text-anchor="middle" fill="#000" >30</text>
<text x="227.6" y="676.4" font-size="33" font-family="Liberation Sans" text-anchor="middle" fill="#000" >40</text>
<text x="286" y="676.4" font-size="33" font-family="Liberation Sans" text-anchor="middle" fill="#000" >50</text>
<text x="385.3" y="676.4" font-size="33" font-family="Liberation Sans" text-anchor="middle" fill="#000" >20</text>
<text x="502.7" y="676.4" font-size="33" font-family="Liberation Sans" text-anchor="middle" fill="#000" >40</text>
<text x="620.1" y="676.4" font-size="33" font-family="Liberation Sans" text-anchor="middle" fill="#000" >60</text>
<text x="737.5" y="676.4" font-size="33" font-family="Liberation Sans" text-anchor="middle" fill="#000" >80</text>
<text x="137.7" y="723.4" font-size="33.4" font-family="Liberation Sans" text-anchor="start" fill="#000" >2</text>
<path d="M162.35 712.4a7.2 13.2 0 1 0 14.4 0a7.2 13.2 0 1 0 -14.4 0ZM165.25 712.2a4.75 11.35 0 1 0 9.5 0a4.75 11.35 0 1 0 -9.5 0Z" fill="#000" fill-rule="evenodd" transform="rotate(24 169.55 712.4)"/>
<line x1="165.55" y1="712.7" x2="173.95" y2="712.7" stroke="#000" stroke-width="1.5"/>
<text x="185.3" y="723.4" font-size="33.4" font-family="Liberation Sans" text-anchor="start" fill="#000" >(deg)</text>
<text x="507" y="725.6" font-size="34.5" font-family="Liberation Sans" text-anchor="start" fill="#000" >2</text>
<path d="M532.4 713.5a7.2 13.2 0 1 0 14.4 0a7.2 13.2 0 1 0 -14.4 0ZM535.3 713.3a4.75 11.35 0 1 0 9.5 0a4.75 11.35 0 1 0 -9.5 0Z" fill="#000" fill-rule="evenodd" transform="rotate(24 539.6 713.5)"/>
<line x1="535.6" y1="713.8" x2="544" y2="713.8" stroke="#000" stroke-width="1.5"/>
<path d="M545.2 724.3Q547.6 721.6 549.2 725.2L553.2 735.2Q554.9 737.9 556.9 735.2" fill="none" stroke="#000" stroke-width="2.1" stroke-linecap="round"/>
<path d="M555.2 723.2L546.2 737.6" fill="none" stroke="#000" stroke-width="1.3" stroke-linecap="round"/>
<text x="567.6" y="725.6" font-size="34.5" font-family="Liberation Sans" text-anchor="start" fill="#000" >(deg)</text>
<text x="90.2" y="608.1" font-size="33" font-family="Liberation Sans" text-anchor="start" fill="#000" >(a)</text>
<text x="362.4" y="608.2" font-size="33" font-family="Liberation Sans" text-anchor="start" fill="#000" >(b)</text>
<text x="561.4" y="197" font-size="26.4" font-family="Liberation Sans" text-anchor="start" fill="#000" >Heating time (min):</text>
<g transform="translate(748.69,267.8)"><text x="0" y="0" font-size="26" font-family="Liberation Sans" fill="#000">3</text><text x="14.46" y="0" font-size="26" font-family="Liberation Sans" fill="#000">0</text></g>
<g transform="translate(748.69,339.6)"><path class="g1" d="M763 0H583V1147Q518 1085 412.5 1023T223 930V1104Q374 1175 487 1276T647 1472H763V0Z" fill="#000" transform="translate(0,0) scale(0.01270,-0.01270)"/><text x="14.46" y="0" font-size="26" font-family="Liberation Sans" fill="#000">0</text></g>
<g transform="translate(763.14,406.8)"><text x="0" y="0" font-size="26" font-family="Liberation Sans" fill="#000">5</text></g>
<g transform="translate(763.14,478.2)"><text x="0" y="0" font-size="26" font-family="Liberation Sans" fill="#000">2</text></g>
<g transform="translate(762.14,546.8)"><path class="g1" d="M763 0H583V1147Q518 1085 412.5 1023T223 930V1104Q374 1175 487 1276T647 1472H763V0Z" fill="#000" transform="translate(0,0) scale(0.01270,-0.01270)"/></g>
<text x="782.3" y="613" font-size="27" font-family="Liberation Sans" text-anchor="end" fill="#000" >w/o</text>
<text transform="translate(573.9,396.6) scale(1,1.04)" font-size="30" font-family="Liberation Sans" fill="#ff0000">NH<tspan font-size="19.5" dy="6.6" dx="0.6">3</tspan></text>
<text x="582" y="464.3" font-size="30" font-family="Liberation Sans" text-anchor="start" fill="#000" >Ar</text>
</svg>
</body></html>
